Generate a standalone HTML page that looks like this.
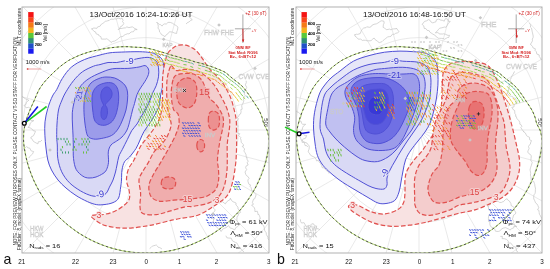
<!DOCTYPE html>
<html><head><meta charset="utf-8"><style>
html,body{margin:0;padding:0;background:#fff;width:550px;height:269px;overflow:hidden}
svg{display:block}
text{font-family:"Liberation Sans",Arial,sans-serif}
</style></head><body>
<svg width="550" height="269" viewBox="0 0 550 269">
<rect width="550" height="269" fill="#fff"/>
<clipPath id="ca"><rect x="22" y="7" width="247" height="246"/></clipPath>
<g clip-path="url(#ca)">
<g fill="none" stroke="#dadada" stroke-width="0.6"><circle cx="146" cy="130" r="30.8"/><circle cx="146" cy="130" r="61.6"/><circle cx="146" cy="130" r="92.4"/><circle cx="146" cy="130" r="123.2"/><circle cx="146" cy="130" r="154.0"/><circle cx="146" cy="130" r="184.8"/><line x1="146" y1="130" x2="146.0" y2="430.0"/><line x1="146" y1="130" x2="223.6" y2="419.8"/><line x1="146" y1="130" x2="296.0" y2="389.8"/><line x1="146" y1="130" x2="358.1" y2="342.1"/><line x1="146" y1="130" x2="405.8" y2="280.0"/><line x1="146" y1="130" x2="435.8" y2="207.6"/><line x1="146" y1="130" x2="446.0" y2="130.0"/><line x1="146" y1="130" x2="435.8" y2="52.4"/><line x1="146" y1="130" x2="405.8" y2="-20.0"/><line x1="146" y1="130" x2="358.1" y2="-82.1"/><line x1="146" y1="130" x2="296.0" y2="-129.8"/><line x1="146" y1="130" x2="223.6" y2="-159.8"/><line x1="146" y1="130" x2="146.0" y2="-170.0"/><line x1="146" y1="130" x2="68.4" y2="-159.8"/><line x1="146" y1="130" x2="-4.0" y2="-129.8"/><line x1="146" y1="130" x2="-66.1" y2="-82.1"/><line x1="146" y1="130" x2="-113.8" y2="-20.0"/><line x1="146" y1="130" x2="-143.8" y2="52.4"/><line x1="146" y1="130" x2="-154.0" y2="130.0"/><line x1="146" y1="130" x2="-143.8" y2="207.6"/><line x1="146" y1="130" x2="-113.8" y2="280.0"/><line x1="146" y1="130" x2="-66.1" y2="342.1"/><line x1="146" y1="130" x2="-4.0" y2="389.8"/><line x1="146" y1="130" x2="68.4" y2="419.8"/></g>
<g fill="none" stroke="#c4c4c4" stroke-width="0.7"><path d="M91.2,29.2 L93.8,28.0 L95.0,28.1 L96.8,28.4 L97.6,26.9 L100.1,26.2 L101.3,24.2 L102.2,24.0 L103.2,23.0 L105.9,21.0 L106.1,21.2 L109.2,20.4 L109.7,19.9 L111.0,19.1 L113.4,19.3 L114.7,18.8 L116.4,19.0 L118.1,18.1 L120.7,18.8 L122.0,18.1 L123.2,20.7 L122.4,21.4 L124.0,23.5 L123.2,24.3 L122.0,26.0 L120.0,27.1 L119.9,28.8 L118.2,29.6 L119.2,28.6 L122.2,28.4 L123.0,28.1 L125.6,27.8 L126.8,26.9 L128.9,27.6 L130.8,27.2 L132.6,26.8 L133.8,28.0 L137.2,29.6 L134.7,29.7 L133.4,31.8 L132.4,31.8 L131.1,32.0 L129.0,33.9 L127.6,33.7 L125.6,34.5 L125.2,34.2 L123.5,36.1 L122.1,36.6 L120.5,36.8 L118.9,37.9 L116.9,39.9 L116.5,40.0 L114.6,41.1 L112.5,41.5 L111.0,42.5 L109.9,41.0 L107.7,39.4 L106.8,38.7 L106.0,39.1 L104.1,39.1 L101.4,39.1 L100.9,36.7 L98.6,35.4 L98.6,34.6 L96.3,34.0 L95.5,31.9 L94.0,31.4 L92.6,29.6 L91.8,28.6"/><path d="M157.1,23.0 L157.0,22.5 L159.6,24.5 L160.7,24.7 L162.0,26.1 L163.3,24.5 L164.4,23.9 L166.3,24.0 L168.0,22.4 L169.0,22.4 L170.2,22.4 L172.6,23.3 L174.3,24.6 L175.8,25.3 L176.5,25.7 L177.9,27.1 L177.5,30.3 L177.0,30.7 L176.6,33.5 L174.4,33.0 L172.4,32.1 L169.8,31.8 L169.5,31.7 L167.9,33.8 L166.2,34.8 L165.0,36.7 L163.3,35.5 L161.4,34.6 L160.6,32.9 L159.6,32.1 L159.3,29.9 L158.0,28.1 L158.3,26.4 L158.1,25.0 L157.6,23.5 L156.4,22.3"/><path d="M167.6,12.1 L169.2,13.0 L171.0,12.9 L171.4,14.9 L173.2,14.8 L175.8,16.0 L177.3,15.6 L178.8,14.6 L180.6,15.4 L182.2,14.8 L184.3,13.3 L186.0,15.1 L186.9,15.2 L189.4,17.0 L190.8,18.6 L192.3,19.7 L190.3,20.7 L188.9,22.2 L188.1,22.1 L186.0,24.0"/><path d="M246.2,80.8 L246.3,82.6 L245.3,84.9 L246.9,87.4 L246.4,87.8 L245.6,89.6 L244.5,90.9 L244.4,94.4 L245.3,95.8 L244.9,96.2 L243.4,98.8 L243.9,100.9 L243.8,100.9 L242.8,103.9 L242.2,104.4 L241.7,105.9 L242.2,109.2 L240.8,109.6 L241.1,111.8 L240.5,114.0 L239.1,114.6 L238.8,116.2 L237.3,117.6 L238.5,118.8 L236.6,121.8 L237.0,123.3 L237.2,124.7 L238.2,126.1 L236.7,127.9 L237.0,129.8 L237.1,132.3 L237.8,133.3 L239.8,133.7 L238.6,135.4 L240.9,137.7 L240.5,138.5 L241.1,140.2 L241.2,142.4 L243.4,144.5 L243.4,146.2 L242.2,146.3 L244.7,149.0 L243.8,151.0 L244.9,152.4 L244.9,152.7 L245.9,154.2 L246.4,157.7 L247.0,157.3 L247.0,159.3 L248.3,161.4 L247.0,162.5 L248.2,165.0 L246.2,165.9 L245.6,167.8 L246.7,169.5 L245.0,172.0 L245.9,174.7 L246.2,175.3 L248.1,176.7 L249.1,178.5 L247.9,179.9 L248.0,181.6 L248.9,184.2 L250.7,185.0 L249.8,186.1 L251.1,187.7 L251.9,190.8 L252.5,190.7 L255.1,193.5 L256.1,194.8 L255.4,197.0 L254.6,198.9 L253.5,199.1 L252.4,202.5 L253.4,204.3 L251.6,205.3 L253.5,206.7 L254.4,207.9 L254.9,209.7 L254.9,211.6 L257.3,211.2 L258.2,214.6 L258.4,214.0 L259.5,215.8 L260.4,218.7 L259.0,219.3 L261.0,221.8 L261.9,224.3 L261.4,223.9 L263.6,225.6 L264.2,227.5 L264.7,230.6 L265.5,231.8 L266.2,232.7 L266.4,234.6 L267.9,237.3 L267.9,238.4 L269.0,240.0"/><path d="M22.2,96.5 L24.1,97.9 L25.5,98.8 L25.6,98.9 L28.9,100.3 L28.1,100.7 L26.4,102.5 L25.8,104.6 L24.0,105.4 L26.1,107.8 L28.5,107.3 L30.1,108.3 L31.2,109.3 L29.0,112.2 L28.4,112.4 L29.0,115.2 L26.6,116.9 L28.6,117.6 L29.4,119.4 L31.9,120.7 L33.8,120.6 L31.7,121.8 L30.3,123.1 L29.6,125.7 L28.0,127.4 L30.2,127.9 L32.6,129.5 L33.1,130.7 L35.4,131.1 L35.0,132.5 L33.5,135.7 L31.0,137.1 L30.7,138.2 L31.5,138.3 L33.4,141.4 L34.9,142.3 L37.9,143.9 L38.4,141.7 L40.4,141.6 L42.0,140.0"/><path d="M22.6,150.6 L23.2,148.5 L23.5,148.3 L25.7,147.5 L26.7,146.5 L27.7,147.8 L29.9,148.2 L30.7,150.0 L31.2,150.9 L33.6,151.5 L32.6,153.9 L31.7,154.7 L29.2,157.1 L29.0,158.0"/><path d="M211.6,204.3 L213.8,202.9 L215.1,202.2 L215.6,201.3 L217.1,199.9 L218.9,199.9 L221.3,202.2 L222.5,201.7 L225.3,203.9 L226.7,201.8 L229.0,200.1 L230.2,199.6 L230.3,198.2 L231.9,200.9 L232.9,201.7 L235.0,202.5 L236.1,203.1 L235.9,205.0 L238.0,207.1 L238.0,209.0 L239.1,210.0 L240.6,212.4 L238.5,213.6 L238.1,215.8 L237.5,216.1 L237.0,217.2 L236.8,220.0 L237.3,221.0 L238.1,222.8 L240.5,224.1 L239.3,224.9 L237.4,226.7 L235.7,227.7 L234.7,229.9 L232.4,228.6 L230.1,227.9 L229.8,227.7 L228.6,225.6 L226.3,227.6 L224.0,228.4 L222.8,229.0 L221.1,231.5 L219.8,229.2 L218.8,229.2 L216.7,227.1 L216.1,226.8 L215.8,225.1 L214.0,222.6 L213.3,222.0 L213.7,218.9 L211.4,217.5 L212.2,216.2 L213.7,214.0 L213.3,212.6 L214.7,211.1 L215.2,209.9 L213.5,208.2 L213.1,205.6 L212.0,205.0"/><path d="M225.9,235.7 L226.8,237.7 L228.0,238.0 L231.3,238.2 L232.1,240.2 L232.6,241.0 L235.4,242.4 L237.0,243.1 L237.5,244.2 L239.2,247.2 L240.6,248.3 L241.4,249.7 L242.0,250.2 L244.0,252.0"/><path d="M149.6,248.7 L150.9,247.6 L152.3,246.1 L155.3,245.3 L156.2,244.9 L157.4,246.0 L158.5,247.5 L159.8,247.6 L162.0,249.0"/></g>
<path d="M45.0,121.8 C45.5,117.3 46.5,112.7 47.8,108.4 C49.0,104.1 51.0,99.1 52.5,96.0 C54.0,92.9 55.1,92.5 56.7,89.6 C58.3,86.7 59.9,82.2 62.3,78.5 C64.7,74.8 67.5,70.5 71.2,67.3 C74.9,64.1 79.8,61.5 84.6,59.5 C89.4,57.5 95.8,56.1 100.0,55.0 C104.2,53.9 106.5,53.3 110.0,52.8 C113.5,52.3 116.4,52.3 121.2,52.1 C126.0,51.9 134.3,51.6 139.1,51.7 C143.9,51.8 147.3,52.1 150.0,52.5 C152.7,52.9 153.0,52.9 155.0,54.0 C157.0,55.1 160.3,56.6 161.8,58.9 C163.3,61.2 163.6,64.8 164.0,67.8 C164.4,70.8 164.2,73.8 164.0,76.8 C163.8,79.8 163.5,82.7 162.9,85.7 C162.3,88.7 161.2,91.6 160.7,94.6 C160.1,97.6 160.1,100.9 159.6,103.5 C159.1,106.1 159.0,107.0 157.5,110.0 C156.0,113.0 152.9,118.2 150.7,121.8 C148.4,125.4 145.8,128.5 144.0,131.5 C142.2,134.5 141.3,137.2 140.0,140.0 C138.7,142.8 137.8,145.7 136.0,148.5 C134.2,151.3 131.4,154.8 129.5,157.0 C127.6,159.2 125.8,159.6 124.5,161.8 C123.2,164.0 122.5,167.0 122.0,170.0 C121.5,173.0 121.7,177.2 121.5,180.0 C121.3,182.8 121.2,183.8 120.7,186.8 C120.2,189.8 119.9,195.4 118.6,198.0 C117.3,200.6 115.4,201.5 113.0,202.6 C110.6,203.7 106.8,204.3 104.0,204.6 C101.2,204.9 99.1,205.1 96.3,204.6 C93.5,204.1 90.8,203.1 87.4,201.6 C84.0,200.1 79.6,197.8 76.0,195.5 C72.4,193.2 69.0,190.6 66.0,188.0 C63.0,185.4 60.4,183.0 58.0,180.0 C55.6,177.0 53.2,173.3 51.5,170.0 C49.8,166.7 48.7,163.7 47.8,160.0 C46.9,156.3 46.5,152.1 46.0,148.0 C45.5,143.9 45.1,139.6 44.9,135.2 C44.7,130.8 44.5,126.3 45.0,121.8Z" fill="#e7e7f8" stroke="#5050d6" stroke-width="1.0"/>
<path d="M57.0,124.0 C57.3,119.4 57.7,114.0 58.5,110.0 C59.3,106.0 60.8,103.0 62.0,100.0 C63.2,97.0 64.1,95.0 66.0,91.8 C67.9,88.6 70.8,84.0 73.5,80.7 C76.2,77.4 79.1,74.2 82.4,71.8 C85.7,69.4 90.6,67.4 93.5,66.2 C96.4,65.0 97.6,65.2 100.0,64.6 C102.4,64.0 105.2,62.9 108.0,62.5 C110.8,62.1 114.1,62.8 116.8,62.5 C119.5,62.2 121.8,61.3 124.0,61.0 C126.2,60.7 127.5,60.9 130.0,60.5 C132.5,60.1 135.8,58.9 139.0,58.4 C142.2,57.9 146.6,57.0 149.5,57.5 C152.4,58.0 154.7,59.5 156.2,61.2 C157.7,62.9 158.1,65.2 158.5,67.8 C158.9,70.4 158.9,73.8 158.5,76.8 C158.1,79.8 157.1,83.1 156.2,85.7 C155.3,88.3 153.8,90.2 152.9,92.4 C152.0,94.6 151.6,96.4 150.5,99.0 C149.4,101.6 148.0,105.2 146.5,108.0 C145.0,110.8 143.1,113.3 141.5,116.0 C139.9,118.7 138.6,121.5 137.0,124.0 C135.4,126.5 133.3,128.1 131.7,130.7 C130.1,133.3 128.9,136.5 127.3,139.6 C125.7,142.7 123.7,146.7 122.3,149.5 C120.9,152.3 119.8,153.6 118.9,156.2 C118.0,158.8 117.6,162.4 117.0,165.0 C116.4,167.6 116.2,169.5 115.5,172.0 C114.8,174.5 113.9,177.7 113.0,180.0 C112.1,182.3 111.2,183.8 110.0,186.0 C108.8,188.2 107.7,191.8 106.0,193.5 C104.3,195.2 102.4,195.6 100.0,196.0 C97.6,196.4 95.0,196.6 91.8,195.8 C88.6,195.0 84.4,193.2 80.7,191.0 C77.0,188.8 72.7,186.0 69.5,182.8 C66.3,179.6 63.7,175.9 61.7,171.8 C59.8,167.7 58.5,162.9 57.8,158.4 C57.1,153.9 57.5,148.5 57.3,145.0 C57.1,141.5 56.8,140.9 56.7,137.4 C56.7,133.9 56.7,128.6 57.0,124.0Z" fill="#d9d9f5" stroke="#5050d6" stroke-width="1.0"/>
<path d="M72.5,125.0 C72.4,121.3 72.0,117.0 72.3,112.8 C72.6,108.6 73.8,103.3 74.6,100.0 C75.4,96.7 75.9,95.5 77.0,93.0 C78.1,90.5 79.3,87.6 81.3,85.2 C83.3,82.8 86.0,80.5 89.1,78.5 C92.2,76.5 96.1,74.6 100.0,73.0 C103.9,71.4 107.6,69.6 112.3,68.8 C117.0,68.0 123.5,68.7 127.9,68.4 C132.3,68.1 136.1,67.5 139.0,67.0 C141.9,66.5 143.5,65.3 145.1,65.6 C146.7,65.9 147.8,67.5 148.4,69.0 C149.0,70.5 149.0,72.5 148.4,74.5 C147.8,76.5 146.4,79.0 145.1,81.2 C143.8,83.4 141.9,85.7 140.6,87.9 C139.2,90.1 138.0,92.0 137.0,94.6 C136.0,97.2 135.2,100.9 134.5,103.5 C133.8,106.1 133.2,107.3 132.5,110.0 C131.8,112.7 131.1,116.2 130.2,119.5 C129.3,122.8 128.4,127.1 127.0,130.0 C125.6,132.9 123.7,135.2 122.0,137.0 C120.3,138.8 118.5,139.7 116.7,141.0 C114.9,142.3 112.4,143.2 111.0,145.0 C109.6,146.8 108.7,149.0 108.3,151.9 C107.9,154.8 108.8,159.3 108.5,162.3 C108.2,165.3 107.4,167.8 106.5,169.7 C105.6,171.6 104.8,172.3 103.0,173.5 C101.2,174.7 98.3,176.2 96.0,177.0 C93.7,177.8 91.2,178.1 89.0,178.0 C86.8,177.9 85.0,177.6 82.9,176.2 C80.8,174.8 77.8,172.5 76.2,169.5 C74.6,166.5 74.0,162.5 73.5,158.4 C73.0,154.3 73.4,148.9 73.3,145.0 C73.2,141.1 73.1,138.3 73.0,135.0 C72.9,131.7 72.6,128.7 72.5,125.0Z" fill="#c0c0f1" stroke="#5050d6" stroke-width="1.0"/>
<path d="M84.0,112.8 C83.8,108.0 83.9,103.6 84.3,100.0 C84.7,96.4 85.4,93.8 86.5,91.0 C87.6,88.2 88.9,85.1 91.0,83.0 C93.1,80.9 96.4,79.5 98.9,78.5 C101.4,77.5 103.4,77.1 106.0,77.0 C108.6,76.9 112.2,77.2 114.7,78.0 C117.2,78.8 119.2,80.2 121.0,81.5 C122.8,82.8 124.4,84.2 125.5,86.0 C126.6,87.8 127.2,89.7 127.5,92.0 C127.8,94.3 127.8,97.0 127.5,100.0 C127.2,103.0 126.8,106.7 126.0,110.0 C125.2,113.3 123.8,116.8 122.5,120.0 C121.2,123.2 119.8,126.4 118.0,129.0 C116.2,131.6 114.3,133.9 111.5,135.5 C108.7,137.1 104.2,137.9 101.2,138.5 C98.2,139.1 95.7,139.4 93.5,139.0 C91.3,138.6 89.3,138.1 88.0,136.3 C86.7,134.6 86.4,132.4 85.7,128.5 C85.0,124.6 84.2,117.5 84.0,112.8Z" fill="#9c9cea" stroke="#5050d6" stroke-width="1.0"/>
<path d="M92.0,100.0 C92.0,97.0 92.1,94.3 93.0,92.0 C93.9,89.7 95.5,87.5 97.5,86.0 C99.5,84.5 102.6,83.5 105.0,83.0 C107.4,82.5 110.1,82.4 112.0,83.0 C113.9,83.6 115.4,84.8 116.5,86.5 C117.6,88.2 118.2,90.5 118.5,93.0 C118.8,95.5 118.8,98.4 118.5,101.7 C118.2,105.0 117.5,109.6 116.5,112.8 C115.5,116.0 114.2,119.0 112.5,121.0 C110.8,123.0 108.2,124.4 106.0,125.0 C103.8,125.6 100.9,125.3 99.0,124.5 C97.1,123.7 95.5,122.4 94.5,120.0 C93.5,117.6 93.1,113.3 92.7,110.0 C92.3,106.7 92.0,103.0 92.0,100.0Z" fill="#7070e4" stroke="#5050d6" stroke-width="1.0"/>
<path d="M106.5,87.0 C107.8,86.8 109.1,87.6 110.0,88.5 C110.9,89.4 111.8,91.1 112.0,92.5 C112.2,93.9 112.1,95.6 111.5,97.0 C110.9,98.4 109.5,99.8 108.5,101.0 C107.5,102.2 105.8,103.3 105.5,104.5 C105.2,105.7 106.7,106.6 107.0,108.0 C107.3,109.4 107.7,111.3 107.5,113.0 C107.3,114.7 106.6,116.9 106.0,118.0 C105.4,119.1 104.8,119.6 104.0,119.5 C103.2,119.4 102.0,118.8 101.5,117.5 C101.0,116.2 100.9,113.7 101.0,112.0 C101.1,110.3 101.6,108.7 102.0,107.5 C102.4,106.3 103.6,106.2 103.5,105.0 C103.4,103.8 102.0,102.2 101.5,100.5 C101.0,98.8 100.6,96.8 100.8,95.0 C101.0,93.2 101.5,90.8 102.5,89.5 C103.5,88.2 105.2,87.2 106.5,87.0Z" fill="#5a5ade" stroke="#5050d6" stroke-width="1.0"/>
<path d="M165.6,60.0 C166.3,57.2 166.8,55.0 168.0,53.0 C169.2,51.0 171.2,49.3 173.0,48.0 C174.8,46.7 176.4,45.7 178.6,45.2 C180.8,44.7 183.7,44.7 186.0,45.2 C188.3,45.7 190.6,46.9 192.5,48.0 C194.4,49.1 195.5,49.8 197.2,51.7 C198.9,53.6 200.8,56.3 202.8,59.2 C204.9,62.1 206.9,65.8 209.5,68.9 C212.1,72.0 215.8,74.8 218.4,77.8 C221.0,80.8 223.1,83.4 225.1,86.8 C227.1,90.2 229.2,94.2 230.7,97.9 C232.2,101.6 233.1,105.4 234.0,109.1 C234.9,112.8 235.8,115.7 236.2,120.0 C236.6,124.3 236.4,130.0 236.5,135.0 C236.6,140.0 236.7,145.0 236.5,150.0 C236.3,155.0 236.2,159.5 235.5,165.0 C234.8,170.5 233.8,177.6 232.4,182.8 C231.0,188.0 230.0,192.3 226.8,196.2 C223.7,200.1 218.3,203.1 213.5,206.3 C208.7,209.5 203.4,213.2 197.8,215.2 C192.2,217.2 184.3,217.7 180.0,218.5 C175.7,219.3 175.4,219.4 171.8,220.2 C168.2,221.0 162.5,222.6 158.5,223.5 C154.5,224.4 152.3,225.0 148.0,225.7 C143.7,226.4 137.4,227.5 132.6,227.9 C127.8,228.3 123.7,228.3 119.2,227.9 C114.7,227.5 109.5,226.8 105.8,225.7 C102.1,224.6 99.3,222.9 96.9,221.2 C94.5,219.5 90.2,216.8 91.3,215.7 C92.4,214.6 99.7,215.2 103.6,214.5 C107.5,213.8 111.4,212.7 114.8,211.2 C118.2,209.7 121.3,207.6 123.7,205.6 C126.1,203.6 128.4,201.5 129.3,198.9 C130.2,196.3 129.5,193.1 129.0,190.0 C128.5,186.9 126.6,183.6 126.5,180.1 C126.4,176.6 127.2,172.2 128.5,168.9 C129.8,165.6 132.0,163.8 134.0,160.0 C136.0,156.2 138.4,150.1 140.6,146.3 C142.8,142.5 145.1,140.4 147.3,137.4 C149.5,134.4 152.1,131.5 154.0,128.5 C155.9,125.5 157.7,122.8 159.0,119.5 C160.3,116.2 161.4,112.5 162.0,108.4 C162.6,104.3 162.4,99.7 162.5,95.0 C162.6,90.3 162.3,84.2 162.5,80.0 C162.7,75.8 163.0,73.3 163.5,70.0 C164.0,66.7 164.8,62.8 165.6,60.0Z" fill="#f8e2e2" stroke="#e0504e" stroke-width="1.2" stroke-dasharray="4.6,2.2"/>
<path d="M171.0,66.0 C172.4,64.8 173.8,69.9 176.0,70.5 C178.2,71.1 181.0,69.4 184.2,69.4 C187.4,69.4 191.8,69.3 195.3,70.3 C198.8,71.3 201.9,73.2 205.0,75.6 C208.1,78.0 211.3,81.2 213.9,84.5 C216.5,87.8 218.6,92.0 220.6,95.7 C222.6,99.4 224.7,103.1 226.2,106.8 C227.7,110.5 228.9,114.5 229.5,118.0 C230.1,121.5 229.9,123.5 229.5,127.8 C229.1,132.1 227.7,138.3 227.3,143.5 C226.9,148.7 227.4,154.7 227.3,159.1 C227.2,163.5 227.4,165.7 227.0,170.0 C226.6,174.3 225.9,180.6 224.6,185.0 C223.3,189.4 221.6,193.2 219.0,196.2 C216.4,199.2 213.3,201.2 209.0,202.9 C204.7,204.6 197.4,205.7 193.4,206.3 C189.4,207.0 189.0,206.0 185.0,206.8 C181.0,207.6 174.4,209.9 169.6,211.2 C164.8,212.5 160.7,214.2 156.2,214.6 C151.7,215.0 145.5,214.8 142.8,213.5 C140.1,212.2 140.4,210.2 140.0,206.8 C139.6,203.5 140.8,197.9 140.6,193.4 C140.4,188.9 138.7,183.5 139.0,180.0 C139.3,176.5 140.7,175.1 142.2,172.3 C143.7,169.5 145.8,166.8 147.8,163.4 C149.8,160.0 152.0,154.9 154.0,152.0 C156.0,149.1 157.9,148.6 160.0,146.2 C162.1,143.8 164.9,140.6 166.7,137.3 C168.5,134.0 170.4,129.4 171.0,126.2 C171.6,123.0 170.5,120.8 170.0,118.0 C169.5,115.2 168.4,113.2 167.8,109.1 C167.2,105.0 166.8,98.7 166.7,93.5 C166.6,88.3 166.6,82.6 167.3,78.0 C168.0,73.4 169.6,67.2 171.0,66.0Z" fill="#f4cdcd" stroke="#e0504e" stroke-width="1.2" stroke-dasharray="4.6,2.2"/>
<path d="M173.4,78.5 C174.5,75.3 176.1,75.3 178.0,74.5 C179.9,73.7 182.4,73.6 185.0,73.5 C187.6,73.4 190.8,73.0 193.5,74.0 C196.2,75.0 199.3,77.2 201.3,79.5 C203.3,81.8 204.1,84.9 205.5,88.0 C206.9,91.1 207.7,95.1 209.5,97.9 C211.3,100.7 214.2,102.0 216.2,104.6 C218.2,107.2 220.5,110.9 221.7,113.5 C222.9,116.1 223.3,117.6 223.5,120.0 C223.7,122.4 223.5,123.9 222.8,127.8 C222.1,131.7 220.4,138.3 219.5,143.5 C218.6,148.7 217.7,154.7 217.5,159.1 C217.3,163.5 218.3,166.4 218.5,170.0 C218.7,173.6 219.0,177.3 218.5,180.6 C218.0,183.8 217.6,186.9 215.7,189.5 C213.8,192.1 210.3,194.7 206.8,196.2 C203.3,197.7 198.1,197.9 194.5,198.5 C190.9,199.1 188.5,199.2 185.0,199.5 C181.5,199.8 177.7,199.9 173.5,200.2 C169.3,200.5 163.8,201.9 160.1,201.3 C156.4,200.7 153.1,199.4 151.2,196.8 C149.3,194.2 148.5,189.4 148.9,185.7 C149.3,182.0 151.5,178.2 153.4,174.5 C155.3,170.8 158.2,166.7 160.1,163.4 C162.0,160.2 163.3,157.9 165.0,155.0 C166.7,152.1 168.2,149.3 170.0,146.0 C171.8,142.7 174.1,138.8 175.6,135.1 C177.1,131.4 178.6,127.5 179.0,124.0 C179.4,120.5 178.9,116.5 178.0,114.0 C177.1,111.5 174.5,112.5 173.4,109.1 C172.3,105.7 171.2,98.6 171.2,93.5 C171.2,88.4 172.3,81.7 173.4,78.5Z" fill="#f0adad" stroke="#e0504e" stroke-width="1.2" stroke-dasharray="4.6,2.2"/>
<path d="M176.7,93.0 C176.5,89.7 176.3,85.5 178.0,83.0 C179.7,80.5 183.9,78.0 186.7,77.8 C189.5,77.6 193.3,79.5 195.0,82.0 C196.7,84.5 197.0,89.3 196.8,93.0 C196.6,96.7 195.7,101.5 194.0,104.0 C192.3,106.5 189.2,108.2 186.7,108.0 C184.2,107.8 180.7,105.5 179.0,103.0 C177.3,100.5 176.9,96.3 176.7,93.0Z" fill="#ec9090" stroke="#e0504e" stroke-width="1.2" stroke-dasharray="4.6,2.2"/>
<path d="M208.3,120.6 C208.3,118.2 208.6,114.6 209.5,113.0 C210.4,111.4 212.4,110.9 213.9,111.1 C215.4,111.3 217.6,112.4 218.5,114.0 C219.4,115.6 219.5,118.4 219.5,120.6 C219.5,122.8 219.4,125.4 218.5,127.0 C217.6,128.6 215.4,130.0 213.9,130.1 C212.4,130.2 210.4,129.1 209.5,127.5 C208.6,125.9 208.3,123.0 208.3,120.6Z" fill="#ec9090" stroke="#e0504e" stroke-width="1.2" stroke-dasharray="4.6,2.2"/>
<path d="M196.8,145.6 C196.8,144.1 197.3,142.0 198.0,141.0 C198.7,140.0 199.8,139.5 200.7,139.5 C201.6,139.5 202.8,140.0 203.5,141.0 C204.2,142.0 204.6,144.1 204.6,145.6 C204.6,147.1 204.2,149.0 203.5,150.0 C202.8,151.0 201.6,151.8 200.7,151.8 C199.8,151.8 198.7,151.0 198.0,150.0 C197.3,149.0 196.8,147.1 196.8,145.6Z" fill="#ec9090" stroke="#e0504e" stroke-width="1.2" stroke-dasharray="4.6,2.2"/>
<path d="M161.2,183.0 C161.2,181.5 161.8,179.5 163.0,178.5 C164.2,177.5 166.7,176.8 168.5,176.8 C170.3,176.8 172.8,177.5 174.0,178.5 C175.2,179.5 175.7,181.5 175.7,183.0 C175.7,184.5 175.2,186.5 174.0,187.5 C172.8,188.5 170.3,189.0 168.5,189.0 C166.7,189.0 164.2,188.5 163.0,187.5 C161.8,186.5 161.2,184.5 161.2,183.0Z" fill="#ec9090" stroke="#e0504e" stroke-width="1.2" stroke-dasharray="4.6,2.2"/>
<path d="M146.0,253.0 C148.1,253.0 150.3,253.0 152.4,252.9 C154.6,252.8 156.7,252.6 158.9,252.4 C161.0,252.2 163.1,251.9 165.3,251.6 C167.4,251.3 169.5,250.9 171.6,250.5 C173.7,250.0 175.8,249.5 177.9,249.0 C180.0,248.4 182.0,247.8 184.1,247.2 C186.1,246.5 188.2,245.8 190.2,245.1 C192.2,244.3 194.2,243.5 196.1,242.6 C198.1,241.8 200.1,240.8 202.0,239.9 C203.9,238.9 205.8,237.9 207.7,236.8 C209.5,235.8 211.4,234.6 213.2,233.5 C215.0,232.3 216.8,231.1 218.5,229.9 C220.3,228.6 222.0,227.3 223.7,225.9 C225.4,224.6 227.0,223.2 228.6,221.8 C230.2,220.3 231.8,218.9 233.3,217.3 C234.9,215.8 236.4,214.3 237.8,212.7 C239.3,211.1 240.7,209.5 242.1,207.8 C243.4,206.1 244.7,204.4 246.0,202.7 C247.3,200.9 248.5,199.2 249.7,197.4 C250.9,195.6 252.0,193.7 253.1,191.9 C254.2,190.0 255.3,188.1 256.3,186.2 C257.2,184.3 258.2,182.3 259.1,180.3 C260.0,178.4 260.8,176.4 261.6,174.4 C262.4,172.4 263.1,170.3 263.8,168.3 C264.5,166.2 265.1,164.1 265.7,162.1 C266.2,160.0 266.7,157.9 267.2,155.8 C267.7,153.7 268.1,151.5 268.4,149.4 C268.8,147.3 269.3,145.1 269.3,143.0 C269.3,140.8 269.0,138.6 268.6,136.4 C268.2,134.3 267.8,132.1 267.0,130.0 C266.2,127.9 264.6,125.9 263.8,123.8 C263.0,121.8 262.8,119.8 262.2,117.8 C261.5,115.8 260.8,113.9 259.9,112.0 C259.0,110.1 257.8,108.3 256.7,106.5 C255.6,104.7 254.4,103.0 253.2,101.3 C252.1,99.6 251.0,97.9 249.9,96.2 C248.8,94.6 247.6,93.0 246.5,91.4 C245.3,89.9 244.2,88.3 242.8,86.9 C241.5,85.5 239.9,84.2 238.3,82.9 C236.8,81.7 235.2,80.5 233.7,79.4 C232.2,78.2 230.9,77.0 229.4,75.8 C228.0,74.6 226.8,73.4 225.3,72.4 C223.7,71.4 221.8,70.7 220.1,70.0 C218.4,69.2 216.6,68.6 214.9,67.9 C213.2,67.3 211.5,66.7 209.9,66.1 C208.2,65.6 206.6,65.0 205.0,64.5 C203.4,63.9 201.8,63.5 200.2,63.1 C198.6,62.7 196.9,62.5 195.4,62.0 C193.9,61.6 192.5,61.0 191.1,60.5 C189.7,60.1 188.3,59.7 186.8,59.3 C185.4,58.9 183.9,58.7 182.5,58.3 C181.2,57.9 179.9,57.4 178.5,57.0 C177.2,56.6 175.8,56.3 174.4,55.9 C173.1,55.5 171.8,55.2 170.4,54.8 C169.1,54.4 167.8,53.9 166.5,53.5 C165.2,53.1 163.8,52.7 162.5,52.3 C161.2,52.0 159.8,51.6 158.5,51.2 C157.1,50.8 155.8,50.3 154.4,49.9 C153.0,49.5 151.7,49.2 150.3,48.9 C148.8,48.5 147.4,48.2 146.0,48.0 C144.6,47.8 143.1,47.6 141.7,47.5 C140.2,47.4 138.8,47.3 137.3,47.3 C135.8,47.2 134.4,47.1 132.9,47.1 C131.4,47.0 129.8,46.8 128.3,46.7 C126.8,46.7 125.2,46.7 123.7,46.7 C122.1,46.7 120.6,46.8 119.0,46.9 C117.4,47.0 115.9,47.2 114.3,47.4 C112.7,47.5 111.1,47.7 109.5,47.9 C107.8,48.1 106.2,48.4 104.6,48.7 C102.9,49.0 101.3,49.4 99.7,49.7 C98.0,50.1 96.2,50.3 94.5,50.7 C92.8,51.0 91.0,51.5 89.3,51.9 C87.6,52.4 85.8,53.0 84.1,53.6 C82.4,54.1 80.6,54.8 78.9,55.5 C77.2,56.2 75.5,57.0 73.8,57.8 C72.1,58.6 70.4,59.5 68.7,60.4 C67.1,61.4 65.5,62.5 64.0,63.6 C62.4,64.7 61.0,65.9 59.5,67.1 C58.0,68.4 56.6,69.7 55.1,71.0 C53.7,72.3 52.3,73.7 50.9,75.1 C49.5,76.5 48.1,77.9 46.7,79.4 C45.4,80.9 44.0,82.4 42.8,84.1 C41.6,85.7 40.4,87.3 39.4,89.1 C38.3,90.8 37.6,92.7 36.7,94.5 C35.9,96.3 35.2,98.2 34.4,100.1 C33.5,102.0 32.7,103.8 31.8,105.7 C31.0,107.6 30.1,109.6 29.3,111.5 C28.5,113.5 27.8,115.5 27.1,117.5 C26.5,119.5 25.9,121.6 25.4,123.7 C24.8,125.8 24.3,127.9 24.0,130.0 C23.7,132.1 23.6,134.3 23.6,136.4 C23.5,138.6 23.5,140.7 23.7,142.9 C23.8,145.0 24.2,147.1 24.5,149.2 C24.9,151.4 25.2,153.5 25.7,155.6 C26.1,157.7 26.6,159.8 27.2,161.8 C27.7,163.9 28.4,166.0 29.0,168.0 C29.7,170.0 30.4,172.1 31.2,174.1 C31.9,176.1 32.8,178.1 33.6,180.0 C34.5,182.0 35.4,183.9 36.4,185.8 C37.4,187.8 38.4,189.6 39.5,191.5 C40.6,193.4 41.7,195.2 42.8,197.0 C44.0,198.8 45.2,200.6 46.5,202.3 C47.8,204.0 49.1,205.7 50.4,207.4 C51.8,209.1 53.2,210.7 54.6,212.3 C56.0,213.9 57.5,215.5 59.0,217.0 C60.5,218.5 62.1,220.0 63.7,221.4 C65.3,222.8 66.9,224.2 68.6,225.6 C70.3,226.9 72.0,228.2 73.7,229.5 C75.4,230.8 77.2,232.0 79.0,233.2 C80.8,234.3 82.6,235.4 84.5,236.5 C86.4,237.6 88.2,238.6 90.2,239.6 C92.1,240.6 94.0,241.5 96.0,242.4 C97.9,243.2 99.9,244.1 101.9,244.8 C103.9,245.6 106.0,246.3 108.0,247.0 C110.0,247.6 112.1,248.3 114.2,248.8 C116.2,249.4 118.3,249.9 120.4,250.3 C122.5,250.8 124.6,251.1 126.8,251.5 C128.9,251.8 131.0,252.1 133.1,252.3 C135.3,252.6 137.4,252.7 139.6,252.8 C141.7,252.9 143.9,253.0 146.0,253.0Z" fill="none" stroke="#b8de74" stroke-width="1.0"/>
<path d="M146.0,253.0 C148.1,253.0 150.3,253.0 152.4,252.9 C154.6,252.8 156.7,252.6 158.9,252.4 C161.0,252.2 163.1,251.9 165.3,251.6 C167.4,251.3 169.5,250.9 171.6,250.5 C173.7,250.0 175.8,249.5 177.9,249.0 C180.0,248.4 182.0,247.8 184.1,247.2 C186.1,246.5 188.2,245.8 190.2,245.1 C192.2,244.3 194.2,243.5 196.1,242.6 C198.1,241.8 200.1,240.8 202.0,239.9 C203.9,238.9 205.8,237.9 207.7,236.8 C209.5,235.8 211.4,234.6 213.2,233.5 C215.0,232.3 216.8,231.1 218.5,229.9 C220.3,228.6 222.0,227.3 223.7,225.9 C225.4,224.6 227.0,223.2 228.6,221.8 C230.2,220.3 231.8,218.9 233.3,217.3 C234.9,215.8 236.4,214.3 237.8,212.7 C239.3,211.1 240.7,209.5 242.1,207.8 C243.4,206.1 244.7,204.4 246.0,202.7 C247.3,200.9 248.5,199.2 249.7,197.4 C250.9,195.6 252.0,193.7 253.1,191.9 C254.2,190.0 255.3,188.1 256.3,186.2 C257.2,184.3 258.2,182.3 259.1,180.3 C260.0,178.4 260.8,176.4 261.6,174.4 C262.4,172.4 263.1,170.3 263.8,168.3 C264.5,166.2 265.1,164.1 265.7,162.1 C266.2,160.0 266.7,157.9 267.2,155.8 C267.7,153.7 268.1,151.5 268.4,149.4 C268.8,147.3 269.3,145.1 269.3,143.0 C269.3,140.8 269.0,138.6 268.6,136.4 C268.2,134.3 267.8,132.1 267.0,130.0 C266.2,127.9 264.6,125.9 263.8,123.8 C263.0,121.8 262.8,119.8 262.2,117.8 C261.5,115.8 260.8,113.9 259.9,112.0 C259.0,110.1 257.8,108.3 256.7,106.5 C255.6,104.7 254.4,103.0 253.2,101.3 C252.1,99.6 251.0,97.9 249.9,96.2 C248.8,94.6 247.6,93.0 246.5,91.4 C245.3,89.9 244.2,88.3 242.8,86.9 C241.5,85.5 239.9,84.2 238.3,82.9 C236.8,81.7 235.2,80.5 233.7,79.4 C232.2,78.2 230.9,77.0 229.4,75.8 C228.0,74.6 226.8,73.4 225.3,72.4 C223.7,71.4 221.8,70.7 220.1,70.0 C218.4,69.2 216.6,68.6 214.9,67.9 C213.2,67.3 211.5,66.7 209.9,66.1 C208.2,65.6 206.6,65.0 205.0,64.5 C203.4,63.9 201.8,63.5 200.2,63.1 C198.6,62.7 196.9,62.5 195.4,62.0 C193.9,61.6 192.5,61.0 191.1,60.5 C189.7,60.1 188.3,59.7 186.8,59.3 C185.4,58.9 183.9,58.7 182.5,58.3 C181.2,57.9 179.9,57.4 178.5,57.0 C177.2,56.6 175.8,56.3 174.4,55.9 C173.1,55.5 171.8,55.2 170.4,54.8 C169.1,54.4 167.8,53.9 166.5,53.5 C165.2,53.1 163.8,52.7 162.5,52.3 C161.2,52.0 159.8,51.6 158.5,51.2 C157.1,50.8 155.8,50.3 154.4,49.9 C153.0,49.5 151.7,49.2 150.3,48.9 C148.8,48.5 147.4,48.2 146.0,48.0 C144.6,47.8 143.1,47.6 141.7,47.5 C140.2,47.4 138.8,47.3 137.3,47.3 C135.8,47.2 134.4,47.1 132.9,47.1 C131.4,47.0 129.8,46.8 128.3,46.7 C126.8,46.7 125.2,46.7 123.7,46.7 C122.1,46.7 120.6,46.8 119.0,46.9 C117.4,47.0 115.9,47.2 114.3,47.4 C112.7,47.5 111.1,47.7 109.5,47.9 C107.8,48.1 106.2,48.4 104.6,48.7 C102.9,49.0 101.3,49.4 99.7,49.7 C98.0,50.1 96.2,50.3 94.5,50.7 C92.8,51.0 91.0,51.5 89.3,51.9 C87.6,52.4 85.8,53.0 84.1,53.6 C82.4,54.1 80.6,54.8 78.9,55.5 C77.2,56.2 75.5,57.0 73.8,57.8 C72.1,58.6 70.4,59.5 68.7,60.4 C67.1,61.4 65.5,62.5 64.0,63.6 C62.4,64.7 61.0,65.9 59.5,67.1 C58.0,68.4 56.6,69.7 55.1,71.0 C53.7,72.3 52.3,73.7 50.9,75.1 C49.5,76.5 48.1,77.9 46.7,79.4 C45.4,80.9 44.0,82.4 42.8,84.1 C41.6,85.7 40.4,87.3 39.4,89.1 C38.3,90.8 37.6,92.7 36.7,94.5 C35.9,96.3 35.2,98.2 34.4,100.1 C33.5,102.0 32.7,103.8 31.8,105.7 C31.0,107.6 30.1,109.6 29.3,111.5 C28.5,113.5 27.8,115.5 27.1,117.5 C26.5,119.5 25.9,121.6 25.4,123.7 C24.8,125.8 24.3,127.9 24.0,130.0 C23.7,132.1 23.6,134.3 23.6,136.4 C23.5,138.6 23.5,140.7 23.7,142.9 C23.8,145.0 24.2,147.1 24.5,149.2 C24.9,151.4 25.2,153.5 25.7,155.6 C26.1,157.7 26.6,159.8 27.2,161.8 C27.7,163.9 28.4,166.0 29.0,168.0 C29.7,170.0 30.4,172.1 31.2,174.1 C31.9,176.1 32.8,178.1 33.6,180.0 C34.5,182.0 35.4,183.9 36.4,185.8 C37.4,187.8 38.4,189.6 39.5,191.5 C40.6,193.4 41.7,195.2 42.8,197.0 C44.0,198.8 45.2,200.6 46.5,202.3 C47.8,204.0 49.1,205.7 50.4,207.4 C51.8,209.1 53.2,210.7 54.6,212.3 C56.0,213.9 57.5,215.5 59.0,217.0 C60.5,218.5 62.1,220.0 63.7,221.4 C65.3,222.8 66.9,224.2 68.6,225.6 C70.3,226.9 72.0,228.2 73.7,229.5 C75.4,230.8 77.2,232.0 79.0,233.2 C80.8,234.3 82.6,235.4 84.5,236.5 C86.4,237.6 88.2,238.6 90.2,239.6 C92.1,240.6 94.0,241.5 96.0,242.4 C97.9,243.2 99.9,244.1 101.9,244.8 C103.9,245.6 106.0,246.3 108.0,247.0 C110.0,247.6 112.1,248.3 114.2,248.8 C116.2,249.4 118.3,249.9 120.4,250.3 C122.5,250.8 124.6,251.1 126.8,251.5 C128.9,251.8 131.0,252.1 133.1,252.3 C135.3,252.6 137.4,252.7 139.6,252.8 C141.7,252.9 143.9,253.0 146.0,253.0Z" fill="none" stroke="#4a4a4a" stroke-width="0.95" stroke-dasharray="2.2,2.4"/>
<g stroke-linecap="round"><line x1="248.1" y1="98.0" x2="246.7" y2="96.1" stroke="#50b0a0" stroke-width="0.9"/><line x1="243.9" y1="92.3" x2="242.6" y2="90.4" stroke="#50b0a0" stroke-width="0.9"/><line x1="241.9" y1="89.4" x2="240.2" y2="87.8" stroke="#6cc040" stroke-width="0.9"/><line x1="239.2" y1="86.9" x2="237.5" y2="85.3" stroke="#6cc040" stroke-width="0.9"/><line x1="236.4" y1="84.5" x2="234.7" y2="83.0" stroke="#50b0a0" stroke-width="0.9"/><line x1="233.5" y1="82.2" x2="231.7" y2="80.8" stroke="#6cc040" stroke-width="0.9"/><line x1="230.6" y1="80.0" x2="228.7" y2="78.7" stroke="#6cc040" stroke-width="0.9"/><line x1="227.9" y1="77.8" x2="226.1" y2="76.2" stroke="#6cc040" stroke-width="0.9"/><line x1="225.2" y1="75.4" x2="223.3" y2="74.1" stroke="#50b0a0" stroke-width="0.9"/><line x1="222.1" y1="73.4" x2="220.0" y2="72.4" stroke="#6cc040" stroke-width="0.9"/><line x1="218.6" y1="71.8" x2="216.5" y2="71.0" stroke="#6cc040" stroke-width="0.9"/><line x1="215.0" y1="70.5" x2="212.9" y2="69.6" stroke="#6cc040" stroke-width="0.9"/><line x1="211.4" y1="69.2" x2="209.2" y2="68.4" stroke="#6cc040" stroke-width="0.9"/><line x1="207.9" y1="67.9" x2="205.7" y2="67.2" stroke="#6cc040" stroke-width="0.9"/><line x1="204.4" y1="66.5" x2="202.1" y2="66.2" stroke="#50b0a0" stroke-width="0.9"/><line x1="200.8" y1="65.5" x2="198.6" y2="65.2" stroke="#6cc040" stroke-width="0.9"/><line x1="193.5" y1="64.2" x2="191.5" y2="63.1" stroke="#50b0a0" stroke-width="0.9"/><line x1="190.3" y1="62.9" x2="188.1" y2="62.2" stroke="#6cc040" stroke-width="0.9"/><line x1="186.9" y1="61.8" x2="184.7" y2="61.4" stroke="#50b0a0" stroke-width="0.9"/><line x1="183.5" y1="61.2" x2="181.3" y2="60.4" stroke="#6cc040" stroke-width="0.9"/><line x1="180.2" y1="60.0" x2="178.0" y2="59.6" stroke="#6cc040" stroke-width="0.9"/><line x1="176.9" y1="59.0" x2="174.7" y2="58.8" stroke="#6cc040" stroke-width="0.9"/><line x1="173.6" y1="58.4" x2="171.4" y2="57.8" stroke="#6cc040" stroke-width="0.9"/><line x1="170.2" y1="57.7" x2="168.2" y2="56.6" stroke="#6cc040" stroke-width="0.9"/><line x1="167.1" y1="56.4" x2="164.9" y2="55.6" stroke="#50b0a0" stroke-width="0.9"/><line x1="163.8" y1="55.6" x2="161.7" y2="54.6" stroke="#50b0a0" stroke-width="0.9"/><line x1="160.4" y1="54.9" x2="158.4" y2="53.7" stroke="#50b0a0" stroke-width="0.9"/><line x1="157.2" y1="53.4" x2="155.0" y2="52.8" stroke="#6cc040" stroke-width="0.9"/><line x1="245.0" y1="98.9" x2="243.4" y2="97.3" stroke="#a8d850" stroke-width="0.9"/><line x1="242.9" y1="96.1" x2="241.3" y2="94.4" stroke="#6cc040" stroke-width="0.9"/><line x1="240.6" y1="93.4" x2="239.3" y2="91.5" stroke="#6cc040" stroke-width="0.9"/><line x1="238.6" y1="90.4" x2="236.8" y2="89.1" stroke="#a8d850" stroke-width="0.9"/><line x1="236.0" y1="87.8" x2="234.0" y2="86.7" stroke="#a8d850" stroke-width="0.9"/><line x1="233.1" y1="85.5" x2="231.1" y2="84.4" stroke="#6cc040" stroke-width="0.9"/><line x1="229.9" y1="83.5" x2="228.2" y2="82.0" stroke="#a8d850" stroke-width="0.9"/><line x1="227.0" y1="81.2" x2="225.2" y2="79.9" stroke="#a8d850" stroke-width="0.9"/><line x1="224.3" y1="79.0" x2="222.6" y2="77.5" stroke="#a8d850" stroke-width="0.9"/><line x1="221.6" y1="76.7" x2="219.7" y2="75.5" stroke="#a8d850" stroke-width="0.9"/><line x1="218.2" y1="74.9" x2="216.1" y2="74.0" stroke="#6cc040" stroke-width="0.9"/><line x1="214.7" y1="73.3" x2="212.5" y2="72.8" stroke="#a8d850" stroke-width="0.9"/><line x1="211.1" y1="72.0" x2="208.8" y2="71.5" stroke="#6cc040" stroke-width="0.9"/><line x1="207.4" y1="71.0" x2="205.2" y2="70.3" stroke="#6cc040" stroke-width="0.9"/><line x1="200.2" y1="68.8" x2="198.1" y2="68.0" stroke="#a8d850" stroke-width="0.9"/><line x1="192.8" y1="67.3" x2="190.7" y2="66.5" stroke="#6cc040" stroke-width="0.9"/><line x1="186.2" y1="64.9" x2="183.9" y2="64.6" stroke="#6cc040" stroke-width="0.9"/><line x1="179.4" y1="63.4" x2="177.1" y2="62.9" stroke="#a8d850" stroke-width="0.9"/><line x1="176.1" y1="62.3" x2="173.8" y2="62.0" stroke="#a8d850" stroke-width="0.9"/><line x1="172.8" y1="61.4" x2="170.5" y2="61.3" stroke="#a8d850" stroke-width="0.9"/><line x1="169.4" y1="61.0" x2="167.4" y2="59.9" stroke="#6cc040" stroke-width="0.9"/><line x1="166.2" y1="59.7" x2="164.1" y2="59.0" stroke="#a8d850" stroke-width="0.9"/><line x1="159.6" y1="58.0" x2="157.5" y2="57.1" stroke="#6cc040" stroke-width="0.9"/><line x1="153.1" y1="55.7" x2="150.9" y2="55.1" stroke="#a8d850" stroke-width="0.9"/><line x1="241.7" y1="100.0" x2="240.2" y2="98.3" stroke="#a8d850" stroke-width="0.9"/><line x1="239.5" y1="97.2" x2="238.2" y2="95.4" stroke="#a8d850" stroke-width="0.9"/><line x1="237.3" y1="94.5" x2="236.0" y2="92.6" stroke="#e8c828" stroke-width="0.9"/><line x1="232.3" y1="89.2" x2="230.7" y2="87.6" stroke="#a8d850" stroke-width="0.9"/><line x1="226.3" y1="84.7" x2="224.6" y2="83.2" stroke="#e8c828" stroke-width="0.9"/><line x1="223.5" y1="82.5" x2="221.7" y2="81.1" stroke="#a8d850" stroke-width="0.9"/><line x1="220.8" y1="80.1" x2="218.8" y2="79.0" stroke="#e8c828" stroke-width="0.9"/><line x1="217.8" y1="78.1" x2="215.9" y2="77.0" stroke="#a8d850" stroke-width="0.9"/><line x1="214.3" y1="76.6" x2="212.3" y2="75.5" stroke="#a8d850" stroke-width="0.9"/><line x1="210.7" y1="75.1" x2="208.5" y2="74.4" stroke="#a8d850" stroke-width="0.9"/><line x1="206.9" y1="73.9" x2="204.7" y2="73.3" stroke="#e8c828" stroke-width="0.9"/><line x1="203.3" y1="72.8" x2="201.1" y2="72.1" stroke="#a8d850" stroke-width="0.9"/><line x1="199.6" y1="71.9" x2="197.5" y2="70.9" stroke="#e8c828" stroke-width="0.9"/><line x1="196.1" y1="70.7" x2="193.8" y2="70.4" stroke="#a8d850" stroke-width="0.9"/><line x1="192.3" y1="69.9" x2="190.0" y2="69.8" stroke="#a8d850" stroke-width="0.9"/><line x1="188.8" y1="69.4" x2="186.6" y2="68.5" stroke="#e8c828" stroke-width="0.9"/><line x1="185.4" y1="68.2" x2="183.2" y2="67.7" stroke="#a8d850" stroke-width="0.9"/><line x1="182.0" y1="67.4" x2="179.7" y2="66.8" stroke="#a8d850" stroke-width="0.9"/><line x1="178.5" y1="66.8" x2="176.4" y2="65.9" stroke="#a8d850" stroke-width="0.9"/><line x1="175.2" y1="65.8" x2="173.1" y2="65.0" stroke="#e8c828" stroke-width="0.9"/><line x1="172.0" y1="64.7" x2="169.7" y2="64.5" stroke="#a8d850" stroke-width="0.9"/><line x1="168.6" y1="64.3" x2="166.5" y2="63.2" stroke="#a8d850" stroke-width="0.9"/><line x1="165.3" y1="63.1" x2="163.3" y2="62.1" stroke="#e8c828" stroke-width="0.9"/><line x1="162.2" y1="61.8" x2="159.9" y2="61.5" stroke="#e8c828" stroke-width="0.9"/><line x1="158.8" y1="61.3" x2="156.7" y2="60.3" stroke="#e8c828" stroke-width="0.9"/><line x1="155.5" y1="60.0" x2="153.4" y2="59.2" stroke="#a8d850" stroke-width="0.9"/><line x1="152.3" y1="58.8" x2="150.0" y2="58.4" stroke="#a8d850" stroke-width="0.9"/><line x1="238.3" y1="101.2" x2="237.2" y2="99.2" stroke="#e8c828" stroke-width="0.9"/><line x1="236.3" y1="98.3" x2="234.9" y2="96.4" stroke="#e8c828" stroke-width="0.9"/><line x1="234.0" y1="95.5" x2="232.6" y2="93.7" stroke="#f09028" stroke-width="0.9"/><line x1="232.0" y1="92.5" x2="230.0" y2="91.4" stroke="#f09028" stroke-width="0.9"/><line x1="228.9" y1="90.4" x2="227.2" y2="88.8" stroke="#f09028" stroke-width="0.9"/><line x1="226.0" y1="88.0" x2="224.0" y2="86.7" stroke="#f09028" stroke-width="0.9"/><line x1="222.7" y1="86.1" x2="221.1" y2="84.4" stroke="#e8c828" stroke-width="0.9"/><line x1="219.9" y1="83.9" x2="218.2" y2="82.2" stroke="#f09028" stroke-width="0.9"/><line x1="217.1" y1="81.6" x2="215.4" y2="80.1" stroke="#f09028" stroke-width="0.9"/><line x1="214.1" y1="79.4" x2="211.8" y2="78.8" stroke="#f09028" stroke-width="0.9"/><line x1="210.4" y1="78.1" x2="208.2" y2="77.3" stroke="#e8c828" stroke-width="0.9"/><line x1="202.8" y1="75.8" x2="200.6" y2="75.2" stroke="#f09028" stroke-width="0.9"/><line x1="199.2" y1="74.5" x2="196.9" y2="74.3" stroke="#f09028" stroke-width="0.9"/><line x1="191.8" y1="72.9" x2="189.5" y2="72.6" stroke="#f09028" stroke-width="0.9"/><line x1="188.1" y1="72.4" x2="185.8" y2="71.8" stroke="#f09028" stroke-width="0.9"/><line x1="184.7" y1="71.4" x2="182.4" y2="70.8" stroke="#e8c828" stroke-width="0.9"/><line x1="181.2" y1="70.4" x2="178.9" y2="70.2" stroke="#f09028" stroke-width="0.9"/><line x1="174.5" y1="68.8" x2="172.2" y2="68.5" stroke="#f09028" stroke-width="0.9"/><line x1="161.3" y1="65.2" x2="159.1" y2="64.8" stroke="#e8c828" stroke-width="0.9"/><line x1="158.0" y1="64.4" x2="155.8" y2="63.7" stroke="#f09028" stroke-width="0.9"/><line x1="154.7" y1="63.1" x2="152.5" y2="62.6" stroke="#e8c828" stroke-width="0.9"/><line x1="149.3" y1="51.5" x2="150.7" y2="52.5" stroke="#e8c828" stroke-width="1.0"/><line x1="152.2" y1="51.5" x2="153.4" y2="52.5" stroke="#e8c828" stroke-width="1.0"/><line x1="155.0" y1="51.5" x2="156.2" y2="52.5" stroke="#e8c828" stroke-width="1.0"/><line x1="157.8" y1="51.5" x2="159.0" y2="52.5" stroke="#f09028" stroke-width="1.0"/><line x1="160.6" y1="51.5" x2="161.8" y2="52.5" stroke="#e8c828" stroke-width="1.0"/><line x1="150.7" y1="54.2" x2="152.1" y2="55.0" stroke="#f09028" stroke-width="1.0"/><line x1="156.4" y1="54.1" x2="157.6" y2="55.1" stroke="#e8c828" stroke-width="1.0"/><line x1="159.1" y1="54.2" x2="160.5" y2="55.0" stroke="#f09028" stroke-width="1.0"/><line x1="161.9" y1="54.2" x2="163.3" y2="55.0" stroke="#f09028" stroke-width="1.0"/><line x1="155.1" y1="56.6" x2="156.1" y2="57.8" stroke="#e8c828" stroke-width="1.0"/><line x1="157.9" y1="56.6" x2="158.9" y2="57.8" stroke="#f09028" stroke-width="1.0"/><line x1="150.8" y1="59.3" x2="152.0" y2="60.3" stroke="#f09028" stroke-width="1.0"/><line x1="153.6" y1="59.3" x2="154.8" y2="60.3" stroke="#e8c828" stroke-width="1.0"/><line x1="156.4" y1="59.3" x2="157.6" y2="60.3" stroke="#f09028" stroke-width="1.0"/><line x1="159.3" y1="59.2" x2="160.3" y2="60.4" stroke="#f09028" stroke-width="1.0"/><line x1="162.1" y1="59.2" x2="163.1" y2="60.4" stroke="#e8c828" stroke-width="1.0"/><line x1="152.1" y1="62.0" x2="153.5" y2="62.8" stroke="#e8c828" stroke-width="1.0"/><line x1="155.0" y1="61.9" x2="156.2" y2="62.9" stroke="#e8c828" stroke-width="1.0"/><line x1="157.7" y1="62.0" x2="159.1" y2="62.8" stroke="#f09028" stroke-width="1.0"/><line x1="150.7" y1="64.5" x2="152.1" y2="65.5" stroke="#f09028" stroke-width="1.0"/><line x1="153.5" y1="64.5" x2="154.9" y2="65.5" stroke="#e8c828" stroke-width="1.0"/><line x1="156.3" y1="64.5" x2="157.7" y2="65.5" stroke="#f09028" stroke-width="1.0"/><line x1="159.2" y1="64.5" x2="160.4" y2="65.5" stroke="#f09028" stroke-width="1.0"/><line x1="162.0" y1="64.5" x2="163.2" y2="65.5" stroke="#f09028" stroke-width="1.0"/><line x1="139.0" y1="93.2" x2="139.0" y2="94.8" stroke="#a8d850" stroke-width="1.0"/><line x1="141.5" y1="93.2" x2="141.7" y2="94.8" stroke="#6cc040" stroke-width="1.0"/><line x1="144.1" y1="93.2" x2="144.3" y2="94.8" stroke="#6cc040" stroke-width="1.0"/><line x1="146.7" y1="93.2" x2="146.9" y2="94.8" stroke="#6cc040" stroke-width="1.0"/><line x1="149.2" y1="93.2" x2="149.6" y2="94.8" stroke="#6cc040" stroke-width="1.0"/><line x1="151.9" y1="93.2" x2="152.1" y2="94.8" stroke="#a8d850" stroke-width="1.0"/><line x1="154.5" y1="93.2" x2="154.7" y2="94.8" stroke="#6cc040" stroke-width="1.0"/><line x1="157.1" y1="93.2" x2="157.3" y2="94.8" stroke="#6cc040" stroke-width="1.0"/><line x1="159.7" y1="93.2" x2="159.9" y2="94.8" stroke="#6cc040" stroke-width="1.0"/><line x1="140.2" y1="95.8" x2="140.4" y2="97.4" stroke="#6cc040" stroke-width="1.0"/><line x1="142.9" y1="95.8" x2="142.9" y2="97.4" stroke="#a8d850" stroke-width="1.0"/><line x1="145.4" y1="95.8" x2="145.6" y2="97.4" stroke="#6cc040" stroke-width="1.0"/><line x1="148.0" y1="95.8" x2="148.2" y2="97.4" stroke="#6cc040" stroke-width="1.0"/><line x1="150.6" y1="95.8" x2="150.8" y2="97.4" stroke="#6cc040" stroke-width="1.0"/><line x1="153.3" y1="95.8" x2="153.3" y2="97.4" stroke="#a8d850" stroke-width="1.0"/><line x1="155.7" y1="95.8" x2="156.1" y2="97.4" stroke="#a8d850" stroke-width="1.0"/><line x1="158.3" y1="95.8" x2="158.7" y2="97.4" stroke="#6cc040" stroke-width="1.0"/><line x1="138.9" y1="98.4" x2="139.1" y2="100.0" stroke="#6cc040" stroke-width="1.0"/><line x1="141.5" y1="98.4" x2="141.7" y2="100.0" stroke="#6cc040" stroke-width="1.0"/><line x1="144.0" y1="98.4" x2="144.4" y2="100.0" stroke="#a8d850" stroke-width="1.0"/><line x1="146.7" y1="98.4" x2="146.9" y2="100.0" stroke="#6cc040" stroke-width="1.0"/><line x1="149.3" y1="98.4" x2="149.5" y2="100.0" stroke="#6cc040" stroke-width="1.0"/><line x1="154.4" y1="98.4" x2="154.8" y2="100.0" stroke="#a8d850" stroke-width="1.0"/><line x1="159.7" y1="98.4" x2="159.9" y2="100.0" stroke="#6cc040" stroke-width="1.0"/><line x1="140.1" y1="101.0" x2="140.5" y2="102.6" stroke="#a8d850" stroke-width="1.0"/><line x1="142.8" y1="101.0" x2="143.0" y2="102.6" stroke="#a8d850" stroke-width="1.0"/><line x1="148.0" y1="101.0" x2="148.2" y2="102.6" stroke="#6cc040" stroke-width="1.0"/><line x1="150.6" y1="101.0" x2="150.8" y2="102.6" stroke="#a8d850" stroke-width="1.0"/><line x1="153.2" y1="101.0" x2="153.4" y2="102.6" stroke="#a8d850" stroke-width="1.0"/><line x1="155.8" y1="101.0" x2="156.0" y2="102.6" stroke="#6cc040" stroke-width="1.0"/><line x1="158.4" y1="101.0" x2="158.6" y2="102.6" stroke="#a8d850" stroke-width="1.0"/><line x1="138.9" y1="103.6" x2="139.1" y2="105.2" stroke="#a8d850" stroke-width="1.0"/><line x1="141.4" y1="103.6" x2="141.8" y2="105.2" stroke="#6cc040" stroke-width="1.0"/><line x1="144.1" y1="103.6" x2="144.3" y2="105.2" stroke="#6cc040" stroke-width="1.0"/><line x1="146.7" y1="103.6" x2="146.9" y2="105.2" stroke="#6cc040" stroke-width="1.0"/><line x1="149.3" y1="103.6" x2="149.5" y2="105.2" stroke="#a8d850" stroke-width="1.0"/><line x1="154.4" y1="103.6" x2="154.8" y2="105.2" stroke="#a8d850" stroke-width="1.0"/><line x1="157.0" y1="103.6" x2="157.4" y2="105.2" stroke="#6cc040" stroke-width="1.0"/><line x1="159.7" y1="103.6" x2="159.9" y2="105.2" stroke="#6cc040" stroke-width="1.0"/><line x1="140.2" y1="106.2" x2="140.4" y2="107.8" stroke="#6cc040" stroke-width="1.0"/><line x1="145.3" y1="106.2" x2="145.7" y2="107.8" stroke="#6cc040" stroke-width="1.0"/><line x1="148.0" y1="106.2" x2="148.2" y2="107.8" stroke="#a8d850" stroke-width="1.0"/><line x1="150.5" y1="106.2" x2="150.9" y2="107.8" stroke="#a8d850" stroke-width="1.0"/><line x1="153.2" y1="106.2" x2="153.4" y2="107.8" stroke="#6cc040" stroke-width="1.0"/><line x1="158.3" y1="106.2" x2="158.7" y2="107.8" stroke="#6cc040" stroke-width="1.0"/><line x1="138.8" y1="108.8" x2="139.2" y2="110.4" stroke="#6cc040" stroke-width="1.0"/><line x1="141.5" y1="108.8" x2="141.7" y2="110.4" stroke="#6cc040" stroke-width="1.0"/><line x1="144.0" y1="108.8" x2="144.4" y2="110.4" stroke="#6cc040" stroke-width="1.0"/><line x1="146.6" y1="108.8" x2="147.0" y2="110.4" stroke="#6cc040" stroke-width="1.0"/><line x1="149.3" y1="108.8" x2="149.5" y2="110.4" stroke="#6cc040" stroke-width="1.0"/><line x1="151.9" y1="108.8" x2="152.1" y2="110.4" stroke="#6cc040" stroke-width="1.0"/><line x1="154.5" y1="108.8" x2="154.7" y2="110.4" stroke="#6cc040" stroke-width="1.0"/><line x1="157.0" y1="108.8" x2="157.4" y2="110.4" stroke="#6cc040" stroke-width="1.0"/><line x1="159.6" y1="108.8" x2="160.0" y2="110.4" stroke="#6cc040" stroke-width="1.0"/><line x1="140.2" y1="111.4" x2="140.4" y2="113.0" stroke="#6cc040" stroke-width="1.0"/><line x1="142.8" y1="111.4" x2="143.0" y2="113.0" stroke="#6cc040" stroke-width="1.0"/><line x1="145.3" y1="111.4" x2="145.7" y2="113.0" stroke="#6cc040" stroke-width="1.0"/><line x1="148.0" y1="111.4" x2="148.2" y2="113.0" stroke="#6cc040" stroke-width="1.0"/><line x1="150.5" y1="111.4" x2="150.9" y2="113.0" stroke="#6cc040" stroke-width="1.0"/><line x1="153.3" y1="111.4" x2="153.3" y2="113.0" stroke="#6cc040" stroke-width="1.0"/><line x1="155.8" y1="111.4" x2="156.0" y2="113.0" stroke="#6cc040" stroke-width="1.0"/><line x1="158.5" y1="111.4" x2="158.5" y2="113.0" stroke="#6cc040" stroke-width="1.0"/><line x1="144.1" y1="114.0" x2="144.3" y2="115.6" stroke="#6cc040" stroke-width="1.0"/><line x1="146.6" y1="114.0" x2="147.0" y2="115.6" stroke="#6cc040" stroke-width="1.0"/><line x1="149.3" y1="114.0" x2="149.5" y2="115.6" stroke="#6cc040" stroke-width="1.0"/><line x1="151.9" y1="114.0" x2="152.1" y2="115.6" stroke="#6cc040" stroke-width="1.0"/><line x1="157.0" y1="114.0" x2="157.4" y2="115.6" stroke="#a8d850" stroke-width="1.0"/><line x1="159.7" y1="114.0" x2="159.9" y2="115.6" stroke="#a8d850" stroke-width="1.0"/><line x1="140.3" y1="116.6" x2="140.3" y2="118.2" stroke="#6cc040" stroke-width="1.0"/><line x1="142.8" y1="116.6" x2="143.0" y2="118.2" stroke="#6cc040" stroke-width="1.0"/><line x1="145.3" y1="116.6" x2="145.7" y2="118.2" stroke="#a8d850" stroke-width="1.0"/><line x1="148.1" y1="116.6" x2="148.1" y2="118.2" stroke="#6cc040" stroke-width="1.0"/><line x1="150.5" y1="116.6" x2="150.9" y2="118.2" stroke="#6cc040" stroke-width="1.0"/><line x1="153.3" y1="116.6" x2="153.3" y2="118.2" stroke="#6cc040" stroke-width="1.0"/><line x1="155.7" y1="116.6" x2="156.1" y2="118.2" stroke="#6cc040" stroke-width="1.0"/><line x1="138.8" y1="119.2" x2="139.2" y2="120.8" stroke="#a8d850" stroke-width="1.0"/><line x1="141.4" y1="119.2" x2="141.8" y2="120.8" stroke="#6cc040" stroke-width="1.0"/><line x1="144.1" y1="119.2" x2="144.3" y2="120.8" stroke="#6cc040" stroke-width="1.0"/><line x1="146.7" y1="119.2" x2="146.9" y2="120.8" stroke="#6cc040" stroke-width="1.0"/><line x1="149.3" y1="119.2" x2="149.5" y2="120.8" stroke="#6cc040" stroke-width="1.0"/><line x1="152.0" y1="119.2" x2="152.0" y2="120.8" stroke="#6cc040" stroke-width="1.0"/><line x1="154.4" y1="119.2" x2="154.8" y2="120.8" stroke="#6cc040" stroke-width="1.0"/><line x1="159.6" y1="119.2" x2="160.0" y2="120.8" stroke="#6cc040" stroke-width="1.0"/><line x1="140.3" y1="121.8" x2="140.3" y2="123.4" stroke="#a8d850" stroke-width="1.0"/><line x1="142.8" y1="121.8" x2="143.0" y2="123.4" stroke="#6cc040" stroke-width="1.0"/><line x1="145.3" y1="121.8" x2="145.7" y2="123.4" stroke="#6cc040" stroke-width="1.0"/><line x1="150.5" y1="121.8" x2="150.9" y2="123.4" stroke="#a8d850" stroke-width="1.0"/><line x1="153.1" y1="121.8" x2="153.5" y2="123.4" stroke="#a8d850" stroke-width="1.0"/><line x1="155.8" y1="121.8" x2="156.0" y2="123.4" stroke="#6cc040" stroke-width="1.0"/><line x1="158.3" y1="121.8" x2="158.7" y2="123.4" stroke="#6cc040" stroke-width="1.0"/><line x1="138.9" y1="124.4" x2="139.1" y2="126.0" stroke="#a8d850" stroke-width="1.0"/><line x1="141.4" y1="124.4" x2="141.8" y2="126.0" stroke="#a8d850" stroke-width="1.0"/><line x1="146.6" y1="124.4" x2="147.0" y2="126.0" stroke="#a8d850" stroke-width="1.0"/><line x1="149.2" y1="124.4" x2="149.6" y2="126.0" stroke="#a8d850" stroke-width="1.0"/><line x1="151.9" y1="124.4" x2="152.1" y2="126.0" stroke="#6cc040" stroke-width="1.0"/><line x1="154.4" y1="124.4" x2="154.8" y2="126.0" stroke="#6cc040" stroke-width="1.0"/><line x1="157.0" y1="124.4" x2="157.4" y2="126.0" stroke="#a8d850" stroke-width="1.0"/><line x1="159.7" y1="124.4" x2="159.9" y2="126.0" stroke="#6cc040" stroke-width="1.0"/><line x1="157.8" y1="99.2" x2="158.2" y2="100.8" stroke="#e8c828" stroke-width="1.0"/><line x1="160.3" y1="99.3" x2="160.9" y2="100.7" stroke="#e8c828" stroke-width="1.0"/><line x1="162.8" y1="99.3" x2="163.6" y2="100.7" stroke="#e8c828" stroke-width="1.0"/><line x1="165.6" y1="99.2" x2="166.0" y2="100.8" stroke="#f09028" stroke-width="1.0"/><line x1="168.1" y1="99.3" x2="168.7" y2="100.7" stroke="#e8c828" stroke-width="1.0"/><line x1="161.6" y1="102.1" x2="162.2" y2="103.5" stroke="#f09028" stroke-width="1.0"/><line x1="164.2" y1="102.1" x2="164.8" y2="103.5" stroke="#e8c828" stroke-width="1.0"/><line x1="166.8" y1="102.1" x2="167.4" y2="103.5" stroke="#e8c828" stroke-width="1.0"/><line x1="169.3" y1="102.1" x2="170.1" y2="103.5" stroke="#e8c828" stroke-width="1.0"/><line x1="157.7" y1="104.9" x2="158.3" y2="106.3" stroke="#e8c828" stroke-width="1.0"/><line x1="163.0" y1="104.8" x2="163.4" y2="106.4" stroke="#e8c828" stroke-width="1.0"/><line x1="165.4" y1="104.9" x2="166.2" y2="106.3" stroke="#e8c828" stroke-width="1.0"/><line x1="168.1" y1="104.8" x2="168.7" y2="106.4" stroke="#e8c828" stroke-width="1.0"/><line x1="159.0" y1="107.7" x2="159.6" y2="109.1" stroke="#f09028" stroke-width="1.0"/><line x1="161.6" y1="107.6" x2="162.2" y2="109.2" stroke="#f09028" stroke-width="1.0"/><line x1="164.3" y1="107.6" x2="164.7" y2="109.2" stroke="#f09028" stroke-width="1.0"/><line x1="166.8" y1="107.6" x2="167.4" y2="109.2" stroke="#f09028" stroke-width="1.0"/><line x1="169.4" y1="107.7" x2="170.0" y2="109.1" stroke="#e8c828" stroke-width="1.0"/><line x1="157.8" y1="110.4" x2="158.2" y2="112.0" stroke="#e8c828" stroke-width="1.0"/><line x1="160.3" y1="110.4" x2="160.9" y2="112.0" stroke="#e8c828" stroke-width="1.0"/><line x1="162.9" y1="110.5" x2="163.5" y2="111.9" stroke="#e8c828" stroke-width="1.0"/><line x1="165.5" y1="110.4" x2="166.1" y2="112.0" stroke="#f09028" stroke-width="1.0"/><line x1="168.2" y1="110.4" x2="168.6" y2="112.0" stroke="#e8c828" stroke-width="1.0"/><line x1="159.0" y1="113.3" x2="159.6" y2="114.7" stroke="#f09028" stroke-width="1.0"/><line x1="166.8" y1="113.2" x2="167.4" y2="114.8" stroke="#e8c828" stroke-width="1.0"/><line x1="169.3" y1="113.3" x2="170.1" y2="114.7" stroke="#f09028" stroke-width="1.0"/><line x1="157.6" y1="116.1" x2="158.4" y2="117.5" stroke="#f09028" stroke-width="1.0"/><line x1="160.4" y1="116.0" x2="160.8" y2="117.6" stroke="#f09028" stroke-width="1.0"/><line x1="162.9" y1="116.0" x2="163.5" y2="117.6" stroke="#f09028" stroke-width="1.0"/><line x1="165.5" y1="116.1" x2="166.1" y2="117.5" stroke="#e8c828" stroke-width="1.0"/><line x1="168.0" y1="116.1" x2="168.8" y2="117.5" stroke="#f09028" stroke-width="1.0"/><line x1="159.1" y1="118.8" x2="159.5" y2="120.4" stroke="#e8c828" stroke-width="1.0"/><line x1="161.6" y1="118.8" x2="162.2" y2="120.4" stroke="#f09028" stroke-width="1.0"/><line x1="169.5" y1="118.8" x2="169.9" y2="120.4" stroke="#e8c828" stroke-width="1.0"/><line x1="149.3" y1="135.7" x2="150.7" y2="136.3" stroke="#f09028" stroke-width="1.0"/><line x1="155.4" y1="135.5" x2="156.6" y2="136.5" stroke="#f09028" stroke-width="1.0"/><line x1="161.3" y1="135.6" x2="162.7" y2="136.4" stroke="#e84030" stroke-width="1.0"/><line x1="164.3" y1="135.6" x2="165.7" y2="136.4" stroke="#e84030" stroke-width="1.0"/><line x1="147.9" y1="138.1" x2="149.1" y2="139.1" stroke="#f09028" stroke-width="1.0"/><line x1="153.8" y1="138.3" x2="155.2" y2="138.9" stroke="#e84030" stroke-width="1.0"/><line x1="156.8" y1="138.2" x2="158.2" y2="139.0" stroke="#e84030" stroke-width="1.0"/><line x1="159.8" y1="138.2" x2="161.2" y2="139.0" stroke="#e84030" stroke-width="1.0"/><line x1="162.8" y1="138.2" x2="164.2" y2="139.0" stroke="#e84030" stroke-width="1.0"/><line x1="152.3" y1="140.9" x2="153.7" y2="141.5" stroke="#f09028" stroke-width="1.0"/><line x1="155.3" y1="140.8" x2="156.7" y2="141.6" stroke="#f09028" stroke-width="1.0"/><line x1="158.4" y1="140.7" x2="159.6" y2="141.7" stroke="#f09028" stroke-width="1.0"/><line x1="161.3" y1="140.8" x2="162.7" y2="141.6" stroke="#f09028" stroke-width="1.0"/><line x1="147.9" y1="143.3" x2="149.1" y2="144.3" stroke="#e84030" stroke-width="1.0"/><line x1="150.8" y1="143.5" x2="152.2" y2="144.1" stroke="#e84030" stroke-width="1.0"/><line x1="153.8" y1="143.3" x2="155.2" y2="144.3" stroke="#f09028" stroke-width="1.0"/><line x1="156.8" y1="143.4" x2="158.2" y2="144.2" stroke="#e84030" stroke-width="1.0"/><line x1="159.8" y1="143.4" x2="161.2" y2="144.2" stroke="#f09028" stroke-width="1.0"/><line x1="146.3" y1="146.1" x2="147.7" y2="146.7" stroke="#f09028" stroke-width="1.0"/><line x1="149.3" y1="146.1" x2="150.7" y2="146.7" stroke="#e84030" stroke-width="1.0"/><line x1="152.3" y1="146.0" x2="153.7" y2="146.8" stroke="#f09028" stroke-width="1.0"/><line x1="155.4" y1="145.9" x2="156.6" y2="146.9" stroke="#f09028" stroke-width="1.0"/><line x1="158.3" y1="146.0" x2="159.7" y2="146.8" stroke="#e84030" stroke-width="1.0"/><line x1="164.3" y1="146.0" x2="165.7" y2="146.8" stroke="#f09028" stroke-width="1.0"/><line x1="147.8" y1="148.7" x2="149.2" y2="149.3" stroke="#e84030" stroke-width="1.0"/><line x1="153.8" y1="148.6" x2="155.2" y2="149.4" stroke="#e84030" stroke-width="1.0"/><line x1="156.8" y1="148.6" x2="158.2" y2="149.4" stroke="#f09028" stroke-width="1.0"/><line x1="159.8" y1="148.6" x2="161.2" y2="149.4" stroke="#e84030" stroke-width="1.0"/><line x1="162.8" y1="148.6" x2="164.2" y2="149.4" stroke="#e84030" stroke-width="1.0"/><line x1="75.6" y1="87.3" x2="76.4" y2="88.7" stroke="#6cc040" stroke-width="1.0"/><line x1="78.2" y1="87.3" x2="79.0" y2="88.7" stroke="#e8c828" stroke-width="1.0"/><line x1="80.8" y1="87.3" x2="81.6" y2="88.7" stroke="#6cc040" stroke-width="1.0"/><line x1="83.4" y1="87.3" x2="84.2" y2="88.7" stroke="#6cc040" stroke-width="1.0"/><line x1="86.1" y1="87.3" x2="86.7" y2="88.7" stroke="#e8c828" stroke-width="1.0"/><line x1="88.7" y1="87.3" x2="89.3" y2="88.7" stroke="#e8c828" stroke-width="1.0"/><line x1="79.6" y1="89.9" x2="80.2" y2="91.3" stroke="#e8c828" stroke-width="1.0"/><line x1="82.1" y1="89.9" x2="82.9" y2="91.3" stroke="#e8c828" stroke-width="1.0"/><line x1="84.7" y1="89.9" x2="85.5" y2="91.3" stroke="#f09028" stroke-width="1.0"/><line x1="87.3" y1="89.9" x2="88.1" y2="91.3" stroke="#6cc040" stroke-width="1.0"/><line x1="89.9" y1="89.9" x2="90.7" y2="91.3" stroke="#e8c828" stroke-width="1.0"/><line x1="75.5" y1="92.5" x2="76.5" y2="93.9" stroke="#f09028" stroke-width="1.0"/><line x1="78.1" y1="92.6" x2="79.1" y2="93.8" stroke="#f09028" stroke-width="1.0"/><line x1="88.6" y1="92.5" x2="89.4" y2="93.9" stroke="#e8c828" stroke-width="1.0"/><line x1="76.9" y1="95.1" x2="77.7" y2="96.5" stroke="#6cc040" stroke-width="1.0"/><line x1="79.5" y1="95.1" x2="80.3" y2="96.5" stroke="#f09028" stroke-width="1.0"/><line x1="84.6" y1="95.2" x2="85.6" y2="96.4" stroke="#6cc040" stroke-width="1.0"/><line x1="89.9" y1="95.1" x2="90.7" y2="96.5" stroke="#e8c828" stroke-width="1.0"/><line x1="75.6" y1="97.7" x2="76.4" y2="99.1" stroke="#6cc040" stroke-width="1.0"/><line x1="80.9" y1="97.7" x2="81.5" y2="99.1" stroke="#6cc040" stroke-width="1.0"/><line x1="83.4" y1="97.7" x2="84.2" y2="99.1" stroke="#e8c828" stroke-width="1.0"/><line x1="86.0" y1="97.7" x2="86.8" y2="99.1" stroke="#6cc040" stroke-width="1.0"/><line x1="88.6" y1="97.7" x2="89.4" y2="99.1" stroke="#f09028" stroke-width="1.0"/><line x1="79.5" y1="100.3" x2="80.3" y2="101.7" stroke="#e8c828" stroke-width="1.0"/><line x1="82.0" y1="100.4" x2="83.0" y2="101.6" stroke="#e8c828" stroke-width="1.0"/><line x1="84.7" y1="100.3" x2="85.5" y2="101.7" stroke="#e8c828" stroke-width="1.0"/><line x1="87.2" y1="100.3" x2="88.2" y2="101.7" stroke="#6cc040" stroke-width="1.0"/><line x1="89.9" y1="100.3" x2="90.7" y2="101.7" stroke="#6cc040" stroke-width="1.0"/><line x1="58.0" y1="138.3" x2="58.0" y2="139.7" stroke="#40a070" stroke-width="1.0"/><line x1="60.9" y1="138.3" x2="61.1" y2="139.7" stroke="#40a070" stroke-width="1.0"/><line x1="64.0" y1="138.3" x2="64.0" y2="139.7" stroke="#40a070" stroke-width="1.0"/><line x1="67.0" y1="138.3" x2="67.0" y2="139.7" stroke="#40a070" stroke-width="1.0"/><line x1="75.9" y1="138.3" x2="76.1" y2="139.7" stroke="#6cc040" stroke-width="1.0"/><line x1="81.9" y1="138.3" x2="82.1" y2="139.7" stroke="#6cc040" stroke-width="1.0"/><line x1="84.9" y1="138.3" x2="85.1" y2="139.7" stroke="#6cc040" stroke-width="1.0"/><line x1="88.0" y1="138.3" x2="88.0" y2="139.7" stroke="#40a070" stroke-width="1.0"/><line x1="65.3" y1="141.0" x2="65.7" y2="142.4" stroke="#40a070" stroke-width="1.0"/><line x1="68.5" y1="141.0" x2="68.5" y2="142.4" stroke="#6cc040" stroke-width="1.0"/><line x1="74.4" y1="141.0" x2="74.6" y2="142.4" stroke="#40a070" stroke-width="1.0"/><line x1="83.5" y1="141.0" x2="83.5" y2="142.4" stroke="#6cc040" stroke-width="1.0"/><line x1="86.4" y1="141.0" x2="86.6" y2="142.4" stroke="#40a070" stroke-width="1.0"/><line x1="89.4" y1="141.0" x2="89.6" y2="142.4" stroke="#40a070" stroke-width="1.0"/><line x1="67.0" y1="143.7" x2="67.0" y2="145.1" stroke="#40a070" stroke-width="1.0"/><line x1="69.9" y1="143.7" x2="70.1" y2="145.1" stroke="#40a070" stroke-width="1.0"/><line x1="79.0" y1="143.7" x2="79.0" y2="145.1" stroke="#6cc040" stroke-width="1.0"/><line x1="82.0" y1="143.7" x2="82.0" y2="145.1" stroke="#40a070" stroke-width="1.0"/><line x1="85.0" y1="143.7" x2="85.0" y2="145.1" stroke="#6cc040" stroke-width="1.0"/><line x1="88.0" y1="143.7" x2="88.0" y2="145.1" stroke="#6cc040" stroke-width="1.0"/><line x1="62.4" y1="146.4" x2="62.6" y2="147.8" stroke="#6cc040" stroke-width="1.0"/><line x1="74.5" y1="146.4" x2="74.5" y2="147.8" stroke="#6cc040" stroke-width="1.0"/><line x1="86.5" y1="146.4" x2="86.5" y2="147.8" stroke="#40a070" stroke-width="1.0"/><line x1="60.9" y1="149.1" x2="61.1" y2="150.5" stroke="#40a070" stroke-width="1.0"/><line x1="72.9" y1="149.1" x2="73.1" y2="150.5" stroke="#6cc040" stroke-width="1.0"/><line x1="75.9" y1="149.1" x2="76.1" y2="150.5" stroke="#6cc040" stroke-width="1.0"/><line x1="88.0" y1="149.1" x2="88.0" y2="150.5" stroke="#40a070" stroke-width="1.0"/><line x1="62.4" y1="151.8" x2="62.6" y2="153.2" stroke="#40a070" stroke-width="1.0"/><line x1="65.5" y1="151.8" x2="65.5" y2="153.2" stroke="#40a070" stroke-width="1.0"/><line x1="68.5" y1="151.8" x2="68.5" y2="153.2" stroke="#40a070" stroke-width="1.0"/><line x1="83.5" y1="151.8" x2="83.5" y2="153.2" stroke="#6cc040" stroke-width="1.0"/><line x1="86.5" y1="151.8" x2="86.5" y2="153.2" stroke="#6cc040" stroke-width="1.0"/><line x1="182.3" y1="122.8" x2="183.7" y2="123.2" stroke="#3a50d8" stroke-width="1.0"/><line x1="185.0" y1="122.7" x2="186.2" y2="123.3" stroke="#3a50d8" stroke-width="1.0"/><line x1="187.5" y1="122.8" x2="188.9" y2="123.2" stroke="#3a50d8" stroke-width="1.0"/><line x1="190.2" y1="122.7" x2="191.4" y2="123.3" stroke="#3a50d8" stroke-width="1.0"/><line x1="192.8" y1="122.7" x2="194.0" y2="123.3" stroke="#3a50d8" stroke-width="1.0"/><line x1="197.9" y1="122.8" x2="199.3" y2="123.2" stroke="#3a50d8" stroke-width="1.0"/><line x1="183.7" y1="125.3" x2="184.9" y2="125.9" stroke="#3a50d8" stroke-width="1.0"/><line x1="188.8" y1="125.4" x2="190.2" y2="125.8" stroke="#3a50d8" stroke-width="1.0"/><line x1="191.4" y1="125.4" x2="192.8" y2="125.8" stroke="#3a50d8" stroke-width="1.0"/><line x1="194.0" y1="125.4" x2="195.4" y2="125.8" stroke="#3a50d8" stroke-width="1.0"/><line x1="196.7" y1="125.3" x2="197.9" y2="125.9" stroke="#3a50d8" stroke-width="1.0"/><line x1="199.2" y1="125.4" x2="200.6" y2="125.8" stroke="#3a50d8" stroke-width="1.0"/><line x1="182.3" y1="128.0" x2="183.7" y2="128.4" stroke="#3a50d8" stroke-width="1.0"/><line x1="184.9" y1="128.0" x2="186.3" y2="128.4" stroke="#3a50d8" stroke-width="1.0"/><line x1="187.5" y1="128.0" x2="188.9" y2="128.4" stroke="#3a50d8" stroke-width="1.0"/><line x1="190.2" y1="127.9" x2="191.4" y2="128.5" stroke="#3a50d8" stroke-width="1.0"/><line x1="192.7" y1="128.0" x2="194.1" y2="128.4" stroke="#3a50d8" stroke-width="1.0"/><line x1="195.3" y1="128.0" x2="196.7" y2="128.4" stroke="#3a50d8" stroke-width="1.0"/><line x1="197.9" y1="128.0" x2="199.3" y2="128.4" stroke="#3a50d8" stroke-width="1.0"/><line x1="183.6" y1="130.6" x2="185.0" y2="131.0" stroke="#3a50d8" stroke-width="1.0"/><line x1="186.3" y1="130.5" x2="187.5" y2="131.1" stroke="#3a50d8" stroke-width="1.0"/><line x1="188.9" y1="130.5" x2="190.1" y2="131.1" stroke="#3a50d8" stroke-width="1.0"/><line x1="191.4" y1="130.6" x2="192.8" y2="131.0" stroke="#3a50d8" stroke-width="1.0"/><line x1="194.0" y1="130.6" x2="195.4" y2="131.0" stroke="#3a50d8" stroke-width="1.0"/><line x1="196.7" y1="130.5" x2="197.9" y2="131.1" stroke="#3a50d8" stroke-width="1.0"/><line x1="199.2" y1="130.6" x2="200.6" y2="131.0" stroke="#3a50d8" stroke-width="1.0"/><line x1="182.4" y1="133.1" x2="183.6" y2="133.7" stroke="#3a50d8" stroke-width="1.0"/><line x1="185.0" y1="133.1" x2="186.2" y2="133.7" stroke="#3a50d8" stroke-width="1.0"/><line x1="187.6" y1="133.1" x2="188.8" y2="133.7" stroke="#3a50d8" stroke-width="1.0"/><line x1="190.1" y1="133.3" x2="191.5" y2="133.5" stroke="#3a50d8" stroke-width="1.0"/><line x1="192.7" y1="133.2" x2="194.1" y2="133.6" stroke="#3a50d8" stroke-width="1.0"/><line x1="195.3" y1="133.2" x2="196.7" y2="133.6" stroke="#3a50d8" stroke-width="1.0"/><line x1="198.0" y1="133.1" x2="199.2" y2="133.7" stroke="#3a50d8" stroke-width="1.0"/><line x1="183.6" y1="135.8" x2="185.0" y2="136.2" stroke="#3a50d8" stroke-width="1.0"/><line x1="188.9" y1="135.7" x2="190.1" y2="136.3" stroke="#3a50d8" stroke-width="1.0"/><line x1="191.5" y1="135.7" x2="192.7" y2="136.3" stroke="#3a50d8" stroke-width="1.0"/><line x1="194.1" y1="135.7" x2="195.3" y2="136.3" stroke="#3a50d8" stroke-width="1.0"/><line x1="196.7" y1="135.7" x2="197.9" y2="136.3" stroke="#3a50d8" stroke-width="1.0"/><line x1="199.2" y1="135.8" x2="200.6" y2="136.2" stroke="#3a50d8" stroke-width="1.0"/><line x1="206.3" y1="214.8" x2="207.7" y2="215.2" stroke="#3a50d8" stroke-width="1.0"/><line x1="208.9" y1="214.7" x2="210.3" y2="215.3" stroke="#3a50d8" stroke-width="1.0"/><line x1="211.5" y1="214.8" x2="212.9" y2="215.2" stroke="#3a50d8" stroke-width="1.0"/><line x1="214.2" y1="214.7" x2="215.4" y2="215.3" stroke="#3a50d8" stroke-width="1.0"/><line x1="216.7" y1="214.9" x2="218.1" y2="215.1" stroke="#3a50d8" stroke-width="1.0"/><line x1="219.4" y1="214.7" x2="220.6" y2="215.3" stroke="#3a50d8" stroke-width="1.0"/><line x1="221.9" y1="214.8" x2="223.3" y2="215.2" stroke="#3a50d8" stroke-width="1.0"/><line x1="224.5" y1="214.8" x2="225.9" y2="215.2" stroke="#3a50d8" stroke-width="1.0"/><line x1="207.7" y1="217.3" x2="208.9" y2="217.9" stroke="#3a50d8" stroke-width="1.0"/><line x1="210.2" y1="217.3" x2="211.6" y2="217.9" stroke="#3a50d8" stroke-width="1.0"/><line x1="212.9" y1="217.3" x2="214.1" y2="217.9" stroke="#3a50d8" stroke-width="1.0"/><line x1="218.1" y1="217.3" x2="219.3" y2="217.9" stroke="#3a50d8" stroke-width="1.0"/><line x1="220.6" y1="217.4" x2="222.0" y2="217.8" stroke="#3a50d8" stroke-width="1.0"/><line x1="223.2" y1="217.5" x2="224.6" y2="217.7" stroke="#3a50d8" stroke-width="1.0"/><line x1="225.8" y1="217.3" x2="227.2" y2="217.9" stroke="#3a50d8" stroke-width="1.0"/><line x1="206.3" y1="220.0" x2="207.7" y2="220.4" stroke="#3a50d8" stroke-width="1.0"/><line x1="216.7" y1="220.0" x2="218.1" y2="220.4" stroke="#3a50d8" stroke-width="1.0"/><line x1="219.4" y1="219.9" x2="220.6" y2="220.5" stroke="#3a50d8" stroke-width="1.0"/><line x1="221.9" y1="220.0" x2="223.3" y2="220.4" stroke="#3a50d8" stroke-width="1.0"/><line x1="224.5" y1="220.0" x2="225.9" y2="220.4" stroke="#3a50d8" stroke-width="1.0"/><line x1="207.6" y1="222.6" x2="209.0" y2="223.0" stroke="#3a50d8" stroke-width="1.0"/><line x1="210.2" y1="222.6" x2="211.6" y2="223.0" stroke="#3a50d8" stroke-width="1.0"/><line x1="212.9" y1="222.5" x2="214.1" y2="223.1" stroke="#3a50d8" stroke-width="1.0"/><line x1="215.5" y1="222.5" x2="216.7" y2="223.1" stroke="#3a50d8" stroke-width="1.0"/><line x1="218.0" y1="222.6" x2="219.4" y2="223.0" stroke="#3a50d8" stroke-width="1.0"/><line x1="220.7" y1="222.5" x2="221.9" y2="223.1" stroke="#3a50d8" stroke-width="1.0"/><line x1="223.3" y1="222.5" x2="224.5" y2="223.1" stroke="#3a50d8" stroke-width="1.0"/><line x1="225.8" y1="222.6" x2="227.2" y2="223.0" stroke="#3a50d8" stroke-width="1.0"/><line x1="209.0" y1="225.1" x2="210.2" y2="225.7" stroke="#3a50d8" stroke-width="1.0"/><line x1="211.5" y1="225.1" x2="212.9" y2="225.7" stroke="#3a50d8" stroke-width="1.0"/><line x1="214.1" y1="225.2" x2="215.5" y2="225.6" stroke="#3a50d8" stroke-width="1.0"/><line x1="216.7" y1="225.2" x2="218.1" y2="225.6" stroke="#3a50d8" stroke-width="1.0"/><line x1="219.3" y1="225.2" x2="220.7" y2="225.6" stroke="#3a50d8" stroke-width="1.0"/><line x1="222.0" y1="225.1" x2="223.2" y2="225.7" stroke="#3a50d8" stroke-width="1.0"/><line x1="224.6" y1="225.1" x2="225.8" y2="225.7" stroke="#3a50d8" stroke-width="1.0"/><line x1="235.7" y1="181.8" x2="237.1" y2="182.2" stroke="#3a50d8" stroke-width="1.0"/><line x1="238.2" y1="181.7" x2="239.4" y2="182.3" stroke="#3a50d8" stroke-width="1.0"/><line x1="234.5" y1="184.2" x2="235.9" y2="184.6" stroke="#3a50d8" stroke-width="1.0"/><line x1="236.9" y1="184.2" x2="238.3" y2="184.6" stroke="#3a50d8" stroke-width="1.0"/><line x1="239.3" y1="184.2" x2="240.7" y2="184.6" stroke="#6cc040" stroke-width="1.0"/><line x1="233.3" y1="186.6" x2="234.7" y2="187.0" stroke="#6cc040" stroke-width="1.0"/><line x1="235.7" y1="186.6" x2="237.1" y2="187.0" stroke="#6cc040" stroke-width="1.0"/><line x1="238.1" y1="186.6" x2="239.5" y2="187.0" stroke="#3a50d8" stroke-width="1.0"/><line x1="234.5" y1="189.0" x2="235.9" y2="189.4" stroke="#3a50d8" stroke-width="1.0"/><line x1="237.0" y1="188.9" x2="238.2" y2="189.5" stroke="#6cc040" stroke-width="1.0"/><line x1="239.4" y1="188.9" x2="240.6" y2="189.5" stroke="#3a50d8" stroke-width="1.0"/><line x1="180.4" y1="231.7" x2="181.6" y2="232.3" stroke="#3a50d8" stroke-width="1.0"/><line x1="182.8" y1="231.7" x2="184.0" y2="232.3" stroke="#3a50d8" stroke-width="1.0"/><line x1="185.1" y1="231.8" x2="186.5" y2="232.2" stroke="#3a50d8" stroke-width="1.0"/><line x1="187.5" y1="231.9" x2="188.9" y2="232.1" stroke="#3a50d8" stroke-width="1.0"/><line x1="181.6" y1="234.1" x2="182.8" y2="234.7" stroke="#3a50d8" stroke-width="1.0"/><line x1="184.0" y1="234.1" x2="185.2" y2="234.7" stroke="#3a50d8" stroke-width="1.0"/><line x1="186.4" y1="234.1" x2="187.6" y2="234.7" stroke="#3a50d8" stroke-width="1.0"/><line x1="188.7" y1="234.2" x2="190.1" y2="234.6" stroke="#3a50d8" stroke-width="1.0"/><line x1="180.3" y1="236.7" x2="181.7" y2="236.9" stroke="#3a50d8" stroke-width="1.0"/><line x1="182.7" y1="236.6" x2="184.1" y2="237.0" stroke="#3a50d8" stroke-width="1.0"/><line x1="187.5" y1="236.6" x2="188.9" y2="237.0" stroke="#3a50d8" stroke-width="1.0"/><line x1="189.9" y1="236.6" x2="191.3" y2="237.0" stroke="#3a50d8" stroke-width="1.0"/><line x1="183.9" y1="239.0" x2="185.3" y2="239.4" stroke="#3a50d8" stroke-width="1.0"/></g>
</g>
<rect x="22" y="7" width="247" height="246" fill="none" stroke="#a8a8a8" stroke-width="0.9"/>
<clipPath id="cb"><rect x="296" y="7" width="246" height="246"/></clipPath>
<g clip-path="url(#cb)">
<g fill="none" stroke="#dadada" stroke-width="0.6"><circle cx="419" cy="130" r="30.8"/><circle cx="419" cy="130" r="61.6"/><circle cx="419" cy="130" r="92.4"/><circle cx="419" cy="130" r="123.2"/><circle cx="419" cy="130" r="154.0"/><circle cx="419" cy="130" r="184.8"/><line x1="419" y1="130" x2="419.0" y2="430.0"/><line x1="419" y1="130" x2="496.6" y2="419.8"/><line x1="419" y1="130" x2="569.0" y2="389.8"/><line x1="419" y1="130" x2="631.1" y2="342.1"/><line x1="419" y1="130" x2="678.8" y2="280.0"/><line x1="419" y1="130" x2="708.8" y2="207.6"/><line x1="419" y1="130" x2="719.0" y2="130.0"/><line x1="419" y1="130" x2="708.8" y2="52.4"/><line x1="419" y1="130" x2="678.8" y2="-20.0"/><line x1="419" y1="130" x2="631.1" y2="-82.1"/><line x1="419" y1="130" x2="569.0" y2="-129.8"/><line x1="419" y1="130" x2="496.6" y2="-159.8"/><line x1="419" y1="130" x2="419.0" y2="-170.0"/><line x1="419" y1="130" x2="341.4" y2="-159.8"/><line x1="419" y1="130" x2="269.0" y2="-129.8"/><line x1="419" y1="130" x2="206.9" y2="-82.1"/><line x1="419" y1="130" x2="159.2" y2="-20.0"/><line x1="419" y1="130" x2="129.2" y2="52.4"/><line x1="419" y1="130" x2="119.0" y2="130.0"/><line x1="419" y1="130" x2="129.2" y2="207.6"/><line x1="419" y1="130" x2="159.2" y2="280.0"/><line x1="419" y1="130" x2="206.9" y2="342.1"/><line x1="419" y1="130" x2="269.0" y2="389.8"/><line x1="419" y1="130" x2="341.4" y2="419.8"/></g>
<g fill="none" stroke="#c4c4c4" stroke-width="0.7"><path d="M354.3,34.9 L356.6,34.2 L357.6,34.4 L360.2,33.6 L361.0,31.5 L361.5,30.1 L363.7,28.0 L365.9,27.7 L366.7,26.8 L369.7,27.3 L371.3,26.5 L371.8,25.4 L374.0,24.3 L376.2,23.9 L376.4,23.8 L377.8,23.1 L379.8,21.7 L381.1,20.8 L383.8,21.1 L384.2,23.0 L383.4,24.6 L383.1,27.3 L384.4,28.1 L385.8,29.1 L386.7,29.7 L389.5,29.1 L391.2,30.0 L392.1,29.0 L393.8,28.9 L396.3,28.7 L396.3,28.0 L398.4,30.9 L399.1,31.6 L397.6,32.8 L395.5,33.4 L394.5,34.2 L392.3,34.3 L391.0,36.3 L389.2,36.7 L387.4,36.9 L385.3,39.0 L384.7,39.3 L383.1,40.5 L382.0,41.7 L379.7,42.5 L379.1,42.6 L377.4,41.2 L374.9,39.4 L374.1,38.0 L371.5,40.0 L371.3,40.5 L370.1,40.8 L367.2,40.8 L365.5,40.3 L362.9,40.2 L362.6,40.6 L360.7,39.1 L358.3,39.2 L357.3,37.9 L355.0,36.1 L354.8,34.6"/><path d="M422.7,23.4 L422.7,23.8 L424.5,21.4 L426.7,20.8 L428.6,19.6 L430.2,20.5 L431.2,22.2 L432.8,22.9 L434.3,22.3 L435.9,21.8 L436.4,19.8 L438.6,19.1 L440.7,20.1 L442.7,20.4 L444.3,21.2 L444.6,20.2 L445.7,18.4 L448.1,19.6 L448.1,21.2 L450.3,21.5 L448.3,23.3 L447.3,25.2 L447.0,25.8 L445.9,27.3 L444.7,27.0 L441.8,27.8 L439.7,28.2 L438.7,29.2 L437.6,30.7 L435.3,32.8 L437.8,32.6 L439.8,34.0 L442.7,34.0 L443.4,33.8 L445.8,34.3 L446.9,35.0 L448.1,35.4 L449.5,35.3 L448.7,37.5 L447.6,37.5 L446.3,38.3 L444.3,39.3 L443.5,38.5 L441.8,38.4 L439.6,38.3 L438.8,38.4 L436.5,37.1 L435.2,35.3 L434.0,34.8 L432.2,33.7 L429.7,32.0 L429.2,30.7 L427.0,30.3 L425.9,28.6 L424.3,28.5 L423.8,25.9 L422.5,24.9 L422.0,24.0"/><path d="M514.9,72.0 L514.3,71.7 L513.2,74.1 L512.5,75.0 L511.3,77.3 L510.8,79.0 L509.9,79.8 L510.9,82.1 L509.9,84.4 L509.0,84.5 L509.4,87.3 L508.6,89.0 L508.8,90.0 L507.8,91.6 L506.9,93.9 L507.7,93.5 L509.4,95.9 L511.1,96.2 L512.6,96.6 L513.0,97.8 L515.8,98.5 L515.7,99.2 L516.9,100.5 L516.9,103.2 L515.3,103.6 L514.1,105.0 L514.0,106.9 L511.8,107.4 L513.7,110.1 L514.7,110.5 L514.8,113.4 L515.8,114.8 L515.6,116.3 L516.2,116.4 L517.0,118.7 L519.0,120.8 L519.8,122.4 L519.8,124.2 L520.8,124.5 L521.9,126.3 L520.8,127.4 L521.9,129.3 L524.1,132.2 L523.6,131.6 L525.4,133.0 L526.6,135.7 L527.1,136.1 L529.6,137.4 L529.5,139.6 L531.7,140.9 L530.9,141.5 L530.4,144.1 L529.8,144.4 L528.5,146.5 L529.1,148.5 L528.1,150.7 L527.7,152.0 L528.8,153.6 L530.5,154.6 L531.3,155.9 L531.0,158.7 L530.8,160.4 L531.9,161.9 L532.2,162.5 L531.2,165.9 L530.5,167.7 L530.3,168.9 L530.0,170.0 L530.3,170.8 L530.7,173.3 L530.4,175.1 L530.9,176.7 L531.1,179.1 L531.3,180.7 L533.8,181.5 L534.4,183.5 L534.7,184.3 L534.9,186.0 L535.6,189.0 L535.4,189.5 L535.3,192.1 L535.1,193.3 L534.3,194.4 L533.7,195.9 L533.8,199.1 L534.0,199.1 L534.7,200.7 L535.6,202.9 L537.0,204.0 L537.8,205.4 L538.8,207.8 L537.5,209.7 L538.8,210.2 L539.2,212.7 L539.4,214.2 L540.4,215.7 L540.5,216.1 L542.2,219.0 L540.9,221.4 L542.0,222.0"/><path d="M296.4,110.7 L296.9,112.0 L298.4,112.3 L299.7,113.5 L301.3,114.4 L301.7,116.0 L300.4,117.7 L300.7,117.7 L299.0,120.9 L301.0,121.1 L301.6,123.4 L302.7,124.3 L305.7,124.3 L303.4,126.1 L302.6,127.7 L302.0,130.3 L299.6,131.8 L300.6,131.4 L303.3,134.1 L305.1,135.7 L306.7,135.5 L305.5,138.3 L303.2,139.0 L302.3,139.8 L302.0,142.3 L304.4,142.5 L305.0,145.5 L307.0,145.8 L308.0,147.0"/><path d="M487.8,206.9 L489.9,204.2 L491.1,203.9 L490.7,203.3 L492.3,200.8 L493.8,200.2 L495.0,201.1 L498.2,201.5 L499.8,202.5 L501.6,202.4 L502.2,201.9 L503.2,201.9 L505.8,199.2 L507.2,198.8 L507.6,199.8 L509.4,201.1 L510.9,203.5 L511.3,205.8 L511.9,205.9 L514.2,207.6 L514.2,209.9 L515.1,211.4 L516.0,213.0 L514.1,215.1 L513.6,215.1 L512.8,218.1 L512.3,218.9 L512.8,219.8 L513.8,221.5 L513.5,222.5 L514.4,225.0 L516.8,226.5 L513.9,226.3 L513.9,227.7 L510.8,229.1 L510.2,230.1 L508.4,228.9 L507.0,228.4 L505.9,227.6 L503.7,228.0 L501.7,228.8 L500.8,230.1 L499.9,230.9 L498.2,231.5 L495.5,231.2 L494.5,228.7 L494.1,228.4 L491.1,227.0 L490.5,226.1 L489.9,224.7 L489.8,221.4 L488.6,221.5 L488.4,218.3 L488.5,216.8 L488.7,215.7 L490.6,213.2 L491.1,212.7 L491.0,209.8 L488.6,209.8 L488.4,206.8 L488.0,206.0"/><path d="M500.3,236.4 L502.4,236.4 L502.1,238.6 L504.2,238.7 L506.6,239.4 L508.3,241.2 L508.1,243.3 L510.6,242.9 L512.7,245.5 L513.7,246.7 L515.4,246.8 L516.5,249.5 L516.3,250.8 L518.0,252.0"/><path d="M300.5,219.4 L300.6,221.4 L301.5,223.0 L304.1,222.7 L305.2,224.8 L306.3,226.9 L308.6,225.4 L309.9,225.8 L311.7,223.9 L313.3,223.8 L313.3,224.2 L315.9,226.1 L316.1,227.1 L316.7,228.5 L318.4,228.9 L320.0,230.0"/><path d="M529.2,23.3 L530.8,24.9 L530.4,27.1 L531.5,28.1 L532.1,31.0 L532.1,31.2 L532.5,32.9 L533.2,36.0 L533.1,37.6 L532.3,39.1 L532.5,40.4 L532.3,41.2 L531.0,43.7 L530.3,44.0 L532.7,46.7 L532.9,47.8 L535.4,48.8 L535.0,50.4 L536.3,51.7 L536.9,54.1 L539.2,54.9 L539.2,56.3 L541.1,59.2 L541.0,60.0"/><path d="M298.1,135.7 L300.0,136.8 L300.6,138.2 L301.7,140.7 L302.4,140.8 L303.9,141.9 L306.9,143.0 L307.5,144.3 L309.1,145.5 L309.3,146.6 L309.1,149.2 L308.7,149.8 L308.1,151.9 L309.2,152.8 L310.4,155.1 L312.0,156.1 L313.9,156.9 L315.0,157.6 L316.2,159.5 L316.5,160.9 L318.3,160.4 L319.2,162.0 L320.3,163.2 L321.6,165.4 L322.2,167.7 L324.0,167.8 L325.7,169.9 L327.3,171.3 L328.6,171.6 L329.0,173.5"/><path d="M326.8,158.2 L328.6,160 L326.8,161.8 L325,160Z" fill="#c8c8c8" stroke="none"/></g>
<path d="M313.5,128.0 C313.4,123.0 313.6,118.3 314.5,112.8 C315.4,107.3 317.4,99.5 319.0,95.0 C320.6,90.5 322.0,88.8 324.0,86.0 C326.0,83.2 328.3,80.5 331.0,78.0 C333.7,75.5 336.3,73.8 340.0,71.0 C343.7,68.2 348.6,63.8 353.4,61.2 C358.2,58.6 363.8,57.1 369.0,55.6 C374.2,54.1 379.4,53.0 384.6,52.2 C389.8,51.5 395.2,51.2 400.0,51.1 C404.8,51.0 409.3,51.4 413.4,51.7 C417.5,52.0 421.4,51.9 424.5,52.8 C427.6,53.7 430.2,55.4 432.3,57.3 C434.4,59.2 435.9,61.2 436.8,64.0 C437.7,66.8 437.7,70.5 437.9,74.0 C438.1,77.5 438.1,81.2 437.9,85.2 C437.7,89.2 437.1,93.9 436.5,98.0 C435.9,102.1 435.0,106.0 434.0,110.0 C433.0,114.0 432.0,118.3 430.5,122.0 C429.0,125.7 427.1,128.8 425.0,132.0 C422.9,135.2 420.3,138.0 418.0,141.0 C415.7,144.0 413.1,146.8 411.0,150.0 C408.9,153.2 406.8,156.5 405.5,160.0 C404.2,163.5 403.8,167.3 403.0,171.0 C402.2,174.7 401.7,178.5 401.0,182.0 C400.3,185.5 400.1,188.9 399.0,192.0 C397.9,195.1 396.9,198.6 394.7,200.5 C392.5,202.4 388.8,203.1 386.0,203.5 C383.2,203.9 381.0,204.0 378.0,203.0 C375.0,202.0 371.5,199.5 368.0,197.5 C364.5,195.5 360.4,193.0 357.0,191.0 C353.6,189.0 350.6,187.3 347.4,185.3 C344.2,183.3 341.2,181.4 338.0,179.0 C334.8,176.6 331.1,173.5 328.4,171.0 C325.7,168.5 323.8,166.6 322.0,164.0 C320.2,161.4 318.6,158.8 317.4,155.3 C316.2,151.8 315.6,147.6 315.0,143.0 C314.4,138.4 313.6,133.0 313.5,128.0Z" fill="#e7e7f8" stroke="#5050d6" stroke-width="1.0"/>
<path d="M320.1,128.5 C319.7,123.8 320.5,116.2 321.2,110.6 C321.9,105.0 322.9,98.9 324.5,95.0 C326.1,91.1 328.4,89.6 331.0,87.0 C333.6,84.4 336.3,82.3 340.0,79.5 C343.7,76.7 348.6,72.6 353.4,70.1 C358.2,67.6 363.8,65.8 369.0,64.5 C374.2,63.2 380.4,63.0 384.6,62.3 C388.8,61.5 391.0,60.2 394.0,60.0 C397.0,59.8 398.7,60.8 402.8,61.2 C406.9,61.6 414.4,61.3 418.5,62.3 C422.6,63.3 425.4,64.8 427.4,67.3 C429.4,69.8 430.1,73.8 430.7,77.3 C431.2,80.8 430.9,84.7 430.7,88.5 C430.5,92.3 430.3,96.4 429.5,100.0 C428.7,103.6 427.3,106.7 426.0,110.0 C424.7,113.3 423.3,116.7 421.5,120.0 C419.7,123.3 417.2,126.7 415.0,130.0 C412.8,133.3 410.2,136.7 408.0,140.0 C405.8,143.3 403.7,146.5 401.5,150.0 C399.3,153.5 396.9,157.7 395.0,161.0 C393.1,164.3 391.3,167.2 390.0,170.0 C388.7,172.8 387.5,175.5 387.0,178.0 C386.5,180.5 387.5,183.2 387.0,185.0 C386.5,186.8 385.8,188.4 384.0,189.0 C382.2,189.6 378.7,189.1 376.0,188.5 C373.3,187.9 370.7,186.8 368.0,185.5 C365.3,184.2 362.4,182.3 360.0,181.0 C357.6,179.7 356.4,179.0 353.7,177.4 C351.0,175.8 347.2,173.6 344.0,171.5 C340.8,169.4 337.3,167.1 334.7,164.7 C332.1,162.3 330.1,159.6 328.5,157.0 C326.9,154.4 326.1,152.0 325.3,149.0 C324.5,146.0 324.4,142.4 323.5,139.0 C322.6,135.6 320.5,133.2 320.1,128.5Z" fill="#d9d9f5" stroke="#5050d6" stroke-width="1.0"/>
<path d="M325.7,124.0 C325.3,120.1 327.0,113.2 327.9,108.4 C328.8,103.6 329.7,98.4 331.2,95.0 C332.7,91.6 334.8,89.9 337.0,88.0 C339.2,86.1 341.0,85.5 344.5,83.5 C348.0,81.5 353.0,78.0 357.8,75.7 C362.6,73.5 369.0,71.2 373.5,70.0 C378.0,68.8 379.7,69.0 384.6,68.5 C389.5,68.0 397.5,67.1 402.8,67.3 C408.1,67.5 412.8,68.2 416.2,69.5 C419.6,70.8 421.5,72.6 423.0,75.0 C424.5,77.4 425.0,80.6 425.2,84.0 C425.4,87.4 424.6,91.5 424.0,95.2 C423.4,98.9 422.8,102.5 421.8,106.3 C420.8,110.1 419.8,113.9 418.0,118.0 C416.2,122.1 413.5,127.2 411.0,131.0 C408.5,134.8 405.5,137.8 403.0,141.0 C400.5,144.2 398.5,147.3 396.0,150.0 C393.5,152.7 391.1,155.1 388.0,157.0 C384.9,158.9 381.2,161.0 377.4,161.6 C373.6,162.2 368.6,161.4 365.0,160.5 C361.4,159.6 358.8,157.8 356.0,156.0 C353.2,154.2 350.5,152.0 348.0,150.0 C345.5,148.0 343.2,146.0 341.0,144.0 C338.8,142.0 336.8,140.0 335.0,138.0 C333.2,136.0 331.6,134.3 330.0,132.0 C328.4,129.7 326.1,127.9 325.7,124.0Z" fill="#c0c0f1" stroke="#5050d6" stroke-width="1.0"/>
<path d="M353.5,128.5 C353.5,125.4 355.1,121.0 354.7,117.3 C354.3,113.6 352.7,109.2 351.3,106.2 C349.9,103.2 347.6,101.5 346.5,99.0 C345.4,96.5 344.6,93.5 345.0,91.0 C345.4,88.5 347.0,86.2 349.0,84.0 C351.0,81.8 354.1,79.1 357.0,77.5 C359.9,75.9 363.1,75.2 366.7,74.5 C370.3,73.8 374.0,73.5 378.4,73.5 C382.8,73.5 388.7,74.1 393.0,74.2 C397.3,74.3 400.5,74.0 404.0,74.0 C407.5,74.0 411.6,73.1 414.0,74.0 C416.4,74.9 417.6,77.1 418.5,79.5 C419.4,81.9 419.6,85.5 419.6,88.5 C419.6,91.5 419.1,94.4 418.5,97.4 C417.9,100.4 417.1,103.2 416.2,106.3 C415.3,109.4 414.4,112.4 413.0,116.0 C411.6,119.6 409.8,124.0 408.0,128.0 C406.2,132.0 404.2,136.7 402.0,140.0 C399.8,143.3 397.9,146.2 394.6,148.0 C391.3,149.8 386.6,150.3 382.1,150.5 C377.7,150.7 371.8,150.3 367.9,149.0 C363.9,147.7 360.6,144.8 358.4,142.6 C356.2,140.4 355.3,138.3 354.5,136.0 C353.7,133.7 353.5,131.6 353.5,128.5Z" fill="#9c9cea" stroke="#5050d6" stroke-width="1.0"/>
<path d="M359.5,128.0 C359.0,124.8 359.5,120.7 359.0,117.0 C358.5,113.3 357.6,109.3 356.5,106.0 C355.4,102.7 353.4,99.7 352.5,97.0 C351.6,94.3 350.8,92.2 351.0,90.0 C351.2,87.8 352.5,85.7 354.0,84.0 C355.5,82.3 357.7,81.0 360.0,80.0 C362.3,79.0 365.3,78.6 368.0,78.2 C370.7,77.8 373.3,77.7 376.0,77.6 C378.7,77.5 381.3,77.4 384.0,77.8 C386.7,78.2 389.4,78.9 392.0,80.0 C394.6,81.1 397.3,82.8 399.5,84.5 C401.7,86.2 403.4,87.8 405.0,90.0 C406.6,92.2 408.4,94.4 409.0,97.5 C409.6,100.6 409.1,105.1 408.4,108.5 C407.7,111.9 406.6,114.4 405.0,118.0 C403.4,121.6 401.3,126.5 399.0,130.0 C396.7,133.5 394.2,136.8 391.0,139.0 C387.8,141.2 383.8,143.0 380.0,143.5 C376.2,144.0 371.0,143.2 368.0,142.0 C365.0,140.8 363.4,138.3 362.0,136.0 C360.6,133.7 360.0,131.2 359.5,128.0Z" fill="#7070e4" stroke="#5050d6" stroke-width="1.0"/>
<path d="M362.5,116.0 C361.9,112.8 361.3,108.9 360.5,106.0 C359.7,103.1 358.0,100.8 357.5,98.5 C357.0,96.2 356.8,94.0 357.5,92.0 C358.2,90.0 359.9,87.8 362.0,86.5 C364.1,85.2 367.3,84.5 370.0,84.0 C372.7,83.5 375.5,83.5 378.0,83.5 C380.5,83.5 382.9,83.2 385.0,84.0 C387.1,84.8 389.2,86.2 390.5,88.0 C391.8,89.8 392.5,92.2 393.0,95.0 C393.5,97.8 393.7,101.3 393.5,105.0 C393.3,108.7 392.8,113.5 392.0,117.0 C391.2,120.5 390.1,123.5 388.5,126.0 C386.9,128.5 384.8,130.7 382.5,132.0 C380.2,133.3 377.6,134.1 375.0,134.0 C372.4,133.9 368.8,133.0 367.0,131.5 C365.2,130.0 364.8,127.6 364.0,125.0 C363.2,122.4 363.1,119.2 362.5,116.0Z" fill="#5a5ade" stroke="#5050d6" stroke-width="1.0"/>
<path d="M364.5,112.0 C363.9,109.8 362.9,106.5 362.5,104.0 C362.1,101.5 361.6,98.9 362.0,97.0 C362.4,95.1 363.7,93.7 365.0,92.5 C366.3,91.3 368.2,90.5 370.0,90.0 C371.8,89.5 374.0,89.4 376.0,89.3 C378.0,89.2 380.2,88.8 382.0,89.3 C383.8,89.8 385.4,90.7 386.5,92.5 C387.6,94.3 388.2,97.4 388.5,100.0 C388.8,102.6 388.6,105.3 388.3,108.0 C388.0,110.7 387.6,113.6 386.5,116.0 C385.4,118.4 383.9,121.1 382.0,122.5 C380.1,123.9 377.2,124.6 375.0,124.5 C372.8,124.4 370.5,123.2 369.0,122.0 C367.5,120.8 366.8,119.2 366.0,117.5 C365.2,115.8 365.1,114.2 364.5,112.0Z" fill="#4848da" stroke="#5050d6" stroke-width="1.0"/>
<path d="M368.0,106.0 C368.0,104.1 368.6,101.5 369.5,100.0 C370.4,98.5 371.9,97.8 373.5,97.2 C375.1,96.6 377.4,96.4 379.0,96.6 C380.6,96.8 382.2,97.3 383.0,98.5 C383.8,99.7 384.0,102.1 384.0,104.0 C384.0,105.9 383.8,108.2 383.0,110.0 C382.2,111.8 381.0,113.8 379.5,114.5 C378.0,115.2 375.7,115.0 374.0,114.5 C372.3,114.0 370.5,112.9 369.5,111.5 C368.5,110.1 368.0,107.9 368.0,106.0Z" fill="#3838d6" stroke="#5050d6" stroke-width="1.0"/>
<path d="M442.3,83.5 C442.5,79.7 442.5,75.3 443.4,72.3 C444.3,69.3 445.9,67.3 447.8,65.6 C449.7,63.9 451.5,63.0 454.5,62.3 C457.5,61.6 462.0,61.2 465.7,61.2 C469.4,61.2 473.4,61.8 476.8,62.3 C480.2,62.8 483.4,63.4 485.8,64.5 C488.2,65.6 489.3,66.8 491.0,69.0 C492.7,71.2 494.3,74.5 496.0,78.0 C497.7,81.5 499.5,86.0 501.0,90.0 C502.5,94.0 503.7,97.8 505.0,102.0 C506.3,106.2 507.7,110.3 509.0,115.0 C510.3,119.7 511.8,125.0 513.0,130.0 C514.2,135.0 515.4,140.0 516.5,145.0 C517.6,150.0 519.1,155.3 519.5,160.0 C519.9,164.7 519.8,168.8 518.8,173.2 C517.8,177.6 515.8,182.5 513.5,186.2 C511.2,189.9 508.7,192.7 505.0,195.5 C501.3,198.3 496.3,200.8 491.4,203.1 C486.5,205.4 481.4,207.9 475.8,209.6 C470.2,211.3 464.0,212.0 458.0,213.5 C452.0,215.0 445.5,217.0 440.0,218.5 C434.5,220.0 430.1,221.4 425.0,222.5 C419.9,223.6 414.7,224.6 409.1,225.2 C403.5,225.8 397.1,226.7 391.2,226.3 C385.2,225.9 378.6,224.6 373.4,222.9 C368.2,221.2 363.6,218.2 360.0,216.2 C356.4,214.2 353.9,212.7 352.0,211.0 C350.1,209.3 348.2,207.1 348.5,206.0 C348.8,204.9 352.1,204.5 354.0,204.5 C355.9,204.5 357.1,205.0 360.0,206.2 C362.9,207.4 367.1,210.5 371.2,211.8 C375.3,213.1 380.1,214.4 384.5,214.0 C388.9,213.6 394.7,211.4 397.9,209.5 C401.1,207.6 402.3,205.7 403.5,202.8 C404.7,199.9 404.8,195.8 405.0,192.0 C405.2,188.2 404.7,183.5 405.0,180.0 C405.3,176.5 405.5,174.1 407.0,170.8 C408.5,167.5 411.5,163.3 414.0,160.0 C416.5,156.7 419.7,154.0 422.0,151.0 C424.3,148.0 426.0,145.0 428.0,142.0 C430.0,139.0 432.3,136.6 434.0,132.9 C435.7,129.2 436.8,124.2 438.0,120.0 C439.2,115.8 440.3,112.2 441.0,108.0 C441.7,103.8 441.8,99.1 442.0,95.0 C442.2,90.9 442.1,87.3 442.3,83.5Z" fill="#f8e2e2" stroke="#e0504e" stroke-width="1.2" stroke-dasharray="4.6,2.2"/>
<path d="M450.1,79.0 C451.2,76.8 452.3,75.6 454.5,74.5 C456.7,73.4 459.8,72.3 463.5,72.3 C467.2,72.3 473.1,73.4 476.8,74.5 C480.6,75.6 483.5,76.8 486.0,79.0 C488.5,81.2 490.3,84.7 492.0,88.0 C493.7,91.3 494.7,95.3 496.0,99.0 C497.3,102.7 498.7,106.2 500.0,110.0 C501.3,113.8 503.1,118.1 504.0,122.0 C504.9,125.9 504.7,129.4 505.1,133.5 C505.5,137.6 505.6,142.4 506.2,146.8 C506.8,151.2 508.4,156.1 509.0,160.0 C509.6,163.9 510.3,166.3 510.0,170.0 C509.7,173.7 508.6,178.2 507.0,182.0 C505.4,185.8 504.0,189.8 500.5,192.7 C497.0,195.6 491.2,197.5 486.2,199.2 C481.2,200.9 475.3,202.0 470.6,203.1 C465.9,204.2 461.5,204.3 458.0,205.5 C454.5,206.7 454.2,208.4 449.8,210.0 C445.4,211.6 436.6,214.5 431.6,215.1 C426.6,215.7 422.8,215.2 420.0,213.5 C417.2,211.8 415.9,207.8 415.0,205.0 C414.1,202.2 414.8,201.2 414.7,196.8 C414.6,192.4 414.0,183.7 414.7,178.6 C415.4,173.5 416.7,169.6 418.6,166.0 C420.5,162.4 423.9,160.0 426.0,157.0 C428.1,154.0 429.8,151.8 431.0,148.0 C432.2,144.2 432.2,138.7 433.0,134.0 C433.8,129.3 434.7,124.0 436.0,120.0 C437.3,116.0 439.3,113.5 441.0,110.0 C442.7,106.5 444.8,102.7 446.0,99.0 C447.2,95.3 447.3,91.3 448.0,88.0 C448.7,84.7 449.0,81.2 450.1,79.0Z" fill="#f4cdcd" stroke="#e0504e" stroke-width="1.2" stroke-dasharray="4.6,2.2"/>
<path d="M457.0,99.0 C458.5,96.3 456.8,93.3 458.0,91.0 C459.2,88.7 461.2,86.3 464.0,85.0 C466.8,83.7 471.0,82.8 474.6,83.0 C478.2,83.2 482.9,84.5 485.8,86.0 C488.7,87.5 490.3,89.5 492.0,92.0 C493.7,94.5 495.0,97.7 496.0,101.0 C497.0,104.3 497.8,108.0 498.0,112.0 C498.2,116.0 497.8,120.8 497.5,125.0 C497.2,129.2 496.3,132.8 496.0,137.0 C495.7,141.2 495.3,145.8 495.5,150.0 C495.7,154.2 496.9,158.0 497.0,162.0 C497.1,166.0 497.2,170.2 496.0,174.0 C494.8,177.8 492.5,181.7 490.0,184.5 C487.5,187.3 484.3,189.3 481.0,191.0 C477.7,192.7 473.5,193.5 470.0,194.5 C466.5,195.5 463.8,195.6 460.0,196.8 C456.2,198.1 451.5,201.1 447.2,202.0 C442.9,202.9 437.4,204.0 434.2,202.0 C431.0,200.0 428.4,194.5 428.0,190.0 C427.6,185.5 429.8,179.2 431.6,175.0 C433.4,170.8 437.3,168.8 439.0,165.0 C440.7,161.2 441.3,157.0 442.0,152.0 C442.7,147.0 442.6,140.6 443.0,135.0 C443.4,129.4 443.5,123.1 444.5,118.4 C445.5,113.7 446.9,110.2 449.0,107.0 C451.1,103.8 455.5,101.7 457.0,99.0Z" fill="#f0adad" stroke="#e0504e" stroke-width="1.2" stroke-dasharray="4.6,2.2"/>
<path d="M458.5,105.0 C460.2,101.3 460.9,98.2 463.0,96.0 C465.1,93.8 468.2,92.7 471.0,92.0 C473.8,91.3 477.2,91.4 480.0,91.7 C482.8,92.0 486.1,92.3 488.0,94.0 C489.9,95.7 490.8,98.8 491.5,102.0 C492.2,105.2 492.2,109.0 492.0,113.0 C491.8,117.0 490.7,122.0 490.0,126.0 C489.3,130.0 488.5,133.0 488.0,137.0 C487.5,141.0 487.2,145.8 487.0,150.0 C486.8,154.2 487.5,158.3 487.0,162.0 C486.5,165.7 485.5,169.8 484.0,172.0 C482.5,174.2 480.2,175.7 478.0,175.5 C475.8,175.3 473.2,173.4 471.0,171.0 C468.8,168.6 467.3,164.3 465.0,161.0 C462.7,157.7 459.3,154.3 457.0,151.0 C454.7,147.7 452.1,144.5 451.0,141.0 C449.9,137.5 450.2,133.8 450.5,130.0 C450.8,126.2 451.7,122.2 453.0,118.0 C454.3,113.8 456.8,108.7 458.5,105.0Z" fill="#ec9090" stroke="#e0504e" stroke-width="1.2" stroke-dasharray="4.6,2.2"/>
<path d="M469.0,108.0 C469.6,105.6 470.7,103.6 472.0,102.5 C473.3,101.4 475.3,101.2 477.0,101.5 C478.7,101.8 480.8,102.4 482.0,104.0 C483.2,105.6 483.8,108.5 484.0,111.0 C484.2,113.5 484.0,116.5 483.5,119.0 C483.0,121.5 482.2,124.2 481.0,126.0 C479.8,127.8 477.7,129.5 476.0,129.5 C474.3,129.5 472.2,128.1 471.0,126.0 C469.8,123.9 468.9,120.0 468.6,117.0 C468.3,114.0 468.4,110.4 469.0,108.0Z" fill="#e87272" stroke="#e0504e" stroke-width="1.2" stroke-dasharray="4.6,2.2"/>
<path d="M419.0,253.0 C421.1,253.0 423.3,253.0 425.4,252.9 C427.6,252.8 429.7,252.6 431.9,252.4 C434.0,252.2 436.1,251.9 438.3,251.6 C440.4,251.3 442.5,250.9 444.6,250.5 C446.7,250.0 448.8,249.5 450.9,249.0 C453.0,248.4 455.0,247.8 457.1,247.2 C459.1,246.5 461.2,245.8 463.2,245.1 C465.2,244.3 467.2,243.5 469.1,242.6 C471.1,241.8 473.1,240.8 475.0,239.9 C476.9,238.9 478.8,237.9 480.7,236.8 C482.5,235.8 484.4,234.6 486.2,233.5 C488.0,232.3 489.8,231.1 491.5,229.9 C493.3,228.6 495.0,227.3 496.7,225.9 C498.4,224.6 500.0,223.2 501.6,221.8 C503.2,220.3 504.8,218.9 506.3,217.3 C507.9,215.8 509.4,214.3 510.8,212.7 C512.3,211.1 513.7,209.5 515.1,207.8 C516.4,206.1 517.7,204.4 519.0,202.7 C520.3,200.9 521.5,199.2 522.7,197.4 C523.9,195.6 525.0,193.7 526.1,191.9 C527.2,190.0 528.3,188.1 529.3,186.2 C530.2,184.3 531.2,182.3 532.1,180.3 C533.0,178.4 533.8,176.4 534.6,174.4 C535.4,172.4 536.1,170.3 536.8,168.3 C537.5,166.2 538.1,164.1 538.7,162.1 C539.2,160.0 539.7,157.9 540.2,155.8 C540.7,153.7 541.1,151.5 541.4,149.4 C541.8,147.3 542.3,145.1 542.3,143.0 C542.3,140.8 542.0,138.6 541.6,136.4 C541.2,134.3 540.8,132.1 540.0,130.0 C539.2,127.9 537.6,125.9 536.8,123.8 C536.0,121.8 535.8,119.8 535.2,117.8 C534.5,115.8 533.8,113.9 532.9,112.0 C532.0,110.1 530.8,108.3 529.7,106.5 C528.6,104.7 527.4,103.0 526.2,101.3 C525.1,99.6 524.0,97.9 522.9,96.2 C521.8,94.6 520.6,93.0 519.5,91.4 C518.3,89.9 517.2,88.3 515.8,86.9 C514.5,85.5 512.9,84.2 511.3,82.9 C509.8,81.7 508.2,80.5 506.7,79.4 C505.2,78.2 503.9,77.0 502.4,75.8 C501.0,74.6 499.8,73.4 498.3,72.4 C496.7,71.4 494.8,70.7 493.1,70.0 C491.4,69.2 489.6,68.6 487.9,67.9 C486.2,67.3 484.5,66.7 482.9,66.1 C481.2,65.6 479.6,65.0 478.0,64.5 C476.4,63.9 474.8,63.5 473.2,63.1 C471.6,62.7 469.9,62.5 468.4,62.0 C466.9,61.6 465.5,61.0 464.1,60.5 C462.7,60.1 461.3,59.7 459.8,59.3 C458.4,58.9 456.9,58.7 455.5,58.3 C454.2,57.9 452.9,57.4 451.5,57.0 C450.2,56.6 448.8,56.3 447.4,55.9 C446.1,55.5 444.8,55.2 443.4,54.8 C442.1,54.4 440.8,53.9 439.5,53.5 C438.2,53.1 436.8,52.7 435.5,52.3 C434.2,52.0 432.8,51.6 431.5,51.2 C430.1,50.8 428.8,50.3 427.4,49.9 C426.0,49.5 424.7,49.2 423.3,48.9 C421.8,48.5 420.4,48.2 419.0,48.0 C417.6,47.8 416.1,47.6 414.7,47.5 C413.2,47.4 411.8,47.3 410.3,47.3 C408.8,47.2 407.4,47.1 405.9,47.1 C404.4,47.0 402.8,46.8 401.3,46.7 C399.8,46.7 398.2,46.7 396.7,46.7 C395.1,46.7 393.6,46.8 392.0,46.9 C390.4,47.0 388.9,47.2 387.3,47.4 C385.7,47.5 384.1,47.7 382.5,47.9 C380.8,48.1 379.2,48.4 377.6,48.7 C375.9,49.0 374.3,49.4 372.6,49.7 C371.0,50.1 369.2,50.3 367.5,50.7 C365.8,51.0 364.0,51.5 362.3,51.9 C360.6,52.4 358.8,53.0 357.1,53.6 C355.4,54.1 353.6,54.8 351.9,55.5 C350.2,56.2 348.5,57.0 346.8,57.8 C345.1,58.6 343.4,59.5 341.7,60.4 C340.1,61.4 338.5,62.5 337.0,63.6 C335.4,64.7 334.0,65.9 332.5,67.1 C331.0,68.4 329.6,69.7 328.1,71.0 C326.7,72.3 325.3,73.7 323.9,75.1 C322.5,76.5 321.1,77.9 319.7,79.4 C318.4,80.9 317.0,82.4 315.8,84.1 C314.6,85.7 313.4,87.3 312.4,89.1 C311.3,90.8 310.6,92.7 309.7,94.5 C308.9,96.3 308.2,98.2 307.4,100.1 C306.5,102.0 305.7,103.8 304.8,105.7 C304.0,107.6 303.1,109.6 302.3,111.5 C301.5,113.5 300.8,115.5 300.1,117.5 C299.5,119.5 298.9,121.6 298.4,123.7 C297.8,125.8 297.3,127.9 297.0,130.0 C296.7,132.1 296.6,134.3 296.6,136.4 C296.5,138.6 296.5,140.7 296.7,142.9 C296.8,145.0 297.2,147.1 297.5,149.2 C297.9,151.4 298.2,153.5 298.7,155.6 C299.1,157.7 299.6,159.8 300.2,161.8 C300.7,163.9 301.4,166.0 302.0,168.0 C302.7,170.0 303.4,172.1 304.2,174.1 C304.9,176.1 305.8,178.1 306.6,180.0 C307.5,182.0 308.4,183.9 309.4,185.8 C310.4,187.8 311.4,189.6 312.5,191.5 C313.6,193.4 314.7,195.2 315.8,197.0 C317.0,198.8 318.2,200.6 319.5,202.3 C320.8,204.0 322.1,205.7 323.4,207.4 C324.8,209.1 326.2,210.7 327.6,212.3 C329.0,213.9 330.5,215.5 332.0,217.0 C333.5,218.5 335.1,220.0 336.7,221.4 C338.3,222.8 339.9,224.2 341.6,225.6 C343.3,226.9 345.0,228.2 346.7,229.5 C348.4,230.8 350.2,232.0 352.0,233.2 C353.8,234.3 355.6,235.4 357.5,236.5 C359.4,237.6 361.2,238.6 363.2,239.6 C365.1,240.6 367.0,241.5 369.0,242.4 C370.9,243.2 372.9,244.1 374.9,244.8 C376.9,245.6 379.0,246.3 381.0,247.0 C383.0,247.6 385.1,248.3 387.2,248.8 C389.2,249.4 391.3,249.9 393.4,250.3 C395.5,250.8 397.6,251.1 399.8,251.5 C401.9,251.8 404.0,252.1 406.1,252.3 C408.3,252.6 410.4,252.7 412.6,252.8 C414.7,252.9 416.9,253.0 419.0,253.0Z" fill="none" stroke="#b8de74" stroke-width="1.0"/>
<path d="M419.0,253.0 C421.1,253.0 423.3,253.0 425.4,252.9 C427.6,252.8 429.7,252.6 431.9,252.4 C434.0,252.2 436.1,251.9 438.3,251.6 C440.4,251.3 442.5,250.9 444.6,250.5 C446.7,250.0 448.8,249.5 450.9,249.0 C453.0,248.4 455.0,247.8 457.1,247.2 C459.1,246.5 461.2,245.8 463.2,245.1 C465.2,244.3 467.2,243.5 469.1,242.6 C471.1,241.8 473.1,240.8 475.0,239.9 C476.9,238.9 478.8,237.9 480.7,236.8 C482.5,235.8 484.4,234.6 486.2,233.5 C488.0,232.3 489.8,231.1 491.5,229.9 C493.3,228.6 495.0,227.3 496.7,225.9 C498.4,224.6 500.0,223.2 501.6,221.8 C503.2,220.3 504.8,218.9 506.3,217.3 C507.9,215.8 509.4,214.3 510.8,212.7 C512.3,211.1 513.7,209.5 515.1,207.8 C516.4,206.1 517.7,204.4 519.0,202.7 C520.3,200.9 521.5,199.2 522.7,197.4 C523.9,195.6 525.0,193.7 526.1,191.9 C527.2,190.0 528.3,188.1 529.3,186.2 C530.2,184.3 531.2,182.3 532.1,180.3 C533.0,178.4 533.8,176.4 534.6,174.4 C535.4,172.4 536.1,170.3 536.8,168.3 C537.5,166.2 538.1,164.1 538.7,162.1 C539.2,160.0 539.7,157.9 540.2,155.8 C540.7,153.7 541.1,151.5 541.4,149.4 C541.8,147.3 542.3,145.1 542.3,143.0 C542.3,140.8 542.0,138.6 541.6,136.4 C541.2,134.3 540.8,132.1 540.0,130.0 C539.2,127.9 537.6,125.9 536.8,123.8 C536.0,121.8 535.8,119.8 535.2,117.8 C534.5,115.8 533.8,113.9 532.9,112.0 C532.0,110.1 530.8,108.3 529.7,106.5 C528.6,104.7 527.4,103.0 526.2,101.3 C525.1,99.6 524.0,97.9 522.9,96.2 C521.8,94.6 520.6,93.0 519.5,91.4 C518.3,89.9 517.2,88.3 515.8,86.9 C514.5,85.5 512.9,84.2 511.3,82.9 C509.8,81.7 508.2,80.5 506.7,79.4 C505.2,78.2 503.9,77.0 502.4,75.8 C501.0,74.6 499.8,73.4 498.3,72.4 C496.7,71.4 494.8,70.7 493.1,70.0 C491.4,69.2 489.6,68.6 487.9,67.9 C486.2,67.3 484.5,66.7 482.9,66.1 C481.2,65.6 479.6,65.0 478.0,64.5 C476.4,63.9 474.8,63.5 473.2,63.1 C471.6,62.7 469.9,62.5 468.4,62.0 C466.9,61.6 465.5,61.0 464.1,60.5 C462.7,60.1 461.3,59.7 459.8,59.3 C458.4,58.9 456.9,58.7 455.5,58.3 C454.2,57.9 452.9,57.4 451.5,57.0 C450.2,56.6 448.8,56.3 447.4,55.9 C446.1,55.5 444.8,55.2 443.4,54.8 C442.1,54.4 440.8,53.9 439.5,53.5 C438.2,53.1 436.8,52.7 435.5,52.3 C434.2,52.0 432.8,51.6 431.5,51.2 C430.1,50.8 428.8,50.3 427.4,49.9 C426.0,49.5 424.7,49.2 423.3,48.9 C421.8,48.5 420.4,48.2 419.0,48.0 C417.6,47.8 416.1,47.6 414.7,47.5 C413.2,47.4 411.8,47.3 410.3,47.3 C408.8,47.2 407.4,47.1 405.9,47.1 C404.4,47.0 402.8,46.8 401.3,46.7 C399.8,46.7 398.2,46.7 396.7,46.7 C395.1,46.7 393.6,46.8 392.0,46.9 C390.4,47.0 388.9,47.2 387.3,47.4 C385.7,47.5 384.1,47.7 382.5,47.9 C380.8,48.1 379.2,48.4 377.6,48.7 C375.9,49.0 374.3,49.4 372.6,49.7 C371.0,50.1 369.2,50.3 367.5,50.7 C365.8,51.0 364.0,51.5 362.3,51.9 C360.6,52.4 358.8,53.0 357.1,53.6 C355.4,54.1 353.6,54.8 351.9,55.5 C350.2,56.2 348.5,57.0 346.8,57.8 C345.1,58.6 343.4,59.5 341.7,60.4 C340.1,61.4 338.5,62.5 337.0,63.6 C335.4,64.7 334.0,65.9 332.5,67.1 C331.0,68.4 329.6,69.7 328.1,71.0 C326.7,72.3 325.3,73.7 323.9,75.1 C322.5,76.5 321.1,77.9 319.7,79.4 C318.4,80.9 317.0,82.4 315.8,84.1 C314.6,85.7 313.4,87.3 312.4,89.1 C311.3,90.8 310.6,92.7 309.7,94.5 C308.9,96.3 308.2,98.2 307.4,100.1 C306.5,102.0 305.7,103.8 304.8,105.7 C304.0,107.6 303.1,109.6 302.3,111.5 C301.5,113.5 300.8,115.5 300.1,117.5 C299.5,119.5 298.9,121.6 298.4,123.7 C297.8,125.8 297.3,127.9 297.0,130.0 C296.7,132.1 296.6,134.3 296.6,136.4 C296.5,138.6 296.5,140.7 296.7,142.9 C296.8,145.0 297.2,147.1 297.5,149.2 C297.9,151.4 298.2,153.5 298.7,155.6 C299.1,157.7 299.6,159.8 300.2,161.8 C300.7,163.9 301.4,166.0 302.0,168.0 C302.7,170.0 303.4,172.1 304.2,174.1 C304.9,176.1 305.8,178.1 306.6,180.0 C307.5,182.0 308.4,183.9 309.4,185.8 C310.4,187.8 311.4,189.6 312.5,191.5 C313.6,193.4 314.7,195.2 315.8,197.0 C317.0,198.8 318.2,200.6 319.5,202.3 C320.8,204.0 322.1,205.7 323.4,207.4 C324.8,209.1 326.2,210.7 327.6,212.3 C329.0,213.9 330.5,215.5 332.0,217.0 C333.5,218.5 335.1,220.0 336.7,221.4 C338.3,222.8 339.9,224.2 341.6,225.6 C343.3,226.9 345.0,228.2 346.7,229.5 C348.4,230.8 350.2,232.0 352.0,233.2 C353.8,234.3 355.6,235.4 357.5,236.5 C359.4,237.6 361.2,238.6 363.2,239.6 C365.1,240.6 367.0,241.5 369.0,242.4 C370.9,243.2 372.9,244.1 374.9,244.8 C376.9,245.6 379.0,246.3 381.0,247.0 C383.0,247.6 385.1,248.3 387.2,248.8 C389.2,249.4 391.3,249.9 393.4,250.3 C395.5,250.8 397.6,251.1 399.8,251.5 C401.9,251.8 404.0,252.1 406.1,252.3 C408.3,252.6 410.4,252.7 412.6,252.8 C414.7,252.9 416.9,253.0 419.0,253.0Z" fill="none" stroke="#4a4a4a" stroke-width="0.95" stroke-dasharray="2.2,2.4"/>
<g stroke-linecap="round"><line x1="523.1" y1="101.3" x2="522.0" y2="99.3" stroke="#6cc040" stroke-width="0.9"/><line x1="521.4" y1="98.2" x2="519.8" y2="96.5" stroke="#6cc040" stroke-width="0.9"/><line x1="519.2" y1="95.4" x2="518.0" y2="93.5" stroke="#6cc040" stroke-width="0.9"/><line x1="517.1" y1="92.6" x2="515.8" y2="90.7" stroke="#6cc040" stroke-width="0.9"/><line x1="515.0" y1="89.8" x2="513.5" y2="88.0" stroke="#50b0a0" stroke-width="0.9"/><line x1="512.7" y1="87.0" x2="510.7" y2="85.7" stroke="#6cc040" stroke-width="0.9"/><line x1="509.8" y1="84.6" x2="507.9" y2="83.3" stroke="#50b0a0" stroke-width="0.9"/><line x1="506.9" y1="82.4" x2="505.0" y2="81.1" stroke="#50b0a0" stroke-width="0.9"/><line x1="501.2" y1="77.9" x2="499.4" y2="76.5" stroke="#6cc040" stroke-width="0.9"/><line x1="498.3" y1="75.8" x2="496.8" y2="74.2" stroke="#6cc040" stroke-width="0.9"/><line x1="495.5" y1="73.4" x2="493.3" y2="72.7" stroke="#50b0a0" stroke-width="0.9"/><line x1="492.1" y1="71.8" x2="489.8" y2="71.3" stroke="#50b0a0" stroke-width="0.9"/><line x1="488.4" y1="70.6" x2="486.3" y2="69.7" stroke="#50b0a0" stroke-width="0.9"/><line x1="484.8" y1="69.4" x2="482.6" y2="68.5" stroke="#50b0a0" stroke-width="0.9"/><line x1="481.3" y1="68.1" x2="479.1" y2="67.3" stroke="#6cc040" stroke-width="0.9"/><line x1="477.8" y1="66.8" x2="475.5" y2="66.2" stroke="#50b0a0" stroke-width="0.9"/><line x1="474.1" y1="65.9" x2="472.0" y2="65.0" stroke="#50b0a0" stroke-width="0.9"/><line x1="463.6" y1="63.1" x2="461.5" y2="62.2" stroke="#50b0a0" stroke-width="0.9"/><line x1="460.3" y1="61.8" x2="458.0" y2="61.6" stroke="#50b0a0" stroke-width="0.9"/><line x1="456.9" y1="61.2" x2="454.7" y2="60.6" stroke="#50b0a0" stroke-width="0.9"/><line x1="453.6" y1="60.2" x2="451.3" y2="59.7" stroke="#50b0a0" stroke-width="0.9"/><line x1="450.3" y1="59.1" x2="448.0" y2="58.8" stroke="#6cc040" stroke-width="0.9"/><line x1="447.0" y1="58.4" x2="444.7" y2="58.0" stroke="#50b0a0" stroke-width="0.9"/><line x1="443.7" y1="57.6" x2="441.4" y2="57.0" stroke="#6cc040" stroke-width="0.9"/><line x1="437.2" y1="55.4" x2="434.9" y2="55.0" stroke="#6cc040" stroke-width="0.9"/><line x1="433.9" y1="54.7" x2="431.7" y2="54.0" stroke="#6cc040" stroke-width="0.9"/><line x1="430.5" y1="53.7" x2="428.4" y2="52.8" stroke="#50b0a0" stroke-width="0.9"/><line x1="423.9" y1="51.8" x2="421.7" y2="51.0" stroke="#6cc040" stroke-width="0.9"/><line x1="519.7" y1="102.3" x2="518.8" y2="100.2" stroke="#6cc040" stroke-width="0.9"/><line x1="518.0" y1="99.2" x2="516.7" y2="97.4" stroke="#6cc040" stroke-width="0.9"/><line x1="516.0" y1="96.3" x2="514.5" y2="94.6" stroke="#6cc040" stroke-width="0.9"/><line x1="513.8" y1="93.5" x2="512.4" y2="91.7" stroke="#6cc040" stroke-width="0.9"/><line x1="511.8" y1="90.6" x2="509.9" y2="89.2" stroke="#a8d850" stroke-width="0.9"/><line x1="508.9" y1="88.3" x2="507.4" y2="86.6" stroke="#a8d850" stroke-width="0.9"/><line x1="503.2" y1="83.6" x2="501.4" y2="82.2" stroke="#6cc040" stroke-width="0.9"/><line x1="500.2" y1="81.4" x2="498.4" y2="80.0" stroke="#6cc040" stroke-width="0.9"/><line x1="497.6" y1="79.1" x2="495.7" y2="77.8" stroke="#6cc040" stroke-width="0.9"/><line x1="494.9" y1="76.6" x2="492.8" y2="75.8" stroke="#6cc040" stroke-width="0.9"/><line x1="491.5" y1="75.1" x2="489.4" y2="74.0" stroke="#6cc040" stroke-width="0.9"/><line x1="484.3" y1="72.0" x2="482.1" y2="71.7" stroke="#a8d850" stroke-width="0.9"/><line x1="480.6" y1="71.0" x2="478.4" y2="70.4" stroke="#6cc040" stroke-width="0.9"/><line x1="477.1" y1="69.7" x2="474.9" y2="69.3" stroke="#6cc040" stroke-width="0.9"/><line x1="469.8" y1="68.0" x2="467.6" y2="67.2" stroke="#a8d850" stroke-width="0.9"/><line x1="466.2" y1="67.1" x2="463.9" y2="66.7" stroke="#a8d850" stroke-width="0.9"/><line x1="462.8" y1="66.1" x2="460.5" y2="65.6" stroke="#6cc040" stroke-width="0.9"/><line x1="459.4" y1="65.0" x2="457.2" y2="64.7" stroke="#6cc040" stroke-width="0.9"/><line x1="456.0" y1="64.2" x2="453.7" y2="63.8" stroke="#6cc040" stroke-width="0.9"/><line x1="452.6" y1="63.5" x2="450.4" y2="62.9" stroke="#a8d850" stroke-width="0.9"/><line x1="449.4" y1="62.4" x2="447.1" y2="62.1" stroke="#6cc040" stroke-width="0.9"/><line x1="446.0" y1="61.8" x2="443.8" y2="61.0" stroke="#a8d850" stroke-width="0.9"/><line x1="442.7" y1="60.9" x2="440.5" y2="60.2" stroke="#6cc040" stroke-width="0.9"/><line x1="439.5" y1="59.7" x2="437.3" y2="59.1" stroke="#a8d850" stroke-width="0.9"/><line x1="436.2" y1="58.7" x2="434.0" y2="58.2" stroke="#a8d850" stroke-width="0.9"/><line x1="432.8" y1="58.2" x2="430.8" y2="57.1" stroke="#a8d850" stroke-width="0.9"/><line x1="429.6" y1="56.9" x2="427.5" y2="56.0" stroke="#6cc040" stroke-width="0.9"/><line x1="426.3" y1="55.8" x2="424.1" y2="55.1" stroke="#a8d850" stroke-width="0.9"/><line x1="423.0" y1="54.7" x2="420.7" y2="54.4" stroke="#a8d850" stroke-width="0.9"/><line x1="516.5" y1="103.2" x2="515.5" y2="101.2" stroke="#a8d850" stroke-width="0.9"/><line x1="514.8" y1="100.1" x2="513.2" y2="98.4" stroke="#e8c828" stroke-width="0.9"/><line x1="510.4" y1="94.5" x2="509.0" y2="92.7" stroke="#a8d850" stroke-width="0.9"/><line x1="508.3" y1="91.6" x2="506.5" y2="90.2" stroke="#a8d850" stroke-width="0.9"/><line x1="505.5" y1="89.2" x2="503.7" y2="87.8" stroke="#e8c828" stroke-width="0.9"/><line x1="502.7" y1="86.7" x2="500.6" y2="85.7" stroke="#a8d850" stroke-width="0.9"/><line x1="499.6" y1="84.5" x2="497.5" y2="83.6" stroke="#e8c828" stroke-width="0.9"/><line x1="493.9" y1="80.3" x2="492.0" y2="79.0" stroke="#a8d850" stroke-width="0.9"/><line x1="491.0" y1="78.0" x2="488.9" y2="77.2" stroke="#e8c828" stroke-width="0.9"/><line x1="487.5" y1="76.4" x2="485.3" y2="75.8" stroke="#a8d850" stroke-width="0.9"/><line x1="483.8" y1="75.3" x2="481.7" y2="74.3" stroke="#a8d850" stroke-width="0.9"/><line x1="476.4" y1="72.9" x2="474.2" y2="72.1" stroke="#a8d850" stroke-width="0.9"/><line x1="472.8" y1="71.8" x2="470.6" y2="71.0" stroke="#a8d850" stroke-width="0.9"/><line x1="469.1" y1="70.9" x2="466.9" y2="70.2" stroke="#a8d850" stroke-width="0.9"/><line x1="465.4" y1="70.2" x2="463.2" y2="69.5" stroke="#e8c828" stroke-width="0.9"/><line x1="461.9" y1="69.2" x2="459.7" y2="68.7" stroke="#a8d850" stroke-width="0.9"/><line x1="455.1" y1="67.2" x2="452.8" y2="67.1" stroke="#a8d850" stroke-width="0.9"/><line x1="451.6" y1="66.8" x2="449.5" y2="66.0" stroke="#a8d850" stroke-width="0.9"/><line x1="448.3" y1="65.9" x2="446.2" y2="65.0" stroke="#e8c828" stroke-width="0.9"/><line x1="445.1" y1="64.7" x2="442.8" y2="64.6" stroke="#a8d850" stroke-width="0.9"/><line x1="441.7" y1="64.3" x2="439.6" y2="63.3" stroke="#a8d850" stroke-width="0.9"/><line x1="438.5" y1="63.0" x2="436.3" y2="62.4" stroke="#a8d850" stroke-width="0.9"/><line x1="435.3" y1="62.0" x2="433.0" y2="61.4" stroke="#e8c828" stroke-width="0.9"/><line x1="431.9" y1="61.4" x2="429.8" y2="60.3" stroke="#a8d850" stroke-width="0.9"/><line x1="425.4" y1="58.9" x2="423.1" y2="58.4" stroke="#a8d850" stroke-width="0.9"/><line x1="513.2" y1="104.2" x2="512.2" y2="102.1" stroke="#e8c828" stroke-width="0.9"/><line x1="511.3" y1="101.2" x2="510.1" y2="99.2" stroke="#e8c828" stroke-width="0.9"/><line x1="509.3" y1="98.2" x2="507.8" y2="96.5" stroke="#e8c828" stroke-width="0.9"/><line x1="507.0" y1="95.6" x2="505.7" y2="93.6" stroke="#f09028" stroke-width="0.9"/><line x1="504.9" y1="92.5" x2="503.0" y2="91.3" stroke="#f09028" stroke-width="0.9"/><line x1="499.0" y1="87.9" x2="497.0" y2="86.8" stroke="#e8c828" stroke-width="0.9"/><line x1="495.9" y1="85.9" x2="493.9" y2="84.7" stroke="#e8c828" stroke-width="0.9"/><line x1="492.9" y1="83.9" x2="491.2" y2="82.2" stroke="#e8c828" stroke-width="0.9"/><line x1="490.2" y1="81.5" x2="488.3" y2="80.2" stroke="#e8c828" stroke-width="0.9"/><line x1="487.0" y1="79.5" x2="484.9" y2="78.7" stroke="#e8c828" stroke-width="0.9"/><line x1="483.4" y1="78.0" x2="481.2" y2="77.4" stroke="#e8c828" stroke-width="0.9"/><line x1="479.6" y1="76.9" x2="477.4" y2="76.1" stroke="#f09028" stroke-width="0.9"/><line x1="475.8" y1="75.9" x2="473.6" y2="75.1" stroke="#f09028" stroke-width="0.9"/><line x1="472.2" y1="74.6" x2="470.0" y2="74.2" stroke="#f09028" stroke-width="0.9"/><line x1="468.5" y1="73.8" x2="466.3" y2="73.2" stroke="#e8c828" stroke-width="0.9"/><line x1="464.7" y1="73.0" x2="462.5" y2="72.5" stroke="#e8c828" stroke-width="0.9"/><line x1="461.1" y1="72.3" x2="458.8" y2="71.9" stroke="#f09028" stroke-width="0.9"/><line x1="454.2" y1="70.5" x2="452.0" y2="70.1" stroke="#f09028" stroke-width="0.9"/><line x1="447.4" y1="69.0" x2="445.2" y2="68.3" stroke="#f09028" stroke-width="0.9"/><line x1="444.1" y1="68.1" x2="441.9" y2="67.7" stroke="#e8c828" stroke-width="0.9"/><line x1="440.8" y1="67.4" x2="438.6" y2="66.7" stroke="#e8c828" stroke-width="0.9"/><line x1="437.5" y1="66.4" x2="435.4" y2="65.5" stroke="#f09028" stroke-width="0.9"/><line x1="434.3" y1="65.1" x2="432.1" y2="64.8" stroke="#e8c828" stroke-width="0.9"/><line x1="431.0" y1="64.5" x2="428.9" y2="63.6" stroke="#e8c828" stroke-width="0.9"/><line x1="427.7" y1="63.3" x2="425.6" y2="62.4" stroke="#f09028" stroke-width="0.9"/><line x1="424.4" y1="62.2" x2="422.2" y2="61.4" stroke="#e8c828" stroke-width="0.9"/><line x1="510.0" y1="105.1" x2="508.9" y2="103.1" stroke="#f09028" stroke-width="0.9"/><line x1="508.1" y1="102.1" x2="506.7" y2="100.2" stroke="#e84030" stroke-width="0.9"/><line x1="506.0" y1="99.2" x2="504.5" y2="97.5" stroke="#e84030" stroke-width="0.9"/><line x1="503.6" y1="96.6" x2="502.3" y2="94.6" stroke="#f09028" stroke-width="0.9"/><line x1="501.4" y1="93.6" x2="499.4" y2="92.4" stroke="#f09028" stroke-width="0.9"/><line x1="498.5" y1="91.3" x2="496.4" y2="90.1" stroke="#e84030" stroke-width="0.9"/><line x1="495.3" y1="89.2" x2="493.4" y2="87.9" stroke="#f09028" stroke-width="0.9"/><line x1="491.9" y1="87.3" x2="490.4" y2="85.6" stroke="#e84030" stroke-width="0.9"/><line x1="489.3" y1="84.9" x2="487.4" y2="83.6" stroke="#f09028" stroke-width="0.9"/><line x1="486.4" y1="82.8" x2="484.5" y2="81.5" stroke="#e84030" stroke-width="0.9"/><line x1="483.0" y1="81.0" x2="480.8" y2="80.3" stroke="#e84030" stroke-width="0.9"/><line x1="475.3" y1="78.7" x2="473.1" y2="78.0" stroke="#e84030" stroke-width="0.9"/><line x1="471.5" y1="77.8" x2="469.4" y2="76.9" stroke="#f09028" stroke-width="0.9"/><line x1="467.9" y1="76.7" x2="465.7" y2="76.1" stroke="#f09028" stroke-width="0.9"/><line x1="464.1" y1="76.0" x2="461.9" y2="75.4" stroke="#f09028" stroke-width="0.9"/><line x1="460.2" y1="75.5" x2="458.0" y2="74.9" stroke="#f09028" stroke-width="0.9"/><line x1="456.8" y1="74.4" x2="454.6" y2="74.0" stroke="#f09028" stroke-width="0.9"/><line x1="453.4" y1="73.5" x2="451.1" y2="73.3" stroke="#f09028" stroke-width="0.9"/><line x1="449.8" y1="73.2" x2="447.7" y2="72.3" stroke="#e84030" stroke-width="0.9"/><line x1="446.5" y1="72.1" x2="444.3" y2="71.7" stroke="#e84030" stroke-width="0.9"/><line x1="443.2" y1="71.1" x2="440.9" y2="71.1" stroke="#f09028" stroke-width="0.9"/><line x1="439.8" y1="70.7" x2="437.6" y2="70.0" stroke="#e84030" stroke-width="0.9"/><line x1="436.6" y1="69.5" x2="434.4" y2="68.8" stroke="#e84030" stroke-width="0.9"/><line x1="433.4" y1="68.3" x2="431.1" y2="68.1" stroke="#f09028" stroke-width="0.9"/><line x1="430.0" y1="67.8" x2="428.0" y2="66.7" stroke="#f09028" stroke-width="0.9"/><line x1="423.5" y1="65.2" x2="421.2" y2="64.8" stroke="#e84030" stroke-width="0.9"/><line x1="417.3" y1="52.6" x2="418.7" y2="53.4" stroke="#e8c828" stroke-width="1.0"/><line x1="420.1" y1="52.5" x2="421.5" y2="53.5" stroke="#e8c828" stroke-width="1.0"/><line x1="422.9" y1="52.6" x2="424.3" y2="53.4" stroke="#e8c828" stroke-width="1.0"/><line x1="425.7" y1="52.5" x2="427.1" y2="53.5" stroke="#e8c828" stroke-width="1.0"/><line x1="434.2" y1="52.5" x2="435.4" y2="53.5" stroke="#e8c828" stroke-width="1.0"/><line x1="418.8" y1="55.1" x2="420.0" y2="56.1" stroke="#f09028" stroke-width="1.0"/><line x1="429.9" y1="55.2" x2="431.3" y2="56.0" stroke="#e8c828" stroke-width="1.0"/><line x1="432.7" y1="55.2" x2="434.1" y2="56.0" stroke="#6cc040" stroke-width="1.0"/><line x1="435.5" y1="55.2" x2="436.9" y2="56.0" stroke="#e8c828" stroke-width="1.0"/><line x1="417.3" y1="57.8" x2="418.7" y2="58.6" stroke="#e8c828" stroke-width="1.0"/><line x1="420.1" y1="57.8" x2="421.5" y2="58.6" stroke="#f09028" stroke-width="1.0"/><line x1="425.8" y1="57.7" x2="427.0" y2="58.7" stroke="#6cc040" stroke-width="1.0"/><line x1="428.6" y1="57.7" x2="429.8" y2="58.7" stroke="#e8c828" stroke-width="1.0"/><line x1="431.3" y1="57.8" x2="432.7" y2="58.6" stroke="#f09028" stroke-width="1.0"/><line x1="434.1" y1="57.8" x2="435.5" y2="58.6" stroke="#f09028" stroke-width="1.0"/><line x1="436.9" y1="57.8" x2="438.3" y2="58.6" stroke="#f09028" stroke-width="1.0"/><line x1="418.8" y1="60.3" x2="420.0" y2="61.3" stroke="#e8c828" stroke-width="1.0"/><line x1="421.5" y1="60.4" x2="422.9" y2="61.2" stroke="#e8c828" stroke-width="1.0"/><line x1="424.3" y1="60.4" x2="425.7" y2="61.2" stroke="#6cc040" stroke-width="1.0"/><line x1="427.2" y1="60.3" x2="428.4" y2="61.3" stroke="#e8c828" stroke-width="1.0"/><line x1="430.0" y1="60.3" x2="431.2" y2="61.3" stroke="#6cc040" stroke-width="1.0"/><line x1="432.7" y1="60.3" x2="434.1" y2="61.3" stroke="#f09028" stroke-width="1.0"/><line x1="417.4" y1="62.9" x2="418.6" y2="63.9" stroke="#6cc040" stroke-width="1.0"/><line x1="420.1" y1="63.0" x2="421.5" y2="63.8" stroke="#f09028" stroke-width="1.0"/><line x1="423.0" y1="62.9" x2="424.2" y2="63.9" stroke="#e8c828" stroke-width="1.0"/><line x1="428.6" y1="62.9" x2="429.8" y2="63.9" stroke="#6cc040" stroke-width="1.0"/><line x1="431.4" y1="62.9" x2="432.6" y2="63.9" stroke="#e8c828" stroke-width="1.0"/><line x1="437.0" y1="62.9" x2="438.2" y2="63.9" stroke="#e8c828" stroke-width="1.0"/><line x1="418.8" y1="65.5" x2="420.0" y2="66.5" stroke="#e8c828" stroke-width="1.0"/><line x1="421.6" y1="65.5" x2="422.8" y2="66.5" stroke="#f09028" stroke-width="1.0"/><line x1="424.4" y1="65.5" x2="425.6" y2="66.5" stroke="#e8c828" stroke-width="1.0"/><line x1="427.1" y1="65.6" x2="428.5" y2="66.4" stroke="#f09028" stroke-width="1.0"/><line x1="432.7" y1="65.6" x2="434.1" y2="66.4" stroke="#e8c828" stroke-width="1.0"/><line x1="435.5" y1="65.5" x2="436.9" y2="66.5" stroke="#f09028" stroke-width="1.0"/><line x1="417.4" y1="68.1" x2="418.6" y2="69.1" stroke="#e8c828" stroke-width="1.0"/><line x1="425.8" y1="68.1" x2="427.0" y2="69.1" stroke="#6cc040" stroke-width="1.0"/><line x1="428.5" y1="68.2" x2="429.9" y2="69.0" stroke="#f09028" stroke-width="1.0"/><line x1="431.3" y1="68.2" x2="432.7" y2="69.0" stroke="#f09028" stroke-width="1.0"/><line x1="434.1" y1="68.2" x2="435.5" y2="69.0" stroke="#e8c828" stroke-width="1.0"/><line x1="437.0" y1="68.1" x2="438.2" y2="69.1" stroke="#f09028" stroke-width="1.0"/><line x1="418.8" y1="70.7" x2="420.0" y2="71.7" stroke="#f09028" stroke-width="1.0"/><line x1="421.5" y1="70.8" x2="422.9" y2="71.6" stroke="#6cc040" stroke-width="1.0"/><line x1="424.4" y1="70.7" x2="425.6" y2="71.7" stroke="#6cc040" stroke-width="1.0"/><line x1="427.2" y1="70.7" x2="428.4" y2="71.7" stroke="#6cc040" stroke-width="1.0"/><line x1="432.7" y1="70.8" x2="434.1" y2="71.6" stroke="#6cc040" stroke-width="1.0"/><line x1="435.5" y1="70.8" x2="436.9" y2="71.6" stroke="#e8c828" stroke-width="1.0"/><line x1="417.3" y1="73.4" x2="418.7" y2="74.2" stroke="#e8c828" stroke-width="1.0"/><line x1="420.2" y1="73.3" x2="421.4" y2="74.3" stroke="#6cc040" stroke-width="1.0"/><line x1="423.0" y1="73.3" x2="424.2" y2="74.3" stroke="#6cc040" stroke-width="1.0"/><line x1="425.7" y1="73.4" x2="427.1" y2="74.2" stroke="#f09028" stroke-width="1.0"/><line x1="428.6" y1="73.3" x2="429.8" y2="74.3" stroke="#e8c828" stroke-width="1.0"/><line x1="431.4" y1="73.3" x2="432.6" y2="74.3" stroke="#e8c828" stroke-width="1.0"/><line x1="434.1" y1="73.4" x2="435.5" y2="74.2" stroke="#e8c828" stroke-width="1.0"/><line x1="437.0" y1="73.3" x2="438.2" y2="74.3" stroke="#6cc040" stroke-width="1.0"/><line x1="441.4" y1="71.4" x2="442.6" y2="72.6" stroke="#f09028" stroke-width="1.0"/><line x1="444.5" y1="71.4" x2="445.5" y2="72.6" stroke="#f09028" stroke-width="1.0"/><line x1="453.4" y1="71.5" x2="454.6" y2="72.5" stroke="#e84030" stroke-width="1.0"/><line x1="462.4" y1="71.5" x2="463.6" y2="72.5" stroke="#e84030" stroke-width="1.0"/><line x1="454.9" y1="74.1" x2="456.1" y2="75.1" stroke="#e84030" stroke-width="1.0"/><line x1="460.9" y1="74.1" x2="462.1" y2="75.1" stroke="#f09028" stroke-width="1.0"/><line x1="447.3" y1="76.8" x2="448.7" y2="77.6" stroke="#e84030" stroke-width="1.0"/><line x1="450.4" y1="76.7" x2="451.6" y2="77.7" stroke="#f09028" stroke-width="1.0"/><line x1="453.4" y1="76.7" x2="454.6" y2="77.7" stroke="#e84030" stroke-width="1.0"/><line x1="456.4" y1="76.7" x2="457.6" y2="77.7" stroke="#e84030" stroke-width="1.0"/><line x1="465.3" y1="76.8" x2="466.7" y2="77.6" stroke="#f09028" stroke-width="1.0"/><line x1="442.8" y1="79.4" x2="444.2" y2="80.2" stroke="#e84030" stroke-width="1.0"/><line x1="445.8" y1="79.3" x2="447.2" y2="80.3" stroke="#e84030" stroke-width="1.0"/><line x1="448.9" y1="79.3" x2="450.1" y2="80.3" stroke="#e84030" stroke-width="1.0"/><line x1="451.9" y1="79.3" x2="453.1" y2="80.3" stroke="#e84030" stroke-width="1.0"/><line x1="454.9" y1="79.3" x2="456.1" y2="80.3" stroke="#e84030" stroke-width="1.0"/><line x1="457.9" y1="79.3" x2="459.1" y2="80.3" stroke="#e84030" stroke-width="1.0"/><line x1="463.8" y1="79.4" x2="465.2" y2="80.2" stroke="#f09028" stroke-width="1.0"/><line x1="441.4" y1="81.8" x2="442.6" y2="83.0" stroke="#e84030" stroke-width="1.0"/><line x1="459.4" y1="81.8" x2="460.6" y2="83.0" stroke="#f09028" stroke-width="1.0"/><line x1="465.4" y1="81.9" x2="466.6" y2="82.9" stroke="#e84030" stroke-width="1.0"/><line x1="442.9" y1="84.5" x2="444.1" y2="85.5" stroke="#e84030" stroke-width="1.0"/><line x1="451.9" y1="84.5" x2="453.1" y2="85.5" stroke="#e84030" stroke-width="1.0"/><line x1="458.0" y1="84.4" x2="459.0" y2="85.6" stroke="#f09028" stroke-width="1.0"/><line x1="460.9" y1="84.4" x2="462.1" y2="85.6" stroke="#e84030" stroke-width="1.0"/><line x1="463.9" y1="84.4" x2="465.1" y2="85.6" stroke="#e84030" stroke-width="1.0"/><line x1="441.5" y1="87.0" x2="442.5" y2="88.2" stroke="#e84030" stroke-width="1.0"/><line x1="450.4" y1="87.0" x2="451.6" y2="88.2" stroke="#f09028" stroke-width="1.0"/><line x1="459.4" y1="87.0" x2="460.6" y2="88.2" stroke="#f09028" stroke-width="1.0"/><line x1="465.3" y1="87.1" x2="466.7" y2="88.1" stroke="#f09028" stroke-width="1.0"/><line x1="442.8" y1="89.8" x2="444.2" y2="90.6" stroke="#f09028" stroke-width="1.0"/><line x1="449.0" y1="89.6" x2="450.0" y2="90.8" stroke="#e84030" stroke-width="1.0"/><line x1="454.9" y1="89.7" x2="456.1" y2="90.7" stroke="#f09028" stroke-width="1.0"/><line x1="463.9" y1="89.6" x2="465.1" y2="90.8" stroke="#f09028" stroke-width="1.0"/><line x1="441.4" y1="92.2" x2="442.6" y2="93.4" stroke="#f09028" stroke-width="1.0"/><line x1="444.4" y1="92.3" x2="445.6" y2="93.3" stroke="#f09028" stroke-width="1.0"/><line x1="447.4" y1="92.2" x2="448.6" y2="93.4" stroke="#e84030" stroke-width="1.0"/><line x1="459.4" y1="92.3" x2="460.6" y2="93.3" stroke="#f09028" stroke-width="1.0"/><line x1="462.4" y1="92.3" x2="463.6" y2="93.3" stroke="#e84030" stroke-width="1.0"/><line x1="465.3" y1="92.4" x2="466.7" y2="93.2" stroke="#e84030" stroke-width="1.0"/><line x1="442.9" y1="94.9" x2="444.1" y2="95.9" stroke="#e84030" stroke-width="1.0"/><line x1="448.9" y1="94.9" x2="450.1" y2="95.9" stroke="#f09028" stroke-width="1.0"/><line x1="451.8" y1="95.0" x2="453.2" y2="95.8" stroke="#f09028" stroke-width="1.0"/><line x1="454.9" y1="94.9" x2="456.1" y2="95.9" stroke="#e84030" stroke-width="1.0"/><line x1="460.8" y1="95.0" x2="462.2" y2="95.8" stroke="#f09028" stroke-width="1.0"/><line x1="463.9" y1="94.9" x2="465.1" y2="95.9" stroke="#f09028" stroke-width="1.0"/><line x1="441.4" y1="97.5" x2="442.6" y2="98.5" stroke="#e84030" stroke-width="1.0"/><line x1="447.4" y1="97.5" x2="448.6" y2="98.5" stroke="#e84030" stroke-width="1.0"/><line x1="453.4" y1="97.5" x2="454.6" y2="98.5" stroke="#f09028" stroke-width="1.0"/><line x1="456.4" y1="97.5" x2="457.6" y2="98.5" stroke="#f09028" stroke-width="1.0"/><line x1="459.4" y1="97.5" x2="460.6" y2="98.5" stroke="#f09028" stroke-width="1.0"/><line x1="465.3" y1="97.6" x2="466.7" y2="98.4" stroke="#e84030" stroke-width="1.0"/><line x1="346.7" y1="87.2" x2="347.3" y2="88.8" stroke="#e84030" stroke-width="1.0"/><line x1="354.4" y1="87.3" x2="355.2" y2="88.7" stroke="#e84030" stroke-width="1.0"/><line x1="357.1" y1="87.3" x2="357.7" y2="88.7" stroke="#e84030" stroke-width="1.0"/><line x1="362.3" y1="87.3" x2="362.9" y2="88.7" stroke="#e8c828" stroke-width="1.0"/><line x1="353.1" y1="89.9" x2="353.9" y2="91.3" stroke="#e84030" stroke-width="1.0"/><line x1="355.8" y1="89.8" x2="356.4" y2="91.4" stroke="#e84030" stroke-width="1.0"/><line x1="360.9" y1="89.9" x2="361.7" y2="91.3" stroke="#e8c828" stroke-width="1.0"/><line x1="363.6" y1="89.9" x2="364.2" y2="91.3" stroke="#f09028" stroke-width="1.0"/><line x1="346.7" y1="92.5" x2="347.3" y2="93.9" stroke="#f09028" stroke-width="1.0"/><line x1="349.2" y1="92.5" x2="350.0" y2="93.9" stroke="#6cc040" stroke-width="1.0"/><line x1="351.9" y1="92.5" x2="352.5" y2="93.9" stroke="#e84030" stroke-width="1.0"/><line x1="354.4" y1="92.5" x2="355.2" y2="93.9" stroke="#6cc040" stroke-width="1.0"/><line x1="357.1" y1="92.4" x2="357.7" y2="94.0" stroke="#e8c828" stroke-width="1.0"/><line x1="359.6" y1="92.5" x2="360.4" y2="93.9" stroke="#f09028" stroke-width="1.0"/><line x1="348.0" y1="95.1" x2="348.6" y2="96.5" stroke="#e84030" stroke-width="1.0"/><line x1="353.1" y1="95.1" x2="353.9" y2="96.5" stroke="#6cc040" stroke-width="1.0"/><line x1="355.7" y1="95.1" x2="356.5" y2="96.5" stroke="#f09028" stroke-width="1.0"/><line x1="358.4" y1="95.0" x2="359.0" y2="96.6" stroke="#e84030" stroke-width="1.0"/><line x1="360.9" y1="95.1" x2="361.7" y2="96.5" stroke="#e8c828" stroke-width="1.0"/><line x1="363.6" y1="95.1" x2="364.2" y2="96.5" stroke="#e8c828" stroke-width="1.0"/><line x1="349.4" y1="97.6" x2="349.8" y2="99.2" stroke="#e8c828" stroke-width="1.0"/><line x1="351.8" y1="97.7" x2="352.6" y2="99.1" stroke="#6cc040" stroke-width="1.0"/><line x1="354.4" y1="97.7" x2="355.2" y2="99.1" stroke="#e8c828" stroke-width="1.0"/><line x1="357.1" y1="97.7" x2="357.7" y2="99.1" stroke="#f09028" stroke-width="1.0"/><line x1="359.7" y1="97.7" x2="360.3" y2="99.1" stroke="#e8c828" stroke-width="1.0"/><line x1="362.3" y1="97.7" x2="362.9" y2="99.1" stroke="#e8c828" stroke-width="1.0"/><line x1="350.6" y1="100.3" x2="351.2" y2="101.7" stroke="#e84030" stroke-width="1.0"/><line x1="358.3" y1="100.3" x2="359.1" y2="101.7" stroke="#f09028" stroke-width="1.0"/><line x1="361.0" y1="100.3" x2="361.6" y2="101.7" stroke="#f09028" stroke-width="1.0"/><line x1="363.6" y1="100.3" x2="364.2" y2="101.7" stroke="#e8c828" stroke-width="1.0"/><line x1="346.6" y1="102.9" x2="347.4" y2="104.3" stroke="#f09028" stroke-width="1.0"/><line x1="349.3" y1="102.8" x2="349.9" y2="104.4" stroke="#f09028" stroke-width="1.0"/><line x1="351.9" y1="102.9" x2="352.5" y2="104.3" stroke="#6cc040" stroke-width="1.0"/><line x1="357.0" y1="102.9" x2="357.8" y2="104.3" stroke="#6cc040" stroke-width="1.0"/><line x1="362.2" y1="102.9" x2="363.0" y2="104.3" stroke="#6cc040" stroke-width="1.0"/><line x1="348.1" y1="105.4" x2="348.5" y2="107.0" stroke="#6cc040" stroke-width="1.0"/><line x1="350.6" y1="105.4" x2="351.2" y2="107.0" stroke="#f09028" stroke-width="1.0"/><line x1="353.1" y1="105.5" x2="353.9" y2="106.9" stroke="#f09028" stroke-width="1.0"/><line x1="355.8" y1="105.5" x2="356.4" y2="106.9" stroke="#e8c828" stroke-width="1.0"/><line x1="358.4" y1="105.5" x2="359.0" y2="106.9" stroke="#e84030" stroke-width="1.0"/><line x1="361.0" y1="105.5" x2="361.6" y2="106.9" stroke="#e8c828" stroke-width="1.0"/><line x1="363.6" y1="105.5" x2="364.2" y2="106.9" stroke="#e84030" stroke-width="1.0"/><line x1="374.8" y1="92.2" x2="375.2" y2="93.8" stroke="#6cc040" stroke-width="1.0"/><line x1="379.5" y1="92.2" x2="380.1" y2="93.8" stroke="#e8c828" stroke-width="1.0"/><line x1="382.0" y1="92.2" x2="382.4" y2="93.8" stroke="#e8c828" stroke-width="1.0"/><line x1="380.8" y1="94.6" x2="381.2" y2="96.2" stroke="#6cc040" stroke-width="1.0"/><line x1="383.1" y1="94.7" x2="383.7" y2="96.1" stroke="#e8c828" stroke-width="1.0"/><line x1="374.6" y1="97.1" x2="375.4" y2="98.5" stroke="#e8c828" stroke-width="1.0"/><line x1="377.0" y1="97.1" x2="377.8" y2="98.5" stroke="#e8c828" stroke-width="1.0"/><line x1="379.5" y1="97.0" x2="380.1" y2="98.6" stroke="#6cc040" stroke-width="1.0"/><line x1="381.9" y1="97.1" x2="382.5" y2="98.5" stroke="#e8c828" stroke-width="1.0"/><line x1="384.3" y1="97.0" x2="384.9" y2="98.6" stroke="#6cc040" stroke-width="1.0"/><line x1="380.8" y1="99.4" x2="381.2" y2="101.0" stroke="#e8c828" stroke-width="1.0"/><line x1="383.1" y1="99.4" x2="383.7" y2="101.0" stroke="#e8c828" stroke-width="1.0"/><line x1="374.8" y1="101.8" x2="375.2" y2="103.4" stroke="#6cc040" stroke-width="1.0"/><line x1="377.0" y1="101.9" x2="377.8" y2="103.3" stroke="#6cc040" stroke-width="1.0"/><line x1="379.5" y1="101.9" x2="380.1" y2="103.3" stroke="#6cc040" stroke-width="1.0"/><line x1="382.0" y1="101.8" x2="382.4" y2="103.4" stroke="#e8c828" stroke-width="1.0"/><line x1="384.4" y1="101.8" x2="384.8" y2="103.4" stroke="#6cc040" stroke-width="1.0"/><line x1="378.2" y1="104.3" x2="379.0" y2="105.7" stroke="#6cc040" stroke-width="1.0"/><line x1="383.2" y1="104.2" x2="383.6" y2="105.8" stroke="#6cc040" stroke-width="1.0"/><line x1="374.8" y1="106.6" x2="375.2" y2="108.2" stroke="#6cc040" stroke-width="1.0"/><line x1="377.2" y1="106.6" x2="377.6" y2="108.2" stroke="#6cc040" stroke-width="1.0"/><line x1="379.6" y1="106.6" x2="380.0" y2="108.2" stroke="#e8c828" stroke-width="1.0"/><line x1="384.3" y1="106.6" x2="384.9" y2="108.2" stroke="#e8c828" stroke-width="1.0"/><line x1="375.9" y1="109.1" x2="376.5" y2="110.5" stroke="#e8c828" stroke-width="1.0"/><line x1="380.7" y1="109.0" x2="381.3" y2="110.6" stroke="#6cc040" stroke-width="1.0"/><line x1="387.8" y1="104.2" x2="388.2" y2="105.8" stroke="#e84030" stroke-width="1.0"/><line x1="392.4" y1="104.3" x2="393.2" y2="105.7" stroke="#e84030" stroke-width="1.0"/><line x1="388.8" y1="106.9" x2="389.6" y2="108.3" stroke="#e84030" stroke-width="1.0"/><line x1="391.3" y1="106.9" x2="391.9" y2="108.3" stroke="#f09028" stroke-width="1.0"/><line x1="393.7" y1="106.8" x2="394.3" y2="108.4" stroke="#f09028" stroke-width="1.0"/><line x1="390.1" y1="109.4" x2="390.7" y2="111.0" stroke="#f09028" stroke-width="1.0"/><line x1="392.5" y1="109.5" x2="393.1" y2="110.9" stroke="#e84030" stroke-width="1.0"/><line x1="388.9" y1="112.1" x2="389.5" y2="113.5" stroke="#e84030" stroke-width="1.0"/><line x1="391.3" y1="112.1" x2="391.9" y2="113.5" stroke="#f09028" stroke-width="1.0"/><line x1="393.7" y1="112.1" x2="394.3" y2="113.5" stroke="#e84030" stroke-width="1.0"/><line x1="387.6" y1="114.7" x2="388.4" y2="116.1" stroke="#f09028" stroke-width="1.0"/><line x1="392.5" y1="114.6" x2="393.1" y2="116.2" stroke="#f09028" stroke-width="1.0"/><line x1="393.7" y1="117.3" x2="394.3" y2="118.7" stroke="#f09028" stroke-width="1.0"/><line x1="406.9" y1="92.2" x2="407.1" y2="93.8" stroke="#6cc040" stroke-width="1.0"/><line x1="409.5" y1="92.2" x2="409.7" y2="93.8" stroke="#f09028" stroke-width="1.0"/><line x1="412.1" y1="92.2" x2="412.3" y2="93.8" stroke="#f09028" stroke-width="1.0"/><line x1="414.7" y1="92.2" x2="414.9" y2="93.8" stroke="#6cc040" stroke-width="1.0"/><line x1="417.3" y1="92.2" x2="417.5" y2="93.8" stroke="#e8c828" stroke-width="1.0"/><line x1="422.5" y1="92.2" x2="422.7" y2="93.8" stroke="#6cc040" stroke-width="1.0"/><line x1="430.2" y1="92.2" x2="430.6" y2="93.8" stroke="#6cc040" stroke-width="1.0"/><line x1="410.8" y1="94.8" x2="411.0" y2="96.4" stroke="#e8c828" stroke-width="1.0"/><line x1="413.3" y1="94.8" x2="413.7" y2="96.4" stroke="#f09028" stroke-width="1.0"/><line x1="421.1" y1="94.8" x2="421.5" y2="96.4" stroke="#f09028" stroke-width="1.0"/><line x1="423.7" y1="94.8" x2="424.1" y2="96.4" stroke="#f09028" stroke-width="1.0"/><line x1="426.3" y1="94.8" x2="426.7" y2="96.4" stroke="#f09028" stroke-width="1.0"/><line x1="428.9" y1="94.8" x2="429.3" y2="96.4" stroke="#e8c828" stroke-width="1.0"/><line x1="409.5" y1="97.4" x2="409.7" y2="99.0" stroke="#6cc040" stroke-width="1.0"/><line x1="412.0" y1="97.4" x2="412.4" y2="99.0" stroke="#f09028" stroke-width="1.0"/><line x1="414.7" y1="97.4" x2="414.9" y2="99.0" stroke="#f09028" stroke-width="1.0"/><line x1="417.1" y1="97.4" x2="417.7" y2="99.0" stroke="#e8c828" stroke-width="1.0"/><line x1="419.7" y1="97.4" x2="420.3" y2="99.0" stroke="#6cc040" stroke-width="1.0"/><line x1="422.4" y1="97.4" x2="422.8" y2="99.0" stroke="#6cc040" stroke-width="1.0"/><line x1="424.9" y1="97.5" x2="425.5" y2="98.9" stroke="#f09028" stroke-width="1.0"/><line x1="427.6" y1="97.4" x2="428.0" y2="99.0" stroke="#6cc040" stroke-width="1.0"/><line x1="430.1" y1="97.5" x2="430.7" y2="98.9" stroke="#e8c828" stroke-width="1.0"/><line x1="410.7" y1="100.0" x2="411.1" y2="101.6" stroke="#6cc040" stroke-width="1.0"/><line x1="413.2" y1="100.0" x2="413.8" y2="101.6" stroke="#f09028" stroke-width="1.0"/><line x1="415.9" y1="100.0" x2="416.3" y2="101.6" stroke="#6cc040" stroke-width="1.0"/><line x1="418.4" y1="100.1" x2="419.0" y2="101.5" stroke="#6cc040" stroke-width="1.0"/><line x1="421.1" y1="100.0" x2="421.5" y2="101.6" stroke="#f09028" stroke-width="1.0"/><line x1="426.2" y1="100.1" x2="426.8" y2="101.5" stroke="#e8c828" stroke-width="1.0"/><line x1="406.8" y1="102.6" x2="407.2" y2="104.2" stroke="#6cc040" stroke-width="1.0"/><line x1="409.3" y1="102.7" x2="409.9" y2="104.1" stroke="#6cc040" stroke-width="1.0"/><line x1="412.1" y1="102.6" x2="412.3" y2="104.2" stroke="#6cc040" stroke-width="1.0"/><line x1="414.6" y1="102.6" x2="415.0" y2="104.2" stroke="#f09028" stroke-width="1.0"/><line x1="417.1" y1="102.6" x2="417.7" y2="104.2" stroke="#f09028" stroke-width="1.0"/><line x1="419.8" y1="102.6" x2="420.2" y2="104.2" stroke="#f09028" stroke-width="1.0"/><line x1="422.4" y1="102.6" x2="422.8" y2="104.2" stroke="#e8c828" stroke-width="1.0"/><line x1="427.5" y1="102.6" x2="428.1" y2="104.2" stroke="#6cc040" stroke-width="1.0"/><line x1="408.1" y1="105.2" x2="408.5" y2="106.8" stroke="#f09028" stroke-width="1.0"/><line x1="410.8" y1="105.2" x2="411.0" y2="106.8" stroke="#f09028" stroke-width="1.0"/><line x1="418.6" y1="105.2" x2="418.8" y2="106.8" stroke="#6cc040" stroke-width="1.0"/><line x1="421.2" y1="105.2" x2="421.4" y2="106.8" stroke="#f09028" stroke-width="1.0"/><line x1="423.7" y1="105.2" x2="424.1" y2="106.8" stroke="#f09028" stroke-width="1.0"/><line x1="426.2" y1="105.3" x2="426.8" y2="106.7" stroke="#e8c828" stroke-width="1.0"/><line x1="428.9" y1="105.2" x2="429.3" y2="106.8" stroke="#6cc040" stroke-width="1.0"/><line x1="406.8" y1="107.8" x2="407.2" y2="109.4" stroke="#e8c828" stroke-width="1.0"/><line x1="409.5" y1="107.8" x2="409.7" y2="109.4" stroke="#f09028" stroke-width="1.0"/><line x1="412.0" y1="107.8" x2="412.4" y2="109.4" stroke="#e8c828" stroke-width="1.0"/><line x1="417.3" y1="107.8" x2="417.5" y2="109.4" stroke="#6cc040" stroke-width="1.0"/><line x1="422.5" y1="107.8" x2="422.7" y2="109.4" stroke="#f09028" stroke-width="1.0"/><line x1="424.9" y1="107.9" x2="425.5" y2="109.3" stroke="#6cc040" stroke-width="1.0"/><line x1="430.3" y1="107.8" x2="430.5" y2="109.4" stroke="#6cc040" stroke-width="1.0"/><line x1="408.1" y1="110.4" x2="408.5" y2="112.0" stroke="#f09028" stroke-width="1.0"/><line x1="410.7" y1="110.4" x2="411.1" y2="112.0" stroke="#f09028" stroke-width="1.0"/><line x1="415.9" y1="110.4" x2="416.3" y2="112.0" stroke="#6cc040" stroke-width="1.0"/><line x1="418.6" y1="110.4" x2="418.8" y2="112.0" stroke="#e8c828" stroke-width="1.0"/><line x1="429.0" y1="110.4" x2="429.2" y2="112.0" stroke="#e8c828" stroke-width="1.0"/><line x1="409.3" y1="113.1" x2="409.9" y2="114.5" stroke="#6cc040" stroke-width="1.0"/><line x1="412.0" y1="113.0" x2="412.4" y2="114.6" stroke="#e8c828" stroke-width="1.0"/><line x1="417.2" y1="113.0" x2="417.6" y2="114.6" stroke="#6cc040" stroke-width="1.0"/><line x1="419.8" y1="113.0" x2="420.2" y2="114.6" stroke="#e8c828" stroke-width="1.0"/><line x1="422.3" y1="113.1" x2="422.9" y2="114.5" stroke="#f09028" stroke-width="1.0"/><line x1="425.1" y1="113.0" x2="425.3" y2="114.6" stroke="#f09028" stroke-width="1.0"/><line x1="430.1" y1="113.1" x2="430.7" y2="114.5" stroke="#6cc040" stroke-width="1.0"/><line x1="408.0" y1="115.7" x2="408.6" y2="117.1" stroke="#6cc040" stroke-width="1.0"/><line x1="410.6" y1="115.6" x2="411.2" y2="117.2" stroke="#f09028" stroke-width="1.0"/><line x1="415.8" y1="115.6" x2="416.4" y2="117.2" stroke="#6cc040" stroke-width="1.0"/><line x1="421.1" y1="115.6" x2="421.5" y2="117.2" stroke="#f09028" stroke-width="1.0"/><line x1="426.3" y1="115.6" x2="426.7" y2="117.2" stroke="#f09028" stroke-width="1.0"/><line x1="428.8" y1="115.7" x2="429.4" y2="117.1" stroke="#f09028" stroke-width="1.0"/><line x1="409.4" y1="118.2" x2="409.8" y2="119.8" stroke="#6cc040" stroke-width="1.0"/><line x1="414.6" y1="118.2" x2="415.0" y2="119.8" stroke="#f09028" stroke-width="1.0"/><line x1="417.1" y1="118.2" x2="417.7" y2="119.8" stroke="#6cc040" stroke-width="1.0"/><line x1="424.9" y1="118.3" x2="425.5" y2="119.7" stroke="#e8c828" stroke-width="1.0"/><line x1="430.3" y1="118.2" x2="430.5" y2="119.8" stroke="#6cc040" stroke-width="1.0"/><line x1="408.1" y1="120.8" x2="408.5" y2="122.4" stroke="#e8c828" stroke-width="1.0"/><line x1="410.7" y1="120.8" x2="411.1" y2="122.4" stroke="#6cc040" stroke-width="1.0"/><line x1="413.4" y1="120.8" x2="413.6" y2="122.4" stroke="#6cc040" stroke-width="1.0"/><line x1="416.0" y1="120.8" x2="416.2" y2="122.4" stroke="#e8c828" stroke-width="1.0"/><line x1="421.1" y1="120.8" x2="421.5" y2="122.4" stroke="#6cc040" stroke-width="1.0"/><line x1="423.7" y1="120.8" x2="424.1" y2="122.4" stroke="#6cc040" stroke-width="1.0"/><line x1="406.8" y1="123.4" x2="407.2" y2="125.0" stroke="#6cc040" stroke-width="1.0"/><line x1="409.4" y1="123.4" x2="409.8" y2="125.0" stroke="#6cc040" stroke-width="1.0"/><line x1="411.9" y1="123.5" x2="412.5" y2="124.9" stroke="#e8c828" stroke-width="1.0"/><line x1="414.6" y1="123.4" x2="415.0" y2="125.0" stroke="#6cc040" stroke-width="1.0"/><line x1="419.9" y1="123.4" x2="420.1" y2="125.0" stroke="#f09028" stroke-width="1.0"/><line x1="427.5" y1="123.4" x2="428.1" y2="125.0" stroke="#f09028" stroke-width="1.0"/><line x1="430.2" y1="123.4" x2="430.6" y2="125.0" stroke="#e8c828" stroke-width="1.0"/><line x1="407.9" y1="97.3" x2="408.1" y2="98.7" stroke="#3a50d8" stroke-width="1.0"/><line x1="410.3" y1="97.3" x2="410.5" y2="98.7" stroke="#3a50d8" stroke-width="1.0"/><line x1="412.6" y1="97.3" x2="413.0" y2="98.7" stroke="#3a50d8" stroke-width="1.0"/><line x1="409.0" y1="99.7" x2="409.4" y2="101.1" stroke="#3a50d8" stroke-width="1.0"/><line x1="411.4" y1="99.7" x2="411.8" y2="101.1" stroke="#3a50d8" stroke-width="1.0"/><line x1="413.8" y1="99.7" x2="414.2" y2="101.1" stroke="#3a50d8" stroke-width="1.0"/><line x1="407.8" y1="102.1" x2="408.2" y2="103.5" stroke="#3a50d8" stroke-width="1.0"/><line x1="410.2" y1="102.1" x2="410.6" y2="103.5" stroke="#3a50d8" stroke-width="1.0"/><line x1="412.7" y1="102.1" x2="412.9" y2="103.5" stroke="#3a50d8" stroke-width="1.0"/><line x1="411.4" y1="104.5" x2="411.8" y2="105.9" stroke="#3a50d8" stroke-width="1.0"/><line x1="413.9" y1="104.5" x2="414.1" y2="105.9" stroke="#3a50d8" stroke-width="1.0"/><line x1="407.8" y1="106.9" x2="408.2" y2="108.3" stroke="#3a50d8" stroke-width="1.0"/><line x1="410.3" y1="106.9" x2="410.5" y2="108.3" stroke="#3a50d8" stroke-width="1.0"/><line x1="412.6" y1="106.9" x2="413.0" y2="108.3" stroke="#3a50d8" stroke-width="1.0"/><line x1="411.5" y1="109.3" x2="411.7" y2="110.7" stroke="#3a50d8" stroke-width="1.0"/><line x1="413.9" y1="109.3" x2="414.1" y2="110.7" stroke="#3a50d8" stroke-width="1.0"/><line x1="327.8" y1="149.2" x2="328.2" y2="150.8" stroke="#6cc040" stroke-width="1.0"/><line x1="330.5" y1="149.2" x2="330.7" y2="150.8" stroke="#6cc040" stroke-width="1.0"/><line x1="333.1" y1="149.2" x2="333.3" y2="150.8" stroke="#6cc040" stroke-width="1.0"/><line x1="338.2" y1="149.2" x2="338.6" y2="150.8" stroke="#6cc040" stroke-width="1.0"/><line x1="340.8" y1="149.2" x2="341.2" y2="150.8" stroke="#6cc040" stroke-width="1.0"/><line x1="334.3" y1="151.8" x2="334.7" y2="153.4" stroke="#6cc040" stroke-width="1.0"/><line x1="336.9" y1="151.8" x2="337.3" y2="153.4" stroke="#6cc040" stroke-width="1.0"/><line x1="339.6" y1="151.8" x2="339.8" y2="153.4" stroke="#6cc040" stroke-width="1.0"/><line x1="330.5" y1="154.4" x2="330.7" y2="156.0" stroke="#6cc040" stroke-width="1.0"/><line x1="333.2" y1="154.4" x2="333.2" y2="156.0" stroke="#6cc040" stroke-width="1.0"/><line x1="338.3" y1="154.4" x2="338.5" y2="156.0" stroke="#6cc040" stroke-width="1.0"/><line x1="340.8" y1="154.4" x2="341.2" y2="156.0" stroke="#6cc040" stroke-width="1.0"/><line x1="334.3" y1="157.0" x2="334.7" y2="158.6" stroke="#6cc040" stroke-width="1.0"/><line x1="330.4" y1="159.6" x2="330.8" y2="161.2" stroke="#6cc040" stroke-width="1.0"/><line x1="335.7" y1="159.6" x2="335.9" y2="161.2" stroke="#6cc040" stroke-width="1.0"/><line x1="338.3" y1="159.6" x2="338.5" y2="161.2" stroke="#6cc040" stroke-width="1.0"/><line x1="432.5" y1="104.4" x2="433.5" y2="105.6" stroke="#e84030" stroke-width="1.0"/><line x1="441.5" y1="104.4" x2="442.5" y2="105.6" stroke="#f09028" stroke-width="1.0"/><line x1="434.0" y1="107.0" x2="435.0" y2="108.2" stroke="#e84030" stroke-width="1.0"/><line x1="437.1" y1="106.9" x2="437.9" y2="108.3" stroke="#f09028" stroke-width="1.0"/><line x1="440.0" y1="107.0" x2="441.0" y2="108.2" stroke="#f09028" stroke-width="1.0"/><line x1="446.0" y1="107.0" x2="447.0" y2="108.2" stroke="#e84030" stroke-width="1.0"/><line x1="449.1" y1="106.9" x2="449.9" y2="108.3" stroke="#f09028" stroke-width="1.0"/><line x1="432.5" y1="109.6" x2="433.5" y2="110.8" stroke="#e84030" stroke-width="1.0"/><line x1="435.5" y1="109.5" x2="436.5" y2="110.9" stroke="#f09028" stroke-width="1.0"/><line x1="444.5" y1="109.5" x2="445.5" y2="110.9" stroke="#f09028" stroke-width="1.0"/><line x1="447.6" y1="109.5" x2="448.4" y2="110.9" stroke="#e84030" stroke-width="1.0"/><line x1="437.0" y1="112.2" x2="438.0" y2="113.4" stroke="#f09028" stroke-width="1.0"/><line x1="443.0" y1="112.1" x2="444.0" y2="113.5" stroke="#e84030" stroke-width="1.0"/><line x1="435.5" y1="114.8" x2="436.5" y2="116.0" stroke="#e84030" stroke-width="1.0"/><line x1="438.6" y1="114.7" x2="439.4" y2="116.1" stroke="#e84030" stroke-width="1.0"/><line x1="441.5" y1="114.8" x2="442.5" y2="116.0" stroke="#f09028" stroke-width="1.0"/><line x1="447.5" y1="114.8" x2="448.5" y2="116.0" stroke="#e84030" stroke-width="1.0"/><line x1="434.1" y1="117.3" x2="434.9" y2="118.7" stroke="#e84030" stroke-width="1.0"/><line x1="437.0" y1="117.4" x2="438.0" y2="118.6" stroke="#e84030" stroke-width="1.0"/><line x1="440.1" y1="117.3" x2="440.9" y2="118.7" stroke="#f09028" stroke-width="1.0"/><line x1="443.0" y1="117.4" x2="444.0" y2="118.6" stroke="#f09028" stroke-width="1.0"/><line x1="446.0" y1="117.4" x2="447.0" y2="118.6" stroke="#e84030" stroke-width="1.0"/><line x1="432.6" y1="119.9" x2="433.4" y2="121.3" stroke="#f09028" stroke-width="1.0"/><line x1="438.5" y1="120.0" x2="439.5" y2="121.2" stroke="#e84030" stroke-width="1.0"/><line x1="444.6" y1="119.9" x2="445.4" y2="121.3" stroke="#e84030" stroke-width="1.0"/><line x1="434.0" y1="122.6" x2="435.0" y2="123.8" stroke="#e84030" stroke-width="1.0"/><line x1="437.0" y1="122.6" x2="438.0" y2="123.8" stroke="#f09028" stroke-width="1.0"/><line x1="443.1" y1="122.5" x2="443.9" y2="123.9" stroke="#f09028" stroke-width="1.0"/><line x1="446.0" y1="122.5" x2="447.0" y2="123.9" stroke="#e84030" stroke-width="1.0"/><line x1="449.1" y1="122.5" x2="449.9" y2="123.9" stroke="#e84030" stroke-width="1.0"/><line x1="432.5" y1="125.2" x2="433.5" y2="126.4" stroke="#e84030" stroke-width="1.0"/><line x1="435.5" y1="125.2" x2="436.5" y2="126.4" stroke="#e84030" stroke-width="1.0"/><line x1="438.5" y1="125.2" x2="439.5" y2="126.4" stroke="#e84030" stroke-width="1.0"/><line x1="441.5" y1="125.2" x2="442.5" y2="126.4" stroke="#e84030" stroke-width="1.0"/><line x1="434.0" y1="127.7" x2="435.0" y2="129.1" stroke="#f09028" stroke-width="1.0"/><line x1="440.0" y1="127.7" x2="441.0" y2="129.1" stroke="#e84030" stroke-width="1.0"/><line x1="443.1" y1="127.7" x2="443.9" y2="129.1" stroke="#f09028" stroke-width="1.0"/><line x1="446.0" y1="127.8" x2="447.0" y2="129.0" stroke="#f09028" stroke-width="1.0"/><line x1="432.6" y1="130.3" x2="433.4" y2="131.7" stroke="#f09028" stroke-width="1.0"/><line x1="438.5" y1="130.4" x2="439.5" y2="131.6" stroke="#e84030" stroke-width="1.0"/><line x1="441.6" y1="130.3" x2="442.4" y2="131.7" stroke="#e84030" stroke-width="1.0"/><line x1="444.6" y1="130.3" x2="445.4" y2="131.7" stroke="#e84030" stroke-width="1.0"/><line x1="447.6" y1="130.3" x2="448.4" y2="131.7" stroke="#e84030" stroke-width="1.0"/><line x1="440.0" y1="133.0" x2="441.0" y2="134.2" stroke="#f09028" stroke-width="1.0"/><line x1="446.1" y1="132.9" x2="446.9" y2="134.3" stroke="#e84030" stroke-width="1.0"/><line x1="449.1" y1="132.9" x2="449.9" y2="134.3" stroke="#f09028" stroke-width="1.0"/><line x1="432.5" y1="135.6" x2="433.5" y2="136.8" stroke="#e84030" stroke-width="1.0"/><line x1="435.6" y1="135.5" x2="436.4" y2="136.9" stroke="#e84030" stroke-width="1.0"/><line x1="438.5" y1="135.6" x2="439.5" y2="136.8" stroke="#e84030" stroke-width="1.0"/><line x1="441.5" y1="135.6" x2="442.5" y2="136.8" stroke="#e84030" stroke-width="1.0"/><line x1="447.5" y1="135.6" x2="448.5" y2="136.8" stroke="#e84030" stroke-width="1.0"/><line x1="443.0" y1="138.1" x2="444.0" y2="139.5" stroke="#f09028" stroke-width="1.0"/><line x1="449.1" y1="138.1" x2="449.9" y2="139.5" stroke="#f09028" stroke-width="1.0"/><line x1="432.6" y1="140.7" x2="433.4" y2="142.1" stroke="#e84030" stroke-width="1.0"/><line x1="435.5" y1="140.8" x2="436.5" y2="142.0" stroke="#f09028" stroke-width="1.0"/><line x1="438.5" y1="140.8" x2="439.5" y2="142.0" stroke="#e84030" stroke-width="1.0"/><line x1="441.5" y1="140.8" x2="442.5" y2="142.0" stroke="#e84030" stroke-width="1.0"/><line x1="434.1" y1="143.3" x2="434.9" y2="144.7" stroke="#e84030" stroke-width="1.0"/><line x1="437.0" y1="143.4" x2="438.0" y2="144.6" stroke="#f09028" stroke-width="1.0"/><line x1="440.0" y1="143.4" x2="441.0" y2="144.6" stroke="#f09028" stroke-width="1.0"/><line x1="443.0" y1="143.4" x2="444.0" y2="144.6" stroke="#e84030" stroke-width="1.0"/><line x1="435.5" y1="146.0" x2="436.5" y2="147.2" stroke="#e84030" stroke-width="1.0"/><line x1="447.5" y1="146.0" x2="448.5" y2="147.2" stroke="#f09028" stroke-width="1.0"/><line x1="434.1" y1="148.5" x2="434.9" y2="149.9" stroke="#e84030" stroke-width="1.0"/><line x1="437.0" y1="148.6" x2="438.0" y2="149.8" stroke="#e84030" stroke-width="1.0"/><line x1="443.0" y1="148.6" x2="444.0" y2="149.8" stroke="#f09028" stroke-width="1.0"/><line x1="449.0" y1="148.6" x2="450.0" y2="149.8" stroke="#f09028" stroke-width="1.0"/><line x1="456.4" y1="115.7" x2="457.6" y2="116.3" stroke="#3a50d8" stroke-width="1.0"/><line x1="461.1" y1="115.8" x2="462.5" y2="116.2" stroke="#6cc040" stroke-width="1.0"/><line x1="463.6" y1="115.7" x2="464.8" y2="116.3" stroke="#3a50d8" stroke-width="1.0"/><line x1="465.9" y1="115.8" x2="467.3" y2="116.2" stroke="#3a50d8" stroke-width="1.0"/><line x1="468.4" y1="115.7" x2="469.6" y2="116.3" stroke="#3a50d8" stroke-width="1.0"/><line x1="470.8" y1="115.7" x2="472.0" y2="116.3" stroke="#6cc040" stroke-width="1.0"/><line x1="473.1" y1="115.8" x2="474.5" y2="116.2" stroke="#3a50d8" stroke-width="1.0"/><line x1="457.6" y1="118.1" x2="458.8" y2="118.7" stroke="#6cc040" stroke-width="1.0"/><line x1="462.4" y1="118.1" x2="463.6" y2="118.7" stroke="#6cc040" stroke-width="1.0"/><line x1="464.7" y1="118.2" x2="466.1" y2="118.6" stroke="#3a50d8" stroke-width="1.0"/><line x1="469.5" y1="118.2" x2="470.9" y2="118.6" stroke="#3a50d8" stroke-width="1.0"/><line x1="471.9" y1="118.1" x2="473.3" y2="118.7" stroke="#3a50d8" stroke-width="1.0"/><line x1="474.3" y1="118.2" x2="475.7" y2="118.6" stroke="#3a50d8" stroke-width="1.0"/><line x1="456.3" y1="120.6" x2="457.7" y2="121.0" stroke="#3a50d8" stroke-width="1.0"/><line x1="458.8" y1="120.5" x2="460.0" y2="121.1" stroke="#6cc040" stroke-width="1.0"/><line x1="461.1" y1="120.6" x2="462.5" y2="121.0" stroke="#3a50d8" stroke-width="1.0"/><line x1="463.5" y1="120.6" x2="464.9" y2="121.0" stroke="#6cc040" stroke-width="1.0"/><line x1="466.0" y1="120.5" x2="467.2" y2="121.1" stroke="#3a50d8" stroke-width="1.0"/><line x1="468.3" y1="120.6" x2="469.7" y2="121.0" stroke="#6cc040" stroke-width="1.0"/><line x1="473.2" y1="120.5" x2="474.4" y2="121.1" stroke="#3a50d8" stroke-width="1.0"/><line x1="457.6" y1="122.9" x2="458.8" y2="123.5" stroke="#6cc040" stroke-width="1.0"/><line x1="459.9" y1="122.9" x2="461.3" y2="123.5" stroke="#6cc040" stroke-width="1.0"/><line x1="462.3" y1="123.0" x2="463.7" y2="123.4" stroke="#3a50d8" stroke-width="1.0"/><line x1="464.8" y1="122.9" x2="466.0" y2="123.5" stroke="#6cc040" stroke-width="1.0"/><line x1="467.1" y1="123.0" x2="468.5" y2="123.4" stroke="#6cc040" stroke-width="1.0"/><line x1="469.6" y1="122.9" x2="470.8" y2="123.5" stroke="#3a50d8" stroke-width="1.0"/><line x1="472.0" y1="122.9" x2="473.2" y2="123.5" stroke="#6cc040" stroke-width="1.0"/><line x1="474.4" y1="122.9" x2="475.6" y2="123.5" stroke="#6cc040" stroke-width="1.0"/><line x1="456.4" y1="125.3" x2="457.6" y2="125.9" stroke="#6cc040" stroke-width="1.0"/><line x1="458.7" y1="125.4" x2="460.1" y2="125.8" stroke="#3a50d8" stroke-width="1.0"/><line x1="461.2" y1="125.3" x2="462.4" y2="125.9" stroke="#6cc040" stroke-width="1.0"/><line x1="463.5" y1="125.4" x2="464.9" y2="125.8" stroke="#3a50d8" stroke-width="1.0"/><line x1="465.9" y1="125.4" x2="467.3" y2="125.8" stroke="#6cc040" stroke-width="1.0"/><line x1="468.4" y1="125.3" x2="469.6" y2="125.9" stroke="#3a50d8" stroke-width="1.0"/><line x1="470.7" y1="125.4" x2="472.1" y2="125.8" stroke="#3a50d8" stroke-width="1.0"/><line x1="473.2" y1="125.3" x2="474.4" y2="125.9" stroke="#6cc040" stroke-width="1.0"/><line x1="460.0" y1="127.7" x2="461.2" y2="128.3" stroke="#3a50d8" stroke-width="1.0"/><line x1="462.3" y1="127.8" x2="463.7" y2="128.2" stroke="#3a50d8" stroke-width="1.0"/><line x1="469.5" y1="127.8" x2="470.9" y2="128.2" stroke="#6cc040" stroke-width="1.0"/><line x1="471.9" y1="127.8" x2="473.3" y2="128.2" stroke="#6cc040" stroke-width="1.0"/><line x1="474.4" y1="127.7" x2="475.6" y2="128.3" stroke="#6cc040" stroke-width="1.0"/><line x1="489.4" y1="209.7" x2="490.6" y2="210.3" stroke="#3a50d8" stroke-width="1.0"/><line x1="492.0" y1="209.7" x2="493.2" y2="210.3" stroke="#3a50d8" stroke-width="1.0"/><line x1="494.5" y1="209.7" x2="495.9" y2="210.3" stroke="#3a50d8" stroke-width="1.0"/><line x1="497.1" y1="209.8" x2="498.5" y2="210.2" stroke="#3a50d8" stroke-width="1.0"/><line x1="499.7" y1="209.7" x2="501.1" y2="210.3" stroke="#3a50d8" stroke-width="1.0"/><line x1="502.3" y1="209.8" x2="503.7" y2="210.2" stroke="#3a50d8" stroke-width="1.0"/><line x1="505.0" y1="209.7" x2="506.2" y2="210.3" stroke="#3a50d8" stroke-width="1.0"/><line x1="507.5" y1="209.8" x2="508.9" y2="210.2" stroke="#3a50d8" stroke-width="1.0"/><line x1="510.1" y1="209.8" x2="511.5" y2="210.2" stroke="#3a50d8" stroke-width="1.0"/><line x1="490.7" y1="212.3" x2="491.9" y2="212.9" stroke="#3a50d8" stroke-width="1.0"/><line x1="493.3" y1="212.3" x2="494.5" y2="212.9" stroke="#3a50d8" stroke-width="1.0"/><line x1="495.8" y1="212.4" x2="497.2" y2="212.8" stroke="#3a50d8" stroke-width="1.0"/><line x1="498.4" y1="212.3" x2="499.8" y2="212.9" stroke="#3a50d8" stroke-width="1.0"/><line x1="501.1" y1="212.3" x2="502.3" y2="212.9" stroke="#3a50d8" stroke-width="1.0"/><line x1="503.7" y1="212.3" x2="504.9" y2="212.9" stroke="#3a50d8" stroke-width="1.0"/><line x1="508.9" y1="212.3" x2="510.1" y2="212.9" stroke="#3a50d8" stroke-width="1.0"/><line x1="489.3" y1="215.0" x2="490.7" y2="215.4" stroke="#3a50d8" stroke-width="1.0"/><line x1="491.9" y1="214.9" x2="493.3" y2="215.5" stroke="#3a50d8" stroke-width="1.0"/><line x1="494.5" y1="215.0" x2="495.9" y2="215.4" stroke="#3a50d8" stroke-width="1.0"/><line x1="497.2" y1="214.9" x2="498.4" y2="215.5" stroke="#3a50d8" stroke-width="1.0"/><line x1="502.4" y1="214.9" x2="503.6" y2="215.5" stroke="#3a50d8" stroke-width="1.0"/><line x1="507.5" y1="215.0" x2="508.9" y2="215.4" stroke="#3a50d8" stroke-width="1.0"/><line x1="493.2" y1="217.6" x2="494.6" y2="218.0" stroke="#3a50d8" stroke-width="1.0"/><line x1="498.4" y1="217.6" x2="499.8" y2="218.0" stroke="#3a50d8" stroke-width="1.0"/><line x1="501.1" y1="217.5" x2="502.3" y2="218.1" stroke="#3a50d8" stroke-width="1.0"/><line x1="503.6" y1="217.6" x2="505.0" y2="218.0" stroke="#3a50d8" stroke-width="1.0"/><line x1="508.8" y1="217.6" x2="510.2" y2="218.0" stroke="#3a50d8" stroke-width="1.0"/><line x1="489.3" y1="220.2" x2="490.7" y2="220.6" stroke="#3a50d8" stroke-width="1.0"/><line x1="491.9" y1="220.1" x2="493.3" y2="220.7" stroke="#3a50d8" stroke-width="1.0"/><line x1="494.5" y1="220.2" x2="495.9" y2="220.6" stroke="#3a50d8" stroke-width="1.0"/><line x1="502.4" y1="220.1" x2="503.6" y2="220.7" stroke="#3a50d8" stroke-width="1.0"/><line x1="505.0" y1="220.1" x2="506.2" y2="220.7" stroke="#3a50d8" stroke-width="1.0"/><line x1="507.5" y1="220.2" x2="508.9" y2="220.6" stroke="#3a50d8" stroke-width="1.0"/><line x1="510.2" y1="220.1" x2="511.4" y2="220.7" stroke="#3a50d8" stroke-width="1.0"/><line x1="411.6" y1="42.0" x2="412.4" y2="42.0" stroke="#b0b0b0" stroke-width="1.0"/><line x1="414.6" y1="42.0" x2="415.4" y2="42.0" stroke="#b0b0b0" stroke-width="1.0"/><line x1="420.6" y1="42.0" x2="421.4" y2="42.0" stroke="#b0b0b0" stroke-width="1.0"/><line x1="423.6" y1="42.0" x2="424.4" y2="42.0" stroke="#b0b0b0" stroke-width="1.0"/><line x1="429.6" y1="42.0" x2="430.4" y2="42.0" stroke="#b0b0b0" stroke-width="1.0"/><line x1="435.6" y1="42.0" x2="436.4" y2="42.0" stroke="#b0b0b0" stroke-width="1.0"/><line x1="438.6" y1="42.0" x2="439.4" y2="42.0" stroke="#b0b0b0" stroke-width="1.0"/><line x1="447.6" y1="42.1" x2="448.4" y2="41.9" stroke="#b0b0b0" stroke-width="1.0"/><line x1="453.6" y1="42.0" x2="454.4" y2="42.0" stroke="#b0b0b0" stroke-width="1.0"/><line x1="456.6" y1="42.1" x2="457.4" y2="41.9" stroke="#b0b0b0" stroke-width="1.0"/><line x1="431.1" y1="45.0" x2="431.9" y2="45.0" stroke="#b0b0b0" stroke-width="1.0"/><line x1="440.1" y1="44.9" x2="440.9" y2="45.1" stroke="#b0b0b0" stroke-width="1.0"/><line x1="458.1" y1="45.0" x2="458.9" y2="45.0" stroke="#b0b0b0" stroke-width="1.0"/><line x1="461.1" y1="44.9" x2="461.9" y2="45.1" stroke="#b0b0b0" stroke-width="1.0"/><line x1="411.6" y1="48.0" x2="412.4" y2="48.0" stroke="#b0b0b0" stroke-width="1.0"/><line x1="414.6" y1="48.0" x2="415.4" y2="48.0" stroke="#b0b0b0" stroke-width="1.0"/><line x1="420.6" y1="48.0" x2="421.4" y2="48.0" stroke="#b0b0b0" stroke-width="1.0"/><line x1="429.6" y1="48.0" x2="430.4" y2="48.0" stroke="#b0b0b0" stroke-width="1.0"/><line x1="432.6" y1="48.0" x2="433.4" y2="48.0" stroke="#b0b0b0" stroke-width="1.0"/><line x1="435.6" y1="48.0" x2="436.4" y2="48.0" stroke="#b0b0b0" stroke-width="1.0"/><line x1="450.6" y1="47.9" x2="451.4" y2="48.1" stroke="#b0b0b0" stroke-width="1.0"/><line x1="453.6" y1="47.9" x2="454.4" y2="48.1" stroke="#b0b0b0" stroke-width="1.0"/><line x1="413.1" y1="51.1" x2="413.9" y2="50.9" stroke="#b0b0b0" stroke-width="1.0"/><line x1="419.1" y1="51.0" x2="419.9" y2="51.0" stroke="#b0b0b0" stroke-width="1.0"/><line x1="425.1" y1="51.0" x2="425.9" y2="51.0" stroke="#b0b0b0" stroke-width="1.0"/><line x1="428.1" y1="51.1" x2="428.9" y2="50.9" stroke="#b0b0b0" stroke-width="1.0"/><line x1="431.1" y1="50.9" x2="431.9" y2="51.1" stroke="#b0b0b0" stroke-width="1.0"/><line x1="434.1" y1="51.0" x2="434.9" y2="51.0" stroke="#b0b0b0" stroke-width="1.0"/><line x1="443.1" y1="51.0" x2="443.9" y2="51.0" stroke="#b0b0b0" stroke-width="1.0"/><line x1="446.1" y1="51.0" x2="446.9" y2="51.0" stroke="#b0b0b0" stroke-width="1.0"/><line x1="458.1" y1="51.0" x2="458.9" y2="51.0" stroke="#b0b0b0" stroke-width="1.0"/><line x1="461.1" y1="50.9" x2="461.9" y2="51.1" stroke="#b0b0b0" stroke-width="1.0"/><line x1="469.4" y1="229.7" x2="470.6" y2="230.3" stroke="#3a50d8" stroke-width="1.0"/><line x1="471.9" y1="229.8" x2="473.3" y2="230.2" stroke="#3a50d8" stroke-width="1.0"/><line x1="474.5" y1="229.8" x2="475.9" y2="230.2" stroke="#3a50d8" stroke-width="1.0"/><line x1="477.1" y1="229.8" x2="478.5" y2="230.2" stroke="#3a50d8" stroke-width="1.0"/><line x1="479.8" y1="229.7" x2="481.0" y2="230.3" stroke="#3a50d8" stroke-width="1.0"/><line x1="482.3" y1="229.8" x2="483.7" y2="230.2" stroke="#3a50d8" stroke-width="1.0"/><line x1="487.5" y1="229.7" x2="488.9" y2="230.3" stroke="#3a50d8" stroke-width="1.0"/><line x1="470.6" y1="232.4" x2="472.0" y2="232.8" stroke="#3a50d8" stroke-width="1.0"/><line x1="473.2" y1="232.4" x2="474.6" y2="232.8" stroke="#3a50d8" stroke-width="1.0"/><line x1="475.8" y1="232.4" x2="477.2" y2="232.8" stroke="#3a50d8" stroke-width="1.0"/><line x1="481.1" y1="232.3" x2="482.3" y2="232.9" stroke="#3a50d8" stroke-width="1.0"/><line x1="469.4" y1="234.9" x2="470.6" y2="235.5" stroke="#3a50d8" stroke-width="1.0"/><line x1="474.5" y1="235.0" x2="475.9" y2="235.4" stroke="#3a50d8" stroke-width="1.0"/><line x1="482.3" y1="235.0" x2="483.7" y2="235.4" stroke="#3a50d8" stroke-width="1.0"/><line x1="485.0" y1="234.9" x2="486.2" y2="235.5" stroke="#3a50d8" stroke-width="1.0"/><line x1="487.5" y1="235.0" x2="488.9" y2="235.4" stroke="#3a50d8" stroke-width="1.0"/><line x1="475.8" y1="237.6" x2="477.2" y2="238.0" stroke="#3a50d8" stroke-width="1.0"/><line x1="483.7" y1="237.5" x2="484.9" y2="238.1" stroke="#3a50d8" stroke-width="1.0"/></g>
</g>
<rect x="296" y="7" width="246" height="246" fill="none" stroke="#a8a8a8" stroke-width="0.9"/>
<text x="204.0" y="35.0" font-size="6.8" fill="none" textLength="30.0" lengthAdjust="spacingAndGlyphs" stroke="#cacaca" stroke-width="0.45">FHW  FHE</text><text x="238.4" y="78.6" font-size="6.8" fill="none" textLength="31.0" lengthAdjust="spacingAndGlyphs" stroke="#cacaca" stroke-width="0.45">CVW  CVE</text><text x="204.8" y="137.4" font-size="6.0" fill="none" textLength="10.5" lengthAdjust="spacingAndGlyphs" stroke="#cacaca" stroke-width="0.45">INV</text><text x="173.5" y="92.2" font-size="6.0" fill="none" textLength="12.0" lengthAdjust="spacingAndGlyphs" stroke="#cacaca" stroke-width="0.45">RKN</text><text x="30.0" y="231.0" font-size="6.8" fill="none" textLength="13.5" lengthAdjust="spacingAndGlyphs" stroke="#cacaca" stroke-width="0.45">HKW</text><text x="30.0" y="237.3" font-size="6.8" fill="none" textLength="13.5" lengthAdjust="spacingAndGlyphs" stroke="#cacaca" stroke-width="0.45">HOK</text><text x="162.5" y="46.8" font-size="5.4" fill="none" textLength="10.0" lengthAdjust="spacingAndGlyphs" stroke="#cacaca" stroke-width="0.45">KAP</text><text transform="translate(264.0,122.6) rotate(90)" font-size="5.8" fill="#333" text-anchor="middle">50°</text><path d="M163.7,37.400000000000006 L165.5,39.2 L163.7,41.0 L161.89999999999998,39.2Z" fill="#c8c8c8"/><path d="M255,66.60000000000001 L256.8,68.4 L255,70.2 L253.2,68.4Z" fill="#c8c8c8"/><path d="M72.3,100.5 L74.1,102.3 L72.3,104.1 L70.5,102.3Z" fill="#c8c8c8"/><path d="M50,148.2 L51.8,150 L50,151.8 L48.2,150Z" fill="#c8c8c8"/><path d="M213,212.2 L214.8,214 L213,215.8 L211.2,214Z" fill="#c8c8c8"/><path d="M219,23.2 L220.8,25 L219,26.8 L217.2,25Z" fill="#c8c8c8"/>
<text x="428.6" y="48.6" font-size="5.6" fill="none" textLength="12.2" lengthAdjust="spacingAndGlyphs" stroke="#cacaca" stroke-width="0.45">KAP</text><text x="506.0" y="69.0" font-size="6.8" fill="none" textLength="31.0" lengthAdjust="spacingAndGlyphs" stroke="#cacaca" stroke-width="0.45">CVW  CVE</text><text x="477.6" y="130.4" font-size="6.0" fill="none" textLength="10.2" lengthAdjust="spacingAndGlyphs" stroke="#cacaca" stroke-width="0.45">INV</text><text x="330.0" y="113.6" font-size="7.2" fill="none" textLength="13.4" lengthAdjust="spacingAndGlyphs" stroke="#cacaca" stroke-width="0.45">STO</text><text x="303.5" y="231.0" font-size="6.8" fill="none" textLength="13.5" lengthAdjust="spacingAndGlyphs" stroke="#cacaca" stroke-width="0.45">HKW</text><text x="303.5" y="237.3" font-size="6.8" fill="none" textLength="13.5" lengthAdjust="spacingAndGlyphs" stroke="#cacaca" stroke-width="0.45">HOK</text><text x="455.0" y="102.0" font-size="5.4" fill="none" textLength="10.0" lengthAdjust="spacingAndGlyphs" stroke="#cacaca" stroke-width="0.45">RKN</text><text x="481.0" y="27.0" font-size="6.6" fill="none" textLength="15.5" lengthAdjust="spacingAndGlyphs" stroke="#cacaca" stroke-width="0.45">FHE</text><text transform="translate(537.6,122.6) rotate(90)" font-size="5.8" fill="#333" text-anchor="middle">50°</text><path d="M426.5,35.6 L428.3,37.4 L426.5,39.199999999999996 L424.7,37.4Z" fill="#c8c8c8"/><path d="M475.6,58.800000000000004 L477.40000000000003,60.6 L475.6,62.4 L473.8,60.6Z" fill="#c8c8c8"/><path d="M405.3,96.60000000000001 L407.1,98.4 L405.3,100.2 L403.5,98.4Z" fill="#c8c8c8"/><path d="M343.4,101.60000000000001 L345.2,103.4 L343.4,105.2 L341.59999999999997,103.4Z" fill="#c8c8c8"/><path d="M470,138.2 L471.8,140 L470,141.8 L468.2,140Z" fill="#c8c8c8"/><path d="M480.4,16.0 L482.2,17.8 L480.4,19.6 L478.59999999999997,17.8Z" fill="#c8c8c8"/>
<text x="129.6" y="64.2" font-size="9.4" fill="#3a3ad0" text-anchor="middle" stroke="#e7e7f8" stroke-width="2.2" paint-order="stroke" stroke-linejoin="round">-9</text><text transform="translate(81.6,96.5) rotate(-78)" font-size="7.6" fill="#3a3ad0" text-anchor="middle" stroke="#c0c0f1" stroke-width="2.2" paint-order="stroke" stroke-linejoin="round">-21</text><text transform="translate(100.6,197.4) rotate(-10)" font-size="9.4" fill="#3a3ad0" text-anchor="middle" stroke="#e7e7f8" stroke-width="2.2" paint-order="stroke" stroke-linejoin="round">-9</text><text x="99.0" y="217.6" font-size="8.6" fill="#dd4444" text-anchor="middle" stroke="#f8e2e2" stroke-width="2.2" paint-order="stroke" stroke-linejoin="round">3</text><text x="187.6" y="201.6" font-size="8.6" fill="#dd4444" text-anchor="middle" stroke="#f4cdcd" stroke-width="2.2" paint-order="stroke" stroke-linejoin="round">15</text><text x="204.2" y="94.6" font-size="9.4" fill="#dd4444" text-anchor="middle" stroke="#f0adad" stroke-width="2.2" paint-order="stroke" stroke-linejoin="round">15</text><path d="M183,89 L186,92 M186,89 L183,92" stroke="#222" stroke-width="0.8"/><text x="217.0" y="203.4" font-size="8.2" fill="#dd4444" text-anchor="middle" stroke="#f8e2e2" stroke-width="2.2" paint-order="stroke" stroke-linejoin="round">3</text>
<text x="394.8" y="63.6" font-size="9.4" fill="#3a3ad0" text-anchor="middle" stroke="#e7e7f8" stroke-width="2.2" paint-order="stroke" stroke-linejoin="round">-9</text><text x="394.6" y="78.2" font-size="9.2" fill="#3a3ad0" text-anchor="middle" stroke="#c0c0f1" stroke-width="2.2" paint-order="stroke" stroke-linejoin="round">-21</text><text transform="translate(387.4,174.6) rotate(-62)" font-size="9.4" fill="#3a3ad0" text-anchor="middle" stroke="#e7e7f8" stroke-width="2.2" paint-order="stroke" stroke-linejoin="round">-9</text><text x="352.6" y="207.6" font-size="8.6" fill="#dd4444" text-anchor="middle" stroke="#f8e2e2" stroke-width="2.2" paint-order="stroke" stroke-linejoin="round">3</text><text x="474.5" y="195.4" font-size="8.6" fill="#dd4444" text-anchor="middle" stroke="#f4cdcd" stroke-width="2.2" paint-order="stroke" stroke-linejoin="round">15</text><text x="496.2" y="199.6" font-size="8.2" fill="#dd4444" text-anchor="middle" stroke="#f8e2e2" stroke-width="2.2" paint-order="stroke" stroke-linejoin="round">3</text><path d="M476.8,113.9 L480.2,113.9 M478.5,112.2 L478.5,115.6" stroke="#222" stroke-width="0.8"/>
<text x="89.6" y="17.0" font-size="8.1" fill="#111" textLength="103.0" lengthAdjust="spacingAndGlyphs">13/Oct/2016 16:24-16:26 UT</text>
<rect x="28.2" y="48.41" width="5.4" height="5.3" fill="#1a1af0"/>
<rect x="28.2" y="43.22" width="5.4" height="5.3" fill="#2050c8"/>
<rect x="28.2" y="38.03" width="5.4" height="5.3" fill="#2f9076"/>
<rect x="28.2" y="32.84" width="5.4" height="5.3" fill="#5cc83a"/>
<rect x="28.2" y="27.65" width="5.4" height="5.3" fill="#f4b21a"/>
<rect x="28.2" y="22.46" width="5.4" height="5.3" fill="#f67a16"/>
<rect x="28.2" y="17.27" width="5.4" height="5.3" fill="#f6461a"/>
<rect x="28.2" y="12.08" width="5.4" height="5.3" fill="#f41414"/>
<text x="34.8" y="24.8" font-size="4.4" fill="#000" textLength="6.8" lengthAdjust="spacingAndGlyphs" stroke="#000" stroke-width="0.18">600</text>
<text x="34.8" y="35.3" font-size="4.4" fill="#000" textLength="6.8" lengthAdjust="spacingAndGlyphs" stroke="#000" stroke-width="0.18">400</text>
<text x="34.8" y="45.8" font-size="4.4" fill="#000" textLength="6.8" lengthAdjust="spacingAndGlyphs" stroke="#000" stroke-width="0.18">200</text>
<text transform="translate(46.8,33.0) rotate(-90)" font-size="4.6" fill="#000" text-anchor="middle" textLength="17.4" lengthAdjust="spacingAndGlyphs">Vel [m/s]</text>
<text x="25.8" y="64.4" font-size="5.9" fill="#111" textLength="23.8" lengthAdjust="spacingAndGlyphs">1000 m/s</text>
<line x1="27.5" y1="69" x2="41.3" y2="69" stroke="#e88a8a" stroke-width="0.8"/>
<circle cx="27.6" cy="69" r="0.9" fill="#e06060"/>
<text transform="translate(16.9,245.5) rotate(-90)" font-size="5.0" fill="#222" textLength="208.0" lengthAdjust="spacingAndGlyphs">NOTE: FOR PREVIEW PURPOSES ONLY. PLEASE CONTACT VT-SD STAFF FOR VERIFICATION</text>
<text transform="translate(20.9,250.0) rotate(-90)" font-size="4.6" fill="#222" textLength="72.0" lengthAdjust="spacingAndGlyphs">FitOrder: 8, model: (mapEX format)</text>
<text transform="translate(20.9,46.0) rotate(-90)" font-size="4.9" fill="#222" textLength="38.0" lengthAdjust="spacingAndGlyphs">MLT coordinates</text>
<line x1="242.9" y1="14.4" x2="242.9" y2="43" stroke="#a0a0a0" stroke-width="0.9"/>
<line x1="234.9" y1="28.8" x2="250.9" y2="28.8" stroke="#a0a0a0" stroke-width="0.9"/>
<line x1="242.9" y1="28.8" x2="243.1" y2="41.8" stroke="#d42020" stroke-width="0.9"/>
<path d="M241.9,39.6 L243.1,42.1 L244.3,39.6Z" fill="#d42020"/>
<text x="245.2" y="14.9" font-size="4.6" fill="#d42020" textLength="21.3" lengthAdjust="spacingAndGlyphs">+Z (30 nT)</text>
<text x="251.4" y="31.8" font-size="4.2" fill="#d42020">+Y</text>
<text x="242.9" y="48.6" font-size="4.0" fill="#d42020" text-anchor="middle" textLength="15.0" lengthAdjust="spacingAndGlyphs" font-weight="bold">OMNI IMF</text>
<text x="242.9" y="53.6" font-size="4.0" fill="#d42020" text-anchor="middle" textLength="29.5" lengthAdjust="spacingAndGlyphs" font-weight="bold">Stat Mod: RG96</text>
<text x="242.9" y="57.8" font-size="4.0" fill="#d42020" text-anchor="middle" textLength="26.5" lengthAdjust="spacingAndGlyphs" font-weight="bold">Bz-, 6&lt;BT&lt;12</text>
<text x="229.2" y="223.6" font-size="6.0" fill="#111" textLength="38.4" lengthAdjust="spacingAndGlyphs">Φ<tspan font-size="3.7" dy="1.3">pc</tspan><tspan dy="-1.3"> =  61  kV</tspan></text>
<text x="230.2" y="235.3" font-size="6.0" fill="#111" textLength="32.6" lengthAdjust="spacingAndGlyphs">Λ<tspan font-size="3.7" dy="1.3">HM</tspan><tspan dy="-1.3"> =  50°</tspan></text>
<text x="230.2" y="247.5" font-size="6.0" fill="#111" textLength="32.1" lengthAdjust="spacingAndGlyphs">N<tspan font-size="3.7" dy="1.3">vc</tspan><tspan dy="-1.3"> =  416</tspan></text>
<text x="29.2" y="247.8" font-size="6.0" fill="#111" textLength="31.2" lengthAdjust="spacingAndGlyphs">N<tspan font-size="3.7" dy="1.3">rads</tspan><tspan dy="-1.3"> =  16</tspan></text>
<text x="21.8" y="263.7" font-size="6.3" fill="#111" text-anchor="middle">21</text>
<text x="75.5" y="263.7" font-size="6.3" fill="#111" text-anchor="middle">22</text>
<text x="113.0" y="263.7" font-size="6.3" fill="#111" text-anchor="middle">23</text>
<text x="146.3" y="263.7" font-size="6.3" fill="#111" text-anchor="middle">0</text>
<text x="179.5" y="263.7" font-size="6.3" fill="#111" text-anchor="middle">1</text>
<text x="216.5" y="263.7" font-size="6.3" fill="#111" text-anchor="middle">2</text>
<text x="268.8" y="263.7" font-size="6.3" fill="#111" text-anchor="middle">3</text>
<text x="3.6" y="263.8" font-size="14.2" fill="#111" font-family="Liberation Serif, serif">a</text>
<line x1="24.3" y1="123.3" x2="46.6" y2="106.5" stroke="#22cc22" stroke-width="1.6"/>
<line x1="24.3" y1="123.3" x2="37.9" y2="106.5" stroke="#1414e0" stroke-width="1.6"/>
<circle cx="24.3" cy="123.3" r="1.9" fill="#fff" stroke="#000" stroke-width="1.3"/>
<text x="362.9" y="17.0" font-size="8.1" fill="#111" textLength="103.0" lengthAdjust="spacingAndGlyphs">13/Oct/2016 16:48-16:50 UT</text>
<rect x="301.5" y="48.41" width="5.4" height="5.3" fill="#1a1af0"/>
<rect x="301.5" y="43.22" width="5.4" height="5.3" fill="#2050c8"/>
<rect x="301.5" y="38.03" width="5.4" height="5.3" fill="#2f9076"/>
<rect x="301.5" y="32.84" width="5.4" height="5.3" fill="#5cc83a"/>
<rect x="301.5" y="27.65" width="5.4" height="5.3" fill="#f4b21a"/>
<rect x="301.5" y="22.46" width="5.4" height="5.3" fill="#f67a16"/>
<rect x="301.5" y="17.27" width="5.4" height="5.3" fill="#f6461a"/>
<rect x="301.5" y="12.08" width="5.4" height="5.3" fill="#f41414"/>
<text x="308.1" y="24.8" font-size="4.4" fill="#000" textLength="6.8" lengthAdjust="spacingAndGlyphs" stroke="#000" stroke-width="0.18">600</text>
<text x="308.1" y="35.3" font-size="4.4" fill="#000" textLength="6.8" lengthAdjust="spacingAndGlyphs" stroke="#000" stroke-width="0.18">400</text>
<text x="308.1" y="45.8" font-size="4.4" fill="#000" textLength="6.8" lengthAdjust="spacingAndGlyphs" stroke="#000" stroke-width="0.18">200</text>
<text transform="translate(320.1,33.0) rotate(-90)" font-size="4.6" fill="#000" text-anchor="middle" textLength="17.4" lengthAdjust="spacingAndGlyphs">Vel [m/s]</text>
<text x="299.1" y="64.4" font-size="5.9" fill="#111" textLength="23.8" lengthAdjust="spacingAndGlyphs">1000 m/s</text>
<line x1="300.8" y1="69" x2="314.6" y2="69" stroke="#e88a8a" stroke-width="0.8"/>
<circle cx="300.9" cy="69" r="0.9" fill="#e06060"/>
<text transform="translate(290.2,245.5) rotate(-90)" font-size="5.0" fill="#222" textLength="208.0" lengthAdjust="spacingAndGlyphs">NOTE: FOR PREVIEW PURPOSES ONLY. PLEASE CONTACT VT-SD STAFF FOR VERIFICATION</text>
<text transform="translate(294.2,250.0) rotate(-90)" font-size="4.6" fill="#222" textLength="72.0" lengthAdjust="spacingAndGlyphs">FitOrder: 8, model: (mapEX format)</text>
<text transform="translate(294.2,46.0) rotate(-90)" font-size="4.9" fill="#222" textLength="38.0" lengthAdjust="spacingAndGlyphs">MLT coordinates</text>
<line x1="516.2" y1="14.4" x2="516.2" y2="43" stroke="#a0a0a0" stroke-width="0.9"/>
<line x1="508.2" y1="28.8" x2="524.2" y2="28.8" stroke="#a0a0a0" stroke-width="0.9"/>
<line x1="516.2" y1="28.8" x2="516.8" y2="37.6" stroke="#d42020" stroke-width="0.9"/>
<path d="M515.6,35.4 L516.8,37.9 L518.0,35.4Z" fill="#d42020"/>
<text x="518.5" y="14.9" font-size="4.6" fill="#d42020" textLength="21.3" lengthAdjust="spacingAndGlyphs">+Z (30 nT)</text>
<text x="524.7" y="31.8" font-size="4.2" fill="#d42020">+Y</text>
<text x="516.2" y="48.6" font-size="4.0" fill="#d42020" text-anchor="middle" textLength="15.0" lengthAdjust="spacingAndGlyphs" font-weight="bold">OMNI IMF</text>
<text x="516.2" y="53.6" font-size="4.0" fill="#d42020" text-anchor="middle" textLength="29.5" lengthAdjust="spacingAndGlyphs" font-weight="bold">Stat Mod: RG96</text>
<text x="516.2" y="57.8" font-size="4.0" fill="#d42020" text-anchor="middle" textLength="26.5" lengthAdjust="spacingAndGlyphs" font-weight="bold">Bz-, 6&lt;BT&lt;12</text>
<text x="502.5" y="223.6" font-size="6.0" fill="#111" textLength="38.4" lengthAdjust="spacingAndGlyphs">Φ<tspan font-size="3.7" dy="1.3">pc</tspan><tspan dy="-1.3"> =  74  kV</tspan></text>
<text x="503.5" y="235.3" font-size="6.0" fill="#111" textLength="32.6" lengthAdjust="spacingAndGlyphs">Λ<tspan font-size="3.7" dy="1.3">HM</tspan><tspan dy="-1.3"> =  50°</tspan></text>
<text x="503.5" y="247.5" font-size="6.0" fill="#111" textLength="32.1" lengthAdjust="spacingAndGlyphs">N<tspan font-size="3.7" dy="1.3">vc</tspan><tspan dy="-1.3"> =  437</tspan></text>
<text x="302.5" y="247.8" font-size="6.0" fill="#111" textLength="31.2" lengthAdjust="spacingAndGlyphs">N<tspan font-size="3.7" dy="1.3">rads</tspan><tspan dy="-1.3"> =  15</tspan></text>
<text x="295.1" y="263.7" font-size="6.3" fill="#111" text-anchor="middle">21</text>
<text x="348.8" y="263.7" font-size="6.3" fill="#111" text-anchor="middle">22</text>
<text x="386.3" y="263.7" font-size="6.3" fill="#111" text-anchor="middle">23</text>
<text x="419.6" y="263.7" font-size="6.3" fill="#111" text-anchor="middle">0</text>
<text x="452.8" y="263.7" font-size="6.3" fill="#111" text-anchor="middle">1</text>
<text x="489.8" y="263.7" font-size="6.3" fill="#111" text-anchor="middle">2</text>
<text x="542.1" y="263.7" font-size="6.3" fill="#111" text-anchor="middle">3</text>
<text x="276.9" y="263.8" font-size="14.2" fill="#111" font-family="Liberation Serif, serif">b</text>
<line x1="299.1" y1="133.8" x2="285" y2="127.1" stroke="#22cc22" stroke-width="1.6"/>
<line x1="299.1" y1="133.8" x2="309.5" y2="132.3" stroke="#1414e0" stroke-width="1.6"/>
<circle cx="299.1" cy="133.8" r="1.9" fill="#fff" stroke="#000" stroke-width="1.3"/>
</svg></body></html>
